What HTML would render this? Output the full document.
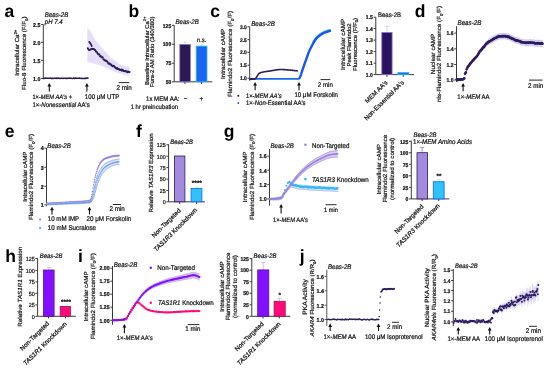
<!DOCTYPE html>
<html><head><meta charset="utf-8"><style>
html,body{margin:0;padding:0;background:#fff;width:550px;height:368px;overflow:hidden}
svg{display:block;will-change:transform}
text{font-family:"Liberation Sans", sans-serif;text-rendering:geometricPrecision}
</style></head><body>
<svg width="550" height="368" viewBox="0 0 550 368">
<rect width="550" height="368" fill="#fff"/>
<text x="4.6" y="16.9" style="font-size:17.5px;font-weight:bold" fill="#000">a</text>
<text x="0.00" y="0.00" text-anchor="middle" style="font-size:6.14px;" fill="#111" stroke="#111" stroke-width="0.22" transform="translate(18.90 52.70) scale(0.95 1) rotate(-90)" textLength="46.20" lengthAdjust="spacingAndGlyphs">Intracellular Ca<tspan dy="-2.46" font-size="4.30">2+</tspan><tspan dy="2.46">&#8203;</tspan></text>
<text x="0.00" y="0.00" text-anchor="middle" style="font-size:6.14px;" fill="#111" stroke="#111" stroke-width="0.22" transform="translate(25.90 53.20) scale(0.95 1) rotate(-90)" textLength="73.40" lengthAdjust="spacingAndGlyphs">Fluo-8 Fluorescence (F/F<tspan dy="1.72" font-size="4.30">0</tspan><tspan dy="-1.72">&#8203;</tspan>)</text>
<line x1="43.30" y1="24.50" x2="43.30" y2="78.60" stroke="#3a3a3a" stroke-width="1.0"/>
<line x1="41.10" y1="24.50" x2="43.30" y2="24.50" stroke="#3a3a3a" stroke-width="1.0"/>
<text x="40.40" y="26.81" text-anchor="end" style="font-size:5.72px;font-weight:bold;" fill="#111" stroke="#111" stroke-width="0.22" textLength="7.37" lengthAdjust="spacingAndGlyphs">2.5</text>
<line x1="41.10" y1="42.30" x2="43.30" y2="42.30" stroke="#3a3a3a" stroke-width="1.0"/>
<text x="40.40" y="44.61" text-anchor="end" style="font-size:5.72px;font-weight:bold;" fill="#111" stroke="#111" stroke-width="0.22" textLength="7.37" lengthAdjust="spacingAndGlyphs">2.0</text>
<line x1="41.10" y1="60.40" x2="43.30" y2="60.40" stroke="#3a3a3a" stroke-width="1.0"/>
<text x="40.40" y="62.71" text-anchor="end" style="font-size:5.72px;font-weight:bold;" fill="#111" stroke="#111" stroke-width="0.22" textLength="7.37" lengthAdjust="spacingAndGlyphs">1.5</text>
<line x1="41.10" y1="78.40" x2="43.30" y2="78.40" stroke="#3a3a3a" stroke-width="1.0"/>
<text x="40.40" y="80.71" text-anchor="end" style="font-size:5.72px;font-weight:bold;" fill="#111" stroke="#111" stroke-width="0.22" textLength="7.37" lengthAdjust="spacingAndGlyphs">1.0</text>
<text x="44.80" y="16.60" text-anchor="start" style="font-size:6.77px;font-style:italic;" fill="#111" stroke="#111" stroke-width="0.22" textLength="23.60" lengthAdjust="spacingAndGlyphs">Beas-2B</text>
<text x="44.80" y="23.80" text-anchor="start" style="font-size:6.60px;font-style:italic;" fill="#111" stroke="#111" stroke-width="0.22" textLength="17.68" lengthAdjust="spacingAndGlyphs">pH 7.4</text>
<polyline points="43.40,78.51 44.16,78.35 44.91,78.31 45.67,78.08 46.42,78.27 47.18,78.26 47.94,78.29 48.69,78.22 49.45,78.29 50.20,78.24 50.96,78.14 51.72,78.41 52.47,78.41 53.23,78.51 53.98,78.31 54.74,78.25 55.49,78.23 56.25,78.11 57.01,78.42 57.76,78.17 58.52,78.16 59.27,78.28 60.03,78.48 60.79,78.33 61.54,78.18 62.30,78.21 63.05,78.38 63.81,78.28 64.57,78.21 65.32,78.27 66.08,78.39 66.83,78.54 67.59,78.15 68.35,78.22 69.10,78.20 69.86,78.01 70.61,78.19 71.37,78.18 72.13,78.43 72.88,78.28 73.64,78.11 74.39,78.38 75.15,78.26 75.91,78.09 76.66,78.23 77.42,78.23 78.17,78.20 78.93,78.30 79.68,78.03 80.44,78.27 81.20,78.42 81.95,78.40 82.71,78.43 83.46,78.43 84.22,78.48 84.98,78.17 85.73,78.40 86.49,78.08 87.24,78.23 88.00,78.07" fill="none" stroke="#2d1b5c" stroke-width="1.6" stroke-linejoin="round" stroke-linecap="round" />
<polygon points="87.60,28.10 88.21,28.43 88.81,28.87 89.42,29.41 90.03,30.03 90.64,30.84 91.24,31.89 91.85,33.11 92.46,34.43 93.07,35.79 93.67,37.10 94.28,38.31 94.89,39.33 95.49,40.18 96.10,40.95 96.71,41.66 97.32,42.33 97.92,42.98 98.53,43.61 99.14,44.25 99.74,44.91 100.35,45.60 100.96,46.29 101.57,46.99 102.17,47.68 102.78,48.37 103.39,49.06 104.00,49.76 104.60,50.45 105.21,51.14 105.82,51.85 106.42,52.58 107.03,53.31 107.64,54.04 108.25,54.75 108.85,55.43 109.46,56.07 110.07,56.66 110.68,57.22 111.28,57.74 111.89,58.25 112.50,58.73 113.10,59.20 113.71,59.66 114.32,60.11 114.93,60.55 115.53,60.99 116.14,61.43 116.75,61.86 117.36,62.28 117.96,62.69 118.57,63.08 119.18,63.45 119.78,63.79 120.39,64.10 121.00,64.39 121.61,64.68 122.21,64.95 122.82,65.20 123.43,65.44 124.03,65.67 124.64,65.88 125.25,66.08 125.86,66.27 126.46,66.45 127.07,66.62 127.68,66.79 128.29,66.94 128.89,67.08 129.50,67.20 129.50,76.10 128.89,76.03 128.29,75.94 127.68,75.84 127.07,75.73 126.46,75.61 125.86,75.49 125.25,75.36 124.64,75.21 124.03,75.05 123.43,74.87 122.82,74.67 122.21,74.47 121.61,74.25 121.00,74.04 120.39,73.83 119.78,73.63 119.18,73.43 118.57,73.23 117.96,73.03 117.36,72.83 116.75,72.62 116.14,72.41 115.53,72.20 114.93,71.97 114.32,71.74 113.71,71.49 113.10,71.24 112.50,70.99 111.89,70.73 111.28,70.46 110.68,70.20 110.07,69.93 109.46,69.66 108.85,69.38 108.25,69.10 107.64,68.82 107.03,68.53 106.42,68.25 105.82,67.97 105.21,67.69 104.60,67.43 104.00,67.16 103.39,66.89 102.78,66.62 102.17,66.36 101.57,66.11 100.96,65.86 100.35,65.63 99.74,65.41 99.14,65.19 98.53,64.98 97.92,64.78 97.32,64.58 96.71,64.39 96.10,64.20 95.49,64.03 94.89,63.87 94.28,63.71 93.67,63.56 93.07,63.41 92.46,63.27 91.85,63.12 91.24,62.99 90.64,62.86 90.03,62.73 89.42,62.61 88.81,62.50 88.21,62.40 87.60,62.30" fill="#ebe6fa" fill-opacity="1.0" stroke="none"/>
<line x1="87.60" y1="28.22" x2="87.60" y2="61.81" stroke="#d2c7f3" stroke-width="0.3"/>
<line x1="88.81" y1="30.81" x2="88.81" y2="62.04" stroke="#d2c7f3" stroke-width="0.3"/>
<line x1="90.03" y1="31.41" x2="90.03" y2="61.43" stroke="#d2c7f3" stroke-width="0.3"/>
<line x1="91.24" y1="33.34" x2="91.24" y2="62.04" stroke="#d2c7f3" stroke-width="0.3"/>
<line x1="92.46" y1="35.63" x2="92.46" y2="63.13" stroke="#d2c7f3" stroke-width="0.3"/>
<line x1="93.67" y1="37.25" x2="93.67" y2="63.16" stroke="#d2c7f3" stroke-width="0.3"/>
<line x1="94.89" y1="39.64" x2="94.89" y2="63.67" stroke="#d2c7f3" stroke-width="0.3"/>
<line x1="96.10" y1="41.21" x2="96.10" y2="63.10" stroke="#d2c7f3" stroke-width="0.3"/>
<line x1="97.32" y1="42.71" x2="97.32" y2="62.67" stroke="#d2c7f3" stroke-width="0.3"/>
<line x1="98.53" y1="44.97" x2="98.53" y2="63.90" stroke="#d2c7f3" stroke-width="0.3"/>
<line x1="99.74" y1="46.33" x2="99.74" y2="64.88" stroke="#d2c7f3" stroke-width="0.3"/>
<line x1="100.96" y1="48.15" x2="100.96" y2="64.19" stroke="#d2c7f3" stroke-width="0.3"/>
<line x1="102.17" y1="49.13" x2="102.17" y2="65.40" stroke="#d2c7f3" stroke-width="0.3"/>
<line x1="103.39" y1="50.75" x2="103.39" y2="65.40" stroke="#d2c7f3" stroke-width="0.3"/>
<line x1="104.60" y1="51.77" x2="104.60" y2="65.60" stroke="#d2c7f3" stroke-width="0.3"/>
<line x1="105.82" y1="53.12" x2="105.82" y2="67.23" stroke="#d2c7f3" stroke-width="0.3"/>
<line x1="107.03" y1="54.42" x2="107.03" y2="68.14" stroke="#d2c7f3" stroke-width="0.3"/>
<line x1="108.25" y1="55.13" x2="108.25" y2="67.65" stroke="#d2c7f3" stroke-width="0.3"/>
<line x1="109.46" y1="57.64" x2="109.46" y2="67.72" stroke="#d2c7f3" stroke-width="0.3"/>
<line x1="110.68" y1="58.92" x2="110.68" y2="69.11" stroke="#d2c7f3" stroke-width="0.3"/>
<line x1="111.89" y1="58.43" x2="111.89" y2="69.75" stroke="#d2c7f3" stroke-width="0.3"/>
<line x1="113.10" y1="61.06" x2="113.10" y2="69.67" stroke="#d2c7f3" stroke-width="0.3"/>
<line x1="114.32" y1="61.08" x2="114.32" y2="70.83" stroke="#d2c7f3" stroke-width="0.3"/>
<line x1="115.53" y1="61.42" x2="115.53" y2="71.84" stroke="#d2c7f3" stroke-width="0.3"/>
<line x1="116.75" y1="62.01" x2="116.75" y2="70.84" stroke="#d2c7f3" stroke-width="0.3"/>
<line x1="117.96" y1="63.97" x2="117.96" y2="72.75" stroke="#d2c7f3" stroke-width="0.3"/>
<line x1="119.18" y1="64.28" x2="119.18" y2="73.33" stroke="#d2c7f3" stroke-width="0.3"/>
<line x1="120.39" y1="64.52" x2="120.39" y2="72.37" stroke="#d2c7f3" stroke-width="0.3"/>
<line x1="121.61" y1="65.98" x2="121.61" y2="73.30" stroke="#d2c7f3" stroke-width="0.3"/>
<line x1="122.82" y1="65.75" x2="122.82" y2="73.37" stroke="#d2c7f3" stroke-width="0.3"/>
<line x1="124.03" y1="67.58" x2="124.03" y2="74.18" stroke="#d2c7f3" stroke-width="0.3"/>
<line x1="125.25" y1="66.22" x2="125.25" y2="75.24" stroke="#d2c7f3" stroke-width="0.3"/>
<line x1="126.46" y1="66.62" x2="126.46" y2="73.70" stroke="#d2c7f3" stroke-width="0.3"/>
<line x1="127.68" y1="67.87" x2="127.68" y2="74.17" stroke="#d2c7f3" stroke-width="0.3"/>
<line x1="128.89" y1="67.42" x2="128.89" y2="75.51" stroke="#d2c7f3" stroke-width="0.3"/>
<circle cx="92.50" cy="48.92" r="1.0" fill="#2d1b5c"/>
<circle cx="93.19" cy="49.07" r="1.0" fill="#2d1b5c"/>
<circle cx="93.87" cy="49.07" r="1.0" fill="#2d1b5c"/>
<circle cx="94.56" cy="49.75" r="1.0" fill="#2d1b5c"/>
<circle cx="95.24" cy="50.21" r="1.0" fill="#2d1b5c"/>
<circle cx="95.93" cy="51.56" r="1.0" fill="#2d1b5c"/>
<circle cx="96.61" cy="51.70" r="1.0" fill="#2d1b5c"/>
<circle cx="97.30" cy="53.06" r="1.0" fill="#2d1b5c"/>
<circle cx="97.98" cy="53.97" r="1.0" fill="#2d1b5c"/>
<circle cx="98.67" cy="54.49" r="1.0" fill="#2d1b5c"/>
<circle cx="99.35" cy="54.53" r="1.0" fill="#2d1b5c"/>
<circle cx="100.04" cy="56.31" r="1.0" fill="#2d1b5c"/>
<circle cx="100.72" cy="56.00" r="1.0" fill="#2d1b5c"/>
<circle cx="101.41" cy="57.26" r="1.0" fill="#2d1b5c"/>
<circle cx="102.09" cy="57.36" r="1.0" fill="#2d1b5c"/>
<circle cx="102.78" cy="57.52" r="1.0" fill="#2d1b5c"/>
<circle cx="103.46" cy="59.13" r="1.0" fill="#2d1b5c"/>
<circle cx="104.15" cy="59.75" r="1.0" fill="#2d1b5c"/>
<circle cx="104.83" cy="60.13" r="1.0" fill="#2d1b5c"/>
<circle cx="105.52" cy="60.83" r="1.0" fill="#2d1b5c"/>
<circle cx="106.20" cy="60.86" r="1.0" fill="#2d1b5c"/>
<circle cx="106.89" cy="61.29" r="1.0" fill="#2d1b5c"/>
<circle cx="107.57" cy="62.05" r="1.0" fill="#2d1b5c"/>
<circle cx="108.26" cy="63.58" r="1.0" fill="#2d1b5c"/>
<circle cx="108.94" cy="63.55" r="1.0" fill="#2d1b5c"/>
<circle cx="109.63" cy="63.45" r="1.0" fill="#2d1b5c"/>
<circle cx="110.31" cy="64.57" r="1.0" fill="#2d1b5c"/>
<circle cx="111.00" cy="64.61" r="1.0" fill="#2d1b5c"/>
<circle cx="111.69" cy="65.15" r="1.0" fill="#2d1b5c"/>
<circle cx="112.37" cy="66.28" r="1.0" fill="#2d1b5c"/>
<circle cx="113.06" cy="66.03" r="1.0" fill="#2d1b5c"/>
<circle cx="113.74" cy="65.87" r="1.0" fill="#2d1b5c"/>
<circle cx="114.43" cy="66.65" r="1.0" fill="#2d1b5c"/>
<circle cx="115.11" cy="67.50" r="1.0" fill="#2d1b5c"/>
<circle cx="115.80" cy="67.84" r="1.0" fill="#2d1b5c"/>
<circle cx="116.48" cy="68.70" r="1.0" fill="#2d1b5c"/>
<circle cx="117.17" cy="68.00" r="1.0" fill="#2d1b5c"/>
<circle cx="117.85" cy="69.00" r="1.0" fill="#2d1b5c"/>
<circle cx="118.54" cy="69.14" r="1.0" fill="#2d1b5c"/>
<circle cx="119.22" cy="69.13" r="1.0" fill="#2d1b5c"/>
<circle cx="119.91" cy="69.90" r="1.0" fill="#2d1b5c"/>
<circle cx="120.59" cy="70.00" r="1.0" fill="#2d1b5c"/>
<circle cx="121.28" cy="69.57" r="1.0" fill="#2d1b5c"/>
<circle cx="121.96" cy="70.78" r="1.0" fill="#2d1b5c"/>
<circle cx="122.65" cy="69.87" r="1.0" fill="#2d1b5c"/>
<circle cx="123.33" cy="70.74" r="1.0" fill="#2d1b5c"/>
<circle cx="124.02" cy="70.92" r="1.0" fill="#2d1b5c"/>
<circle cx="124.70" cy="71.33" r="1.0" fill="#2d1b5c"/>
<circle cx="125.39" cy="70.94" r="1.0" fill="#2d1b5c"/>
<circle cx="126.07" cy="71.46" r="1.0" fill="#2d1b5c"/>
<circle cx="126.76" cy="71.57" r="1.0" fill="#2d1b5c"/>
<circle cx="127.44" cy="72.30" r="1.0" fill="#2d1b5c"/>
<circle cx="128.13" cy="71.55" r="1.0" fill="#2d1b5c"/>
<circle cx="128.81" cy="72.11" r="1.0" fill="#2d1b5c"/>
<circle cx="129.50" cy="72.07" r="1.0" fill="#2d1b5c"/>
<circle cx="87.80" cy="48.20" r="0.95" fill="#2d1b5c"/>
<circle cx="88.30" cy="49.30" r="0.95" fill="#2d1b5c"/>
<circle cx="89.00" cy="50.00" r="0.95" fill="#2d1b5c"/>
<circle cx="89.80" cy="49.90" r="0.95" fill="#2d1b5c"/>
<circle cx="90.60" cy="49.40" r="0.95" fill="#2d1b5c"/>
<circle cx="91.40" cy="48.90" r="0.95" fill="#2d1b5c"/>
<circle cx="92.00" cy="48.60" r="0.95" fill="#2d1b5c"/>
<circle cx="89.30" cy="41.90" r="0.95" fill="#2d1b5c"/>
<circle cx="89.90" cy="42.80" r="0.95" fill="#2d1b5c"/>
<circle cx="90.50" cy="43.60" r="0.95" fill="#2d1b5c"/>
<circle cx="91.10" cy="44.80" r="0.95" fill="#2d1b5c"/>
<circle cx="91.70" cy="46.00" r="0.95" fill="#2d1b5c"/>
<line x1="49.30" y1="85.50" x2="49.30" y2="91.60" stroke="#111" stroke-width="1.1"/>
<path d="M47.40,86.50 L49.30,83.00 L51.20,86.50 Z" fill="#111"/>
<line x1="86.90" y1="85.50" x2="86.90" y2="91.60" stroke="#111" stroke-width="1.1"/>
<path d="M85.00,86.50 L86.90,83.00 L88.80,86.50 Z" fill="#111"/>
<text x="32.40" y="99.20" text-anchor="start" style="font-size:6.28px;" fill="#111" stroke="#111" stroke-width="0.22" textLength="39.60" lengthAdjust="spacingAndGlyphs">1×-<tspan font-style="italic">MEM AA's</tspan> +</text>
<text x="32.40" y="106.60" text-anchor="start" style="font-size:6.63px;" fill="#111" stroke="#111" stroke-width="0.22" textLength="57.30" lengthAdjust="spacingAndGlyphs">1×-<tspan font-style="italic">Nonessential</tspan> AA's</text>
<text x="84.80" y="99.20" text-anchor="start" style="font-size:6.76px;" fill="#111" stroke="#111" stroke-width="0.22" textLength="34.60" lengthAdjust="spacingAndGlyphs">100 μM UTP</text>
<line x1="118.70" y1="82.60" x2="129.40" y2="82.60" stroke="#111" stroke-width="0.9"/>
<text x="116.50" y="89.50" text-anchor="start" style="font-size:6.88px;" fill="#111" stroke="#111" stroke-width="0.22" textLength="15.30" lengthAdjust="spacingAndGlyphs">2 min</text>
<text x="128.6" y="17" style="font-size:17.5px;font-weight:bold" fill="#000">b</text>
<text x="0.00" y="0.00" text-anchor="middle" style="font-size:5.89px;" fill="#111" stroke="#111" stroke-width="0.22" transform="translate(148.60 50.75) scale(0.95 1) rotate(-90)" textLength="68.50" lengthAdjust="spacingAndGlyphs">Baseline Intracellular Ca<tspan dy="-2.35" font-size="4.12">2+</tspan><tspan dy="2.35">&#8203;</tspan></text>
<text x="0.00" y="0.00" text-anchor="middle" style="font-size:5.97px;" fill="#111" stroke="#111" stroke-width="0.22" transform="translate(153.60 51.85) scale(0.95 1) rotate(-90)" textLength="70.70" lengthAdjust="spacingAndGlyphs">Fura-2 AM Ratio (340/380)</text>
<line x1="174.20" y1="25.30" x2="174.20" y2="81.80" stroke="#3a3a3a" stroke-width="1.0"/>
<line x1="172.00" y1="25.30" x2="174.20" y2="25.30" stroke="#3a3a3a" stroke-width="1.0"/>
<text x="171.30" y="27.53" text-anchor="end" style="font-size:5.50px;font-weight:bold;" fill="#111" stroke="#111" stroke-width="0.22" textLength="8.49" lengthAdjust="spacingAndGlyphs">125</text>
<line x1="172.00" y1="44.20" x2="174.20" y2="44.20" stroke="#3a3a3a" stroke-width="1.0"/>
<text x="171.30" y="46.43" text-anchor="end" style="font-size:5.50px;font-weight:bold;" fill="#111" stroke="#111" stroke-width="0.22" textLength="8.49" lengthAdjust="spacingAndGlyphs">100</text>
<line x1="172.00" y1="63.20" x2="174.20" y2="63.20" stroke="#3a3a3a" stroke-width="1.0"/>
<text x="171.30" y="65.43" text-anchor="end" style="font-size:5.50px;font-weight:bold;" fill="#111" stroke="#111" stroke-width="0.22" textLength="5.66" lengthAdjust="spacingAndGlyphs">75</text>
<line x1="172.00" y1="81.80" x2="174.20" y2="81.80" stroke="#3a3a3a" stroke-width="1.0"/>
<text x="171.30" y="84.03" text-anchor="end" style="font-size:5.50px;font-weight:bold;" fill="#111" stroke="#111" stroke-width="0.22" textLength="5.66" lengthAdjust="spacingAndGlyphs">50</text>
<line x1="174.20" y1="81.80" x2="212.30" y2="81.80" stroke="#3a3a3a" stroke-width="1.0"/>
<line x1="184.90" y1="81.80" x2="184.90" y2="84.00" stroke="#3a3a3a" stroke-width="1.0"/>
<line x1="201.50" y1="81.80" x2="201.50" y2="84.00" stroke="#3a3a3a" stroke-width="1.0"/>
<line x1="184.90" y1="44.40" x2="184.90" y2="41.80" stroke="#cbbff2" stroke-width="0.6"/>
<line x1="183.30" y1="41.80" x2="186.50" y2="41.80" stroke="#cbbff2" stroke-width="0.6"/>
<rect x="179.80" y="44.40" width="10.60" height="37.40" fill="#2b1a52" stroke="#8d76d8" stroke-width="0.8"/>
<line x1="201.50" y1="46.10" x2="201.50" y2="44.40" stroke="#a8e4ff" stroke-width="0.6"/>
<line x1="199.90" y1="44.40" x2="203.10" y2="44.40" stroke="#a8e4ff" stroke-width="0.6"/>
<rect x="196.20" y="46.10" width="10.80" height="35.70" fill="#1a66ee" stroke="#22b8ff" stroke-width="0.8"/>
<text x="197.10" y="41.60" text-anchor="start" style="font-size:6.28px;" fill="#111" stroke="#111" stroke-width="0.22" textLength="9.20" lengthAdjust="spacingAndGlyphs">n.s.</text>
<text x="175.50" y="23.80" text-anchor="start" style="font-size:6.68px;font-style:italic;" fill="#111" stroke="#111" stroke-width="0.22" textLength="23.30" lengthAdjust="spacingAndGlyphs">Beas-2B</text>
<text x="146.00" y="101.20" text-anchor="start" style="font-size:6.70px;" fill="#111" stroke="#111" stroke-width="0.22" textLength="33.50" lengthAdjust="spacingAndGlyphs">1x MEM AA:</text>
<text x="185.60" y="101.00" text-anchor="middle" style="font-size:6.82px;" fill="#111" stroke="#111" stroke-width="0.22" textLength="3.62" lengthAdjust="spacingAndGlyphs">−</text>
<text x="201.30" y="101.00" text-anchor="middle" style="font-size:6.82px;" fill="#111" stroke="#111" stroke-width="0.22" textLength="3.62" lengthAdjust="spacingAndGlyphs">+</text>
<text x="130.70" y="108.50" text-anchor="start" style="font-size:6.50px;" fill="#111" stroke="#111" stroke-width="0.22" textLength="47.30" lengthAdjust="spacingAndGlyphs">1 hr preincubation</text>
<text x="210.3" y="17.2" style="font-size:17.5px;font-weight:bold" fill="#000">c</text>
<text x="0.00" y="0.00" text-anchor="middle" style="font-size:6.19px;" fill="#111" stroke="#111" stroke-width="0.22" transform="translate(225.20 53.90) scale(0.95 1) rotate(-90)" textLength="50.20" lengthAdjust="spacingAndGlyphs">Intracellular cAMP</text>
<text x="0.00" y="0.00" text-anchor="middle" style="font-size:6.25px;" fill="#111" stroke="#111" stroke-width="0.22" transform="translate(232.00 53.95) scale(0.95 1) rotate(-90)" textLength="86.10" lengthAdjust="spacingAndGlyphs">Flamindo2 Fluorescence (F<tspan dy="1.75" font-size="4.37">0</tspan><tspan dy="-1.75">&#8203;</tspan>/F)</text>
<line x1="249.70" y1="26.70" x2="249.70" y2="80.80" stroke="#3a3a3a" stroke-width="1.0"/>
<line x1="247.50" y1="26.70" x2="249.70" y2="26.70" stroke="#3a3a3a" stroke-width="1.0"/>
<text x="246.80" y="28.89" text-anchor="end" style="font-size:5.38px;font-weight:bold;" fill="#111" stroke="#111" stroke-width="0.22" textLength="6.92" lengthAdjust="spacingAndGlyphs">3.0</text>
<line x1="247.50" y1="39.60" x2="249.70" y2="39.60" stroke="#3a3a3a" stroke-width="1.0"/>
<text x="246.80" y="41.79" text-anchor="end" style="font-size:5.38px;font-weight:bold;" fill="#111" stroke="#111" stroke-width="0.22" textLength="6.92" lengthAdjust="spacingAndGlyphs">2.5</text>
<line x1="247.50" y1="52.30" x2="249.70" y2="52.30" stroke="#3a3a3a" stroke-width="1.0"/>
<text x="246.80" y="54.49" text-anchor="end" style="font-size:5.38px;font-weight:bold;" fill="#111" stroke="#111" stroke-width="0.22" textLength="6.92" lengthAdjust="spacingAndGlyphs">2.0</text>
<line x1="247.50" y1="65.20" x2="249.70" y2="65.20" stroke="#3a3a3a" stroke-width="1.0"/>
<text x="246.80" y="67.39" text-anchor="end" style="font-size:5.38px;font-weight:bold;" fill="#111" stroke="#111" stroke-width="0.22" textLength="6.92" lengthAdjust="spacingAndGlyphs">1.5</text>
<line x1="247.50" y1="78.20" x2="249.70" y2="78.20" stroke="#3a3a3a" stroke-width="1.0"/>
<text x="246.80" y="80.39" text-anchor="end" style="font-size:5.38px;font-weight:bold;" fill="#111" stroke="#111" stroke-width="0.22" textLength="6.92" lengthAdjust="spacingAndGlyphs">1.0</text>
<text x="251.20" y="25.70" text-anchor="start" style="font-size:6.80px;font-style:italic;" fill="#111" stroke="#111" stroke-width="0.22" textLength="23.70" lengthAdjust="spacingAndGlyphs">Beas-2B</text>
<polyline points="313.15,42.50 313.52,41.82 313.89,41.16 314.25,40.52 314.62,39.93 314.99,39.39 315.35,38.90 315.72,38.45 316.08,38.02 316.45,37.61 316.82,37.21 317.18,36.84 317.55,36.49 317.92,36.15 318.28,35.82 318.65,35.51 319.01,35.21 319.38,34.92 319.75,34.63 320.11,34.35 320.48,34.08 320.84,33.83 321.21,33.57 321.58,33.33 321.94,33.10 322.31,32.88 322.68,32.68 323.04,32.48 323.41,32.30 323.77,32.12 324.14,31.96 324.51,31.81 324.87,31.66 325.24,31.52 325.61,31.38 325.97,31.25 326.34,31.13 326.70,31.00 327.07,30.88 327.44,30.75 327.80,30.64 328.17,30.52 328.54,30.41 328.90,30.30 329.27,30.20 329.63,30.10 330.00,30.00" fill="none" stroke="#40c0ff" stroke-width="2.2" stroke-linejoin="round" stroke-linecap="round" />
<polyline points="249.80,78.90 250.17,78.90 250.53,78.90 250.90,78.90 251.26,78.90 251.63,78.90 252.00,78.90 252.36,78.90 252.73,78.90 253.10,78.90 253.46,78.90 253.83,78.90 254.19,78.90 254.56,78.90 254.93,78.90 255.29,78.90 255.66,78.90 256.03,78.90 256.39,78.90 256.76,78.90 257.12,78.90 257.49,78.90 257.86,78.90 258.22,78.90 258.59,78.90 258.96,78.90 259.32,78.90 259.69,78.90 260.05,78.90 260.42,78.90 260.79,78.90 261.15,78.90 261.52,78.90 261.88,78.90 262.25,78.90 262.62,78.90 262.98,78.90 263.35,78.90 263.72,78.90 264.08,78.90 264.45,78.90 264.81,78.90 265.18,78.90 265.55,78.90 265.91,78.90 266.28,78.90 266.65,78.90 267.01,78.90 267.38,78.90 267.74,78.90 268.11,78.90 268.48,78.90 268.84,78.90 269.21,78.90 269.58,78.90 269.94,78.90 270.31,78.90 270.67,78.90 271.04,78.90 271.41,78.90 271.77,78.90 272.14,78.90 272.51,78.90 272.87,78.90 273.24,78.90 273.60,78.90 273.97,78.90 274.34,78.90 274.70,78.90 275.07,78.90 275.43,78.90 275.80,78.90 276.17,78.90 276.53,78.90 276.90,78.90 277.27,78.90 277.63,78.90 278.00,78.90 278.36,78.90 278.73,78.90 279.10,78.90 279.46,78.90 279.83,78.90 280.20,78.90 280.56,78.90 280.93,78.90 281.29,78.90 281.66,78.90 282.03,78.90 282.39,78.90 282.76,78.90 283.13,78.90 283.49,78.90 283.86,78.90 284.22,78.90 284.59,78.90 284.96,78.90 285.32,78.90 285.69,78.90 286.05,78.90 286.42,78.90 286.79,78.90 287.15,78.90 287.52,78.90 287.89,78.90 288.25,78.90 288.62,78.90 288.98,78.90 289.35,78.90 289.72,78.90 290.08,78.90 290.45,78.90 290.82,78.90 291.18,78.90 291.55,78.90 291.91,78.90 292.28,78.90 292.65,78.90 293.01,78.90 293.38,78.90 293.75,78.90 294.11,78.90 294.48,78.90 294.84,78.90 295.21,78.90 295.58,78.90 295.94,78.90 296.31,78.90 296.67,78.90 297.04,78.90 297.41,78.90 297.77,78.90 298.14,78.90 298.51,78.90 298.87,78.79 299.24,78.40 299.60,77.89 299.97,77.20" fill="none" stroke="#1a66ee" stroke-width="1.7" stroke-linejoin="round" stroke-linecap="round" />
<polyline points="299.60,77.89 299.97,77.20 300.34,76.29 300.70,75.33 301.07,74.28 301.44,73.15 301.80,71.98 302.17,70.81 302.53,69.70 302.90,68.63 303.27,67.58 303.63,66.54 304.00,65.50 304.37,64.48 304.73,63.46 305.10,62.45 305.46,61.43 305.83,60.42 306.20,59.41 306.56,58.38 306.93,57.34 307.29,56.28 307.66,55.24 308.03,54.21 308.39,53.22 308.76,52.27 309.13,51.37 309.49,50.54 309.86,49.74 310.22,48.98 310.59,48.24 310.96,47.53 311.32,46.83 311.69,46.15 312.06,45.47 312.42,44.79 312.79,44.09 313.15,43.40 313.52,42.72 313.89,42.06 314.25,41.42 314.62,40.83 314.99,40.29 315.35,39.80 315.72,39.35 316.08,38.92 316.45,38.51 316.82,38.11 317.18,37.74 317.55,37.39 317.92,37.05 318.28,36.72 318.65,36.41 319.01,36.11 319.38,35.82 319.75,35.53 320.11,35.25 320.48,34.98 320.84,34.73 321.21,34.47 321.58,34.23 321.94,34.00 322.31,33.78 322.68,33.58 323.04,33.38 323.41,33.20 323.77,33.02 324.14,32.86 324.51,32.71 324.87,32.56 325.24,32.42 325.61,32.28 325.97,32.15 326.34,32.03 326.70,31.90 327.07,31.78 327.44,31.65 327.80,31.54 328.17,31.42 328.54,31.31 328.90,31.20 329.27,31.10 329.63,31.00 330.00,30.90" fill="none" stroke="#1458f0" stroke-width="2.4" stroke-linejoin="round" stroke-linecap="round" />
<polyline points="249.80,79.10 250.40,79.10 251.00,79.10 251.60,79.10 252.21,79.10 252.81,79.10 253.41,79.10 254.01,79.09 254.61,78.99 255.21,78.73 255.81,78.24 256.41,77.43 257.02,76.39 257.62,75.37 258.22,74.43 258.82,73.68 259.42,73.20 260.02,72.92 260.62,72.69 261.22,72.50 261.83,72.34 262.43,72.19 263.03,72.06 263.63,71.94 264.23,71.83 264.83,71.72 265.43,71.62 266.03,71.53 266.64,71.45 267.24,71.37 267.84,71.29 268.44,71.21 269.04,71.13 269.64,71.05 270.24,70.96 270.84,70.86 271.45,70.76 272.05,70.66 272.65,70.55 273.25,70.44 273.85,70.33 274.45,70.22 275.05,70.11 275.65,70.01 276.26,69.91 276.86,69.82 277.46,69.74 278.06,69.67 278.66,69.61 279.26,69.56 279.86,69.53 280.46,69.52 281.07,69.51 281.67,69.52 282.27,69.53 282.87,69.56 283.47,69.59 284.07,69.62 284.67,69.66 285.27,69.70 285.88,69.75 286.48,69.80 287.08,69.85 287.68,69.90 288.28,69.95 288.88,70.00 289.48,70.06 290.08,70.11 290.69,70.16 291.29,70.22 291.89,70.27 292.49,70.33 293.09,70.40 293.69,70.46 294.29,70.53 294.89,70.60 295.50,70.67 296.10,70.75 296.70,70.81 297.30,70.85" fill="none" stroke="#2d1b5c" stroke-width="1.6" stroke-linejoin="round" stroke-linecap="round" />
<line x1="255.10" y1="84.50" x2="255.10" y2="90.20" stroke="#111" stroke-width="1.1"/>
<path d="M253.20,85.50 L255.10,82.00 L257.00,85.50 Z" fill="#111"/>
<line x1="299.00" y1="84.50" x2="299.00" y2="90.20" stroke="#111" stroke-width="1.1"/>
<path d="M297.10,85.50 L299.00,82.00 L300.90,85.50 Z" fill="#111"/>
<circle cx="238.3" cy="95.7" r="1.0" fill="#2d1b5c"/>
<circle cx="238.3" cy="103.0" r="1.0" fill="#1a66ee"/>
<text x="245.90" y="97.60" text-anchor="start" style="font-size:6.47px;" fill="#111" stroke="#111" stroke-width="0.22" textLength="35.70" lengthAdjust="spacingAndGlyphs">1×-<tspan font-style="italic">MEM AA's</tspan></text>
<text x="245.90" y="104.50" text-anchor="start" style="font-size:6.60px;" fill="#111" stroke="#111" stroke-width="0.22" textLength="59.70" lengthAdjust="spacingAndGlyphs">1×-<tspan font-style="italic">Non</tspan>-Essential AA's</text>
<text x="294.40" y="96.70" text-anchor="start" style="font-size:6.71px;" fill="#111" stroke="#111" stroke-width="0.22" textLength="43.50" lengthAdjust="spacingAndGlyphs">10 μM Forskolin</text>
<line x1="320.50" y1="79.60" x2="330.30" y2="79.60" stroke="#111" stroke-width="0.9"/>
<text x="317.80" y="86.60" text-anchor="start" style="font-size:6.75px;" fill="#111" stroke="#111" stroke-width="0.22" textLength="15.00" lengthAdjust="spacingAndGlyphs">2 min</text>
<text x="0.00" y="0.00" text-anchor="middle" style="font-size:6.32px;" fill="#111" stroke="#111" stroke-width="0.22" transform="translate(344.70 44.45) scale(0.95 1) rotate(-90)" textLength="51.30" lengthAdjust="spacingAndGlyphs">Intracellular cAMP</text>
<text x="0.00" y="0.00" text-anchor="middle" style="font-size:5.98px;" fill="#111" stroke="#111" stroke-width="0.22" transform="translate(350.50 44.90) scale(0.95 1) rotate(-90)" textLength="43.20" lengthAdjust="spacingAndGlyphs">Peak Flamindo2</text>
<text x="0.00" y="0.00" text-anchor="middle" style="font-size:6.00px;" fill="#111" stroke="#111" stroke-width="0.22" transform="translate(356.50 44.50) scale(0.95 1) rotate(-90)" textLength="53.00" lengthAdjust="spacingAndGlyphs">Fluorescence (F/F<tspan dy="1.68" font-size="4.20">0</tspan><tspan dy="-1.68">&#8203;</tspan>)</text>
<line x1="375.80" y1="17.20" x2="375.80" y2="74.60" stroke="#3a3a3a" stroke-width="1.0"/>
<line x1="373.60" y1="17.20" x2="375.80" y2="17.20" stroke="#3a3a3a" stroke-width="1.0"/>
<text x="372.90" y="19.43" text-anchor="end" style="font-size:5.50px;font-weight:bold;" fill="#111" stroke="#111" stroke-width="0.22" textLength="7.07" lengthAdjust="spacingAndGlyphs">1.5</text>
<line x1="373.60" y1="28.60" x2="375.80" y2="28.60" stroke="#3a3a3a" stroke-width="1.0"/>
<text x="372.90" y="30.83" text-anchor="end" style="font-size:5.50px;font-weight:bold;" fill="#111" stroke="#111" stroke-width="0.22" textLength="7.07" lengthAdjust="spacingAndGlyphs">1.4</text>
<line x1="373.60" y1="40.10" x2="375.80" y2="40.10" stroke="#3a3a3a" stroke-width="1.0"/>
<text x="372.90" y="42.33" text-anchor="end" style="font-size:5.50px;font-weight:bold;" fill="#111" stroke="#111" stroke-width="0.22" textLength="7.07" lengthAdjust="spacingAndGlyphs">1.3</text>
<line x1="373.60" y1="51.70" x2="375.80" y2="51.70" stroke="#3a3a3a" stroke-width="1.0"/>
<text x="372.90" y="53.93" text-anchor="end" style="font-size:5.50px;font-weight:bold;" fill="#111" stroke="#111" stroke-width="0.22" textLength="7.07" lengthAdjust="spacingAndGlyphs">1.2</text>
<line x1="373.60" y1="63.20" x2="375.80" y2="63.20" stroke="#3a3a3a" stroke-width="1.0"/>
<text x="372.90" y="65.43" text-anchor="end" style="font-size:5.50px;font-weight:bold;" fill="#111" stroke="#111" stroke-width="0.22" textLength="7.07" lengthAdjust="spacingAndGlyphs">1.1</text>
<line x1="373.60" y1="74.60" x2="375.80" y2="74.60" stroke="#3a3a3a" stroke-width="1.0"/>
<text x="372.90" y="76.83" text-anchor="end" style="font-size:5.50px;font-weight:bold;" fill="#111" stroke="#111" stroke-width="0.22" textLength="7.07" lengthAdjust="spacingAndGlyphs">1.0</text>
<line x1="375.80" y1="74.60" x2="414.10" y2="74.60" stroke="#3a3a3a" stroke-width="1.0"/>
<line x1="386.90" y1="74.60" x2="386.90" y2="76.80" stroke="#3a3a3a" stroke-width="1.0"/>
<line x1="403.20" y1="74.60" x2="403.20" y2="76.80" stroke="#3a3a3a" stroke-width="1.0"/>
<line x1="386.90" y1="32.40" x2="386.90" y2="26.30" stroke="#c2b4f0" stroke-width="0.6"/>
<line x1="384.30" y1="26.30" x2="389.50" y2="26.30" stroke="#c2b4f0" stroke-width="0.6"/>
<rect x="381.80" y="32.40" width="10.30" height="42.20" fill="#2a1262" stroke="#8d76d8" stroke-width="0.8"/>
<rect x="397.80" y="72.60" width="11.10" height="2.00" fill="#1a66ee" stroke="#22b8ff" stroke-width="0.8"/>
<text x="378.00" y="16.80" text-anchor="start" style="font-size:6.60px;" fill="#111" stroke="#111" stroke-width="0.22" textLength="23.00" lengthAdjust="spacingAndGlyphs">Beas-2B</text>
<text x="388.00" y="83.00" text-anchor="end" style="font-size:6.30px;" fill="#111" stroke="#111" stroke-width="0.22" transform="rotate(-45 388.00 83.00)">MEM AA's</text>
<text x="404.40" y="83.00" text-anchor="end" style="font-size:6.30px;" fill="#111" stroke="#111" stroke-width="0.22" transform="rotate(-45 404.40 83.00)">Non-Essential AA's</text>
<text x="414.8" y="16.8" style="font-size:17.5px;font-weight:bold" fill="#000">d</text>
<text x="0.00" y="0.00" text-anchor="middle" style="font-size:6.34px;" fill="#111" stroke="#111" stroke-width="0.22" transform="translate(434.60 53.95) scale(0.95 1) rotate(-90)" textLength="40.50" lengthAdjust="spacingAndGlyphs">Nuclear cAMP</text>
<text x="0.00" y="0.00" text-anchor="middle" style="font-size:6.23px;" fill="#111" stroke="#111" stroke-width="0.22" transform="translate(441.10 53.95) scale(0.95 1) rotate(-90)" textLength="95.90" lengthAdjust="spacingAndGlyphs">nls-Flamindo2 Fluorescence (F<tspan dy="1.74" font-size="4.36">0</tspan><tspan dy="-1.74">&#8203;</tspan>/F)</text>
<line x1="456.50" y1="26.20" x2="456.50" y2="81.90" stroke="#3a3a3a" stroke-width="1.0"/>
<line x1="454.30" y1="33.10" x2="456.50" y2="33.10" stroke="#3a3a3a" stroke-width="1.0"/>
<text x="453.60" y="35.33" text-anchor="end" style="font-size:5.50px;font-weight:bold;" fill="#111" stroke="#111" stroke-width="0.22" textLength="7.07" lengthAdjust="spacingAndGlyphs">1.6</text>
<line x1="454.30" y1="48.80" x2="456.50" y2="48.80" stroke="#3a3a3a" stroke-width="1.0"/>
<text x="453.60" y="51.03" text-anchor="end" style="font-size:5.50px;font-weight:bold;" fill="#111" stroke="#111" stroke-width="0.22" textLength="7.07" lengthAdjust="spacingAndGlyphs">1.4</text>
<line x1="454.30" y1="64.50" x2="456.50" y2="64.50" stroke="#3a3a3a" stroke-width="1.0"/>
<text x="453.60" y="66.73" text-anchor="end" style="font-size:5.50px;font-weight:bold;" fill="#111" stroke="#111" stroke-width="0.22" textLength="7.07" lengthAdjust="spacingAndGlyphs">1.2</text>
<line x1="454.30" y1="80.00" x2="456.50" y2="80.00" stroke="#3a3a3a" stroke-width="1.0"/>
<text x="453.60" y="82.23" text-anchor="end" style="font-size:5.50px;font-weight:bold;" fill="#111" stroke="#111" stroke-width="0.22" textLength="7.07" lengthAdjust="spacingAndGlyphs">1.0</text>
<text x="457.50" y="25.40" text-anchor="start" style="font-size:6.83px;font-style:italic;" fill="#111" stroke="#111" stroke-width="0.22" textLength="23.80" lengthAdjust="spacingAndGlyphs">Beas-2B</text>
<polygon points="456.80,78.84 457.62,79.60 458.45,79.01 459.27,78.67 460.10,79.18 460.92,78.61 461.74,78.80 462.57,78.78 463.39,78.34 464.22,77.59 465.04,73.01 465.86,71.56 466.69,68.43 467.51,66.56 468.34,65.21 469.16,64.13 469.98,62.90 470.81,62.06 471.63,60.85 472.46,59.71 473.28,58.94 474.10,57.68 474.93,56.92 475.75,55.86 476.58,55.02 477.40,53.94 478.23,52.43 479.05,51.07 479.87,49.55 480.70,48.62 481.52,47.58 482.35,46.55 483.17,45.26 483.99,44.77 484.82,43.55 485.64,42.29 486.47,41.32 487.29,40.57 488.11,39.93 488.94,39.20 489.76,38.66 490.59,38.15 491.41,37.75 492.23,37.23 493.06,36.52 493.88,36.19 494.71,35.62 495.53,35.18 496.35,35.22 497.18,34.26 498.00,34.32 498.83,33.55 499.65,33.58 500.47,33.74 501.30,33.52 502.12,33.59 502.95,33.45 503.77,33.40 504.59,33.46 505.42,33.35 506.24,33.86 507.07,33.67 507.89,34.31 508.71,33.76 509.54,34.67 510.36,35.15 511.19,35.34 512.01,35.93 512.83,36.16 513.66,36.31 514.48,36.79 515.31,37.61 516.13,37.42 516.95,37.74 517.78,37.87 518.60,38.23 519.43,38.18 520.25,38.63 521.08,39.39 521.90,39.31 522.72,39.40 523.55,39.64 524.37,39.90 525.20,39.71 526.02,40.07 526.84,39.91 527.67,39.77 528.49,40.12 529.32,39.34 530.14,39.74 530.96,39.94 531.79,39.75 532.61,39.95 533.44,39.90 534.26,39.94 535.08,40.65 535.91,40.28 536.73,40.19 537.56,40.51 538.38,40.24 539.20,40.51 540.03,40.44 540.85,40.74 541.68,40.17 542.50,40.65 542.50,46.65 541.68,46.16 540.85,46.72 540.03,46.40 539.20,46.46 538.38,46.18 537.56,46.43 536.73,46.10 535.91,46.18 535.08,46.54 534.26,45.81 533.44,45.76 532.61,45.80 531.79,45.59 530.96,45.77 530.14,45.55 529.32,45.14 528.49,45.91 527.67,45.55 526.84,45.68 526.02,45.82 525.20,45.45 524.37,45.62 523.55,45.35 522.72,45.10 521.90,45.00 521.08,45.06 520.25,44.30 519.43,43.83 518.60,43.86 517.78,43.49 516.95,43.35 516.13,43.02 515.31,43.19 514.48,42.36 513.66,41.87 512.83,41.70 512.01,41.47 511.19,40.86 510.36,40.66 509.54,40.16 508.71,39.24 507.89,39.78 507.07,39.13 506.24,39.31 505.42,38.79 504.59,38.88 503.77,38.81 502.95,38.85 502.12,38.97 501.30,38.89 500.47,39.10 499.65,38.92 498.83,38.88 498.00,39.64 497.18,39.57 496.35,40.51 495.53,40.46 494.71,40.89 493.88,41.45 493.06,41.77 492.23,42.46 491.41,42.97 490.59,43.36 489.76,43.82 488.94,44.23 488.11,44.82 487.29,45.33 486.47,45.95 485.64,46.79 484.82,47.92 483.99,49.01 483.17,49.37 482.35,50.53 481.52,51.42 480.70,52.33 479.87,53.13 479.05,54.52 478.23,55.75 477.40,57.12 476.58,58.07 475.75,58.78 474.93,59.71 474.10,60.34 473.28,61.47 472.46,62.10 471.63,63.11 470.81,64.19 469.98,64.90 469.16,66.06 468.34,67.08 467.51,68.37 466.69,70.18 465.86,73.24 465.04,74.64 464.22,79.16 463.39,79.84 462.57,80.21 461.74,80.17 460.92,79.92 460.10,80.43 459.27,79.86 458.45,80.13 457.62,80.66 456.80,79.84" fill="#e4ddf8" fill-opacity="1.0" stroke="none"/>
<polyline points="478.23,55.75 479.05,54.52 479.87,53.13 480.70,52.33 481.52,51.42 482.35,50.53 483.17,49.37 483.99,49.01 484.82,47.92 485.64,46.79 486.47,45.95 487.29,45.33 488.11,44.82 488.94,44.23 489.76,43.82 490.59,43.36 491.41,42.97 492.23,42.46 493.06,41.77 493.88,41.45 494.71,40.89 495.53,40.46 496.35,40.51 497.18,39.57 498.00,39.64 498.83,38.88 499.65,38.92 500.47,39.10 501.30,38.89 502.12,38.97 502.95,38.85 503.77,38.81 504.59,38.88 505.42,38.79 506.24,39.31 507.07,39.13 507.89,39.78 508.71,39.24 509.54,40.16 510.36,40.66 511.19,40.86 512.01,41.47 512.83,41.70 513.66,41.87 514.48,42.36 515.31,43.19 516.13,43.02 516.95,43.35 517.78,43.49 518.60,43.86 519.43,43.83 520.25,44.30 521.08,45.06 521.90,45.00 522.72,45.10 523.55,45.35 524.37,45.62 525.20,45.45 526.02,45.82 526.84,45.68 527.67,45.55 528.49,45.91 529.32,45.14 530.14,45.55 530.96,45.77 531.79,45.59 532.61,45.80 533.44,45.76 534.26,45.81 535.08,46.54 535.91,46.18 536.73,46.10 537.56,46.43 538.38,46.18 539.20,46.46 540.03,46.40 540.85,46.72 541.68,46.16 542.50,46.65" fill="none" stroke="#a492dc" stroke-width="0.5" stroke-linejoin="round" stroke-linecap="round" />
<polyline points="478.23,52.43 479.05,51.07 479.87,49.55 480.70,48.62 481.52,47.58 482.35,46.55 483.17,45.26 483.99,44.77 484.82,43.55 485.64,42.29 486.47,41.32 487.29,40.57 488.11,39.93 488.94,39.20 489.76,38.66 490.59,38.15 491.41,37.75 492.23,37.23 493.06,36.52 493.88,36.19 494.71,35.62 495.53,35.18 496.35,35.22 497.18,34.26 498.00,34.32 498.83,33.55 499.65,33.58 500.47,33.74 501.30,33.52 502.12,33.59 502.95,33.45 503.77,33.40 504.59,33.46 505.42,33.35 506.24,33.86 507.07,33.67 507.89,34.31 508.71,33.76 509.54,34.67 510.36,35.15 511.19,35.34 512.01,35.93 512.83,36.16 513.66,36.31 514.48,36.79 515.31,37.61 516.13,37.42 516.95,37.74 517.78,37.87 518.60,38.23 519.43,38.18 520.25,38.63 521.08,39.39 521.90,39.31 522.72,39.40 523.55,39.64 524.37,39.90 525.20,39.71 526.02,40.07 526.84,39.91 527.67,39.77 528.49,40.12 529.32,39.34 530.14,39.74 530.96,39.94 531.79,39.75 532.61,39.95 533.44,39.90 534.26,39.94 535.08,40.65 535.91,40.28 536.73,40.19 537.56,40.51 538.38,40.24 539.20,40.51 540.03,40.44 540.85,40.74 541.68,40.17 542.50,40.65" fill="none" stroke="#a492dc" stroke-width="0.5" stroke-linejoin="round" stroke-linecap="round" />
<circle cx="456.80" cy="79.34" r="1.35" fill="#2d1b5c"/>
<circle cx="457.62" cy="80.13" r="1.35" fill="#2d1b5c"/>
<circle cx="458.45" cy="79.57" r="1.35" fill="#2d1b5c"/>
<circle cx="459.27" cy="79.26" r="1.35" fill="#2d1b5c"/>
<circle cx="460.10" cy="79.81" r="1.35" fill="#2d1b5c"/>
<circle cx="460.92" cy="79.26" r="1.35" fill="#2d1b5c"/>
<circle cx="461.74" cy="79.48" r="1.35" fill="#2d1b5c"/>
<circle cx="462.57" cy="79.50" r="1.35" fill="#2d1b5c"/>
<circle cx="463.39" cy="79.09" r="1.35" fill="#2d1b5c"/>
<circle cx="464.22" cy="78.38" r="1.35" fill="#2d1b5c"/>
<circle cx="465.04" cy="73.82" r="1.35" fill="#2d1b5c"/>
<circle cx="465.86" cy="72.40" r="1.35" fill="#2d1b5c"/>
<circle cx="466.69" cy="69.31" r="1.35" fill="#2d1b5c"/>
<circle cx="467.51" cy="67.46" r="1.35" fill="#2d1b5c"/>
<circle cx="468.34" cy="66.14" r="1.35" fill="#2d1b5c"/>
<circle cx="469.16" cy="65.10" r="1.35" fill="#2d1b5c"/>
<circle cx="469.98" cy="63.90" r="1.35" fill="#2d1b5c"/>
<circle cx="470.81" cy="63.12" r="1.35" fill="#2d1b5c"/>
<circle cx="471.63" cy="61.98" r="1.35" fill="#2d1b5c"/>
<circle cx="472.46" cy="60.91" r="1.35" fill="#2d1b5c"/>
<circle cx="473.28" cy="60.21" r="1.35" fill="#2d1b5c"/>
<circle cx="474.10" cy="59.01" r="1.35" fill="#2d1b5c"/>
<circle cx="474.93" cy="58.31" r="1.35" fill="#2d1b5c"/>
<circle cx="475.75" cy="57.32" r="1.35" fill="#2d1b5c"/>
<circle cx="476.58" cy="56.54" r="1.35" fill="#2d1b5c"/>
<circle cx="477.40" cy="55.53" r="1.35" fill="#2d1b5c"/>
<circle cx="478.23" cy="54.09" r="1.35" fill="#2d1b5c"/>
<circle cx="479.05" cy="52.80" r="1.35" fill="#2d1b5c"/>
<circle cx="479.87" cy="51.34" r="1.35" fill="#2d1b5c"/>
<circle cx="480.70" cy="50.48" r="1.35" fill="#2d1b5c"/>
<circle cx="481.52" cy="49.50" r="1.35" fill="#2d1b5c"/>
<circle cx="482.35" cy="48.54" r="1.35" fill="#2d1b5c"/>
<circle cx="483.17" cy="47.32" r="1.35" fill="#2d1b5c"/>
<circle cx="483.99" cy="46.89" r="1.35" fill="#2d1b5c"/>
<circle cx="484.82" cy="45.74" r="1.35" fill="#2d1b5c"/>
<circle cx="485.64" cy="44.54" r="1.35" fill="#2d1b5c"/>
<circle cx="486.47" cy="43.63" r="1.35" fill="#2d1b5c"/>
<circle cx="487.29" cy="42.95" r="1.35" fill="#2d1b5c"/>
<circle cx="488.11" cy="42.38" r="1.35" fill="#2d1b5c"/>
<circle cx="488.94" cy="41.72" r="1.35" fill="#2d1b5c"/>
<circle cx="489.76" cy="41.24" r="1.35" fill="#2d1b5c"/>
<circle cx="490.59" cy="40.75" r="1.35" fill="#2d1b5c"/>
<circle cx="491.41" cy="40.36" r="1.35" fill="#2d1b5c"/>
<circle cx="492.23" cy="39.84" r="1.35" fill="#2d1b5c"/>
<circle cx="493.06" cy="39.15" r="1.35" fill="#2d1b5c"/>
<circle cx="493.88" cy="38.82" r="1.35" fill="#2d1b5c"/>
<circle cx="494.71" cy="38.26" r="1.35" fill="#2d1b5c"/>
<circle cx="495.53" cy="37.82" r="1.35" fill="#2d1b5c"/>
<circle cx="496.35" cy="37.87" r="1.35" fill="#2d1b5c"/>
<circle cx="497.18" cy="36.91" r="1.35" fill="#2d1b5c"/>
<circle cx="498.00" cy="36.98" r="1.35" fill="#2d1b5c"/>
<circle cx="498.83" cy="36.22" r="1.35" fill="#2d1b5c"/>
<circle cx="499.65" cy="36.25" r="1.35" fill="#2d1b5c"/>
<circle cx="500.47" cy="36.42" r="1.35" fill="#2d1b5c"/>
<circle cx="501.30" cy="36.20" r="1.35" fill="#2d1b5c"/>
<circle cx="502.12" cy="36.28" r="1.35" fill="#2d1b5c"/>
<circle cx="502.95" cy="36.15" r="1.35" fill="#2d1b5c"/>
<circle cx="503.77" cy="36.10" r="1.35" fill="#2d1b5c"/>
<circle cx="504.59" cy="36.17" r="1.35" fill="#2d1b5c"/>
<circle cx="505.42" cy="36.07" r="1.35" fill="#2d1b5c"/>
<circle cx="506.24" cy="36.58" r="1.35" fill="#2d1b5c"/>
<circle cx="507.07" cy="36.40" r="1.35" fill="#2d1b5c"/>
<circle cx="507.89" cy="37.05" r="1.35" fill="#2d1b5c"/>
<circle cx="508.71" cy="36.50" r="1.35" fill="#2d1b5c"/>
<circle cx="509.54" cy="37.41" r="1.35" fill="#2d1b5c"/>
<circle cx="510.36" cy="37.91" r="1.35" fill="#2d1b5c"/>
<circle cx="511.19" cy="38.10" r="1.35" fill="#2d1b5c"/>
<circle cx="512.01" cy="38.70" r="1.35" fill="#2d1b5c"/>
<circle cx="512.83" cy="38.93" r="1.35" fill="#2d1b5c"/>
<circle cx="513.66" cy="39.09" r="1.35" fill="#2d1b5c"/>
<circle cx="514.48" cy="39.58" r="1.35" fill="#2d1b5c"/>
<circle cx="515.31" cy="40.40" r="1.35" fill="#2d1b5c"/>
<circle cx="516.13" cy="40.22" r="1.35" fill="#2d1b5c"/>
<circle cx="516.95" cy="40.55" r="1.35" fill="#2d1b5c"/>
<circle cx="517.78" cy="40.68" r="1.35" fill="#2d1b5c"/>
<circle cx="518.60" cy="41.05" r="1.35" fill="#2d1b5c"/>
<circle cx="519.43" cy="41.01" r="1.35" fill="#2d1b5c"/>
<circle cx="520.25" cy="41.46" r="1.35" fill="#2d1b5c"/>
<circle cx="521.08" cy="42.22" r="1.35" fill="#2d1b5c"/>
<circle cx="521.90" cy="42.16" r="1.35" fill="#2d1b5c"/>
<circle cx="522.72" cy="42.25" r="1.35" fill="#2d1b5c"/>
<circle cx="523.55" cy="42.50" r="1.35" fill="#2d1b5c"/>
<circle cx="524.37" cy="42.76" r="1.35" fill="#2d1b5c"/>
<circle cx="525.20" cy="42.58" r="1.35" fill="#2d1b5c"/>
<circle cx="526.02" cy="42.94" r="1.35" fill="#2d1b5c"/>
<circle cx="526.84" cy="42.80" r="1.35" fill="#2d1b5c"/>
<circle cx="527.67" cy="42.66" r="1.35" fill="#2d1b5c"/>
<circle cx="528.49" cy="43.02" r="1.35" fill="#2d1b5c"/>
<circle cx="529.32" cy="42.24" r="1.35" fill="#2d1b5c"/>
<circle cx="530.14" cy="42.64" r="1.35" fill="#2d1b5c"/>
<circle cx="530.96" cy="42.86" r="1.35" fill="#2d1b5c"/>
<circle cx="531.79" cy="42.67" r="1.35" fill="#2d1b5c"/>
<circle cx="532.61" cy="42.87" r="1.35" fill="#2d1b5c"/>
<circle cx="533.44" cy="42.83" r="1.35" fill="#2d1b5c"/>
<circle cx="534.26" cy="42.87" r="1.35" fill="#2d1b5c"/>
<circle cx="535.08" cy="43.60" r="1.35" fill="#2d1b5c"/>
<circle cx="535.91" cy="43.23" r="1.35" fill="#2d1b5c"/>
<circle cx="536.73" cy="43.14" r="1.35" fill="#2d1b5c"/>
<circle cx="537.56" cy="43.47" r="1.35" fill="#2d1b5c"/>
<circle cx="538.38" cy="43.21" r="1.35" fill="#2d1b5c"/>
<circle cx="539.20" cy="43.48" r="1.35" fill="#2d1b5c"/>
<circle cx="540.03" cy="43.42" r="1.35" fill="#2d1b5c"/>
<circle cx="540.85" cy="43.73" r="1.35" fill="#2d1b5c"/>
<circle cx="541.68" cy="43.17" r="1.35" fill="#2d1b5c"/>
<circle cx="542.50" cy="43.65" r="1.35" fill="#2d1b5c"/>
<line x1="463.10" y1="85.60" x2="463.10" y2="91.20" stroke="#111" stroke-width="1.1"/>
<path d="M461.20,86.60 L463.10,83.10 L465.00,86.60 Z" fill="#111"/>
<text x="457.30" y="98.50" text-anchor="start" style="font-size:6.63px;" fill="#111" stroke="#111" stroke-width="0.22" textLength="32.30" lengthAdjust="spacingAndGlyphs">1×-<tspan font-style="italic">MEM</tspan> AA</text>
<line x1="529.00" y1="80.10" x2="542.50" y2="80.10" stroke="#111" stroke-width="0.9"/>
<text x="528.10" y="87.80" text-anchor="start" style="font-size:6.84px;" fill="#111" stroke="#111" stroke-width="0.22" textLength="15.20" lengthAdjust="spacingAndGlyphs">2 min</text>
<text x="4.7" y="136.7" style="font-size:17.5px;font-weight:bold" fill="#000">e</text>
<text x="0.00" y="0.00" text-anchor="middle" style="font-size:6.19px;" fill="#111" stroke="#111" stroke-width="0.22" transform="translate(26.50 176.60) scale(0.95 1) rotate(-90)" textLength="50.20" lengthAdjust="spacingAndGlyphs">Intracellular cAMP</text>
<text x="0.00" y="0.00" text-anchor="middle" style="font-size:6.26px;" fill="#111" stroke="#111" stroke-width="0.22" transform="translate(33.00 176.95) scale(0.95 1) rotate(-90)" textLength="86.30" lengthAdjust="spacingAndGlyphs">Flamindo2 Fluorescence (F<tspan dy="1.75" font-size="4.38">0</tspan><tspan dy="-1.75">&#8203;</tspan>/F)</text>
<line x1="46.50" y1="148.10" x2="46.50" y2="206.30" stroke="#3a3a3a" stroke-width="1.0"/>
<line x1="44.30" y1="148.10" x2="46.50" y2="148.10" stroke="#3a3a3a" stroke-width="1.0"/>
<text x="43.60" y="150.41" text-anchor="end" style="font-size:5.72px;font-weight:bold;" fill="#111" stroke="#111" stroke-width="0.22" textLength="2.95" lengthAdjust="spacingAndGlyphs">4</text>
<line x1="44.30" y1="167.30" x2="46.50" y2="167.30" stroke="#3a3a3a" stroke-width="1.0"/>
<text x="43.60" y="169.61" text-anchor="end" style="font-size:5.72px;font-weight:bold;" fill="#111" stroke="#111" stroke-width="0.22" textLength="2.95" lengthAdjust="spacingAndGlyphs">3</text>
<line x1="44.30" y1="186.30" x2="46.50" y2="186.30" stroke="#3a3a3a" stroke-width="1.0"/>
<text x="43.60" y="188.61" text-anchor="end" style="font-size:5.72px;font-weight:bold;" fill="#111" stroke="#111" stroke-width="0.22" textLength="2.95" lengthAdjust="spacingAndGlyphs">2</text>
<line x1="44.30" y1="204.90" x2="46.50" y2="204.90" stroke="#3a3a3a" stroke-width="1.0"/>
<text x="43.60" y="207.21" text-anchor="end" style="font-size:5.72px;font-weight:bold;" fill="#111" stroke="#111" stroke-width="0.22" textLength="2.95" lengthAdjust="spacingAndGlyphs">1</text>
<text x="47.30" y="147.70" text-anchor="start" style="font-size:6.77px;font-style:italic;" fill="#111" stroke="#111" stroke-width="0.22" textLength="23.60" lengthAdjust="spacingAndGlyphs">Beas-2B</text>
<polygon points="46.80,202.40 47.32,202.37 47.84,202.35 48.36,202.32 48.88,202.30 49.40,202.27 49.92,202.25 50.44,202.22 50.96,202.19 51.48,202.17 52.00,202.14 52.52,202.11 53.04,202.08 53.56,202.06 54.08,202.03 54.60,202.00 55.12,201.97 55.64,201.95 56.16,201.92 56.68,201.89 57.20,201.86 57.72,201.83 58.24,201.80 58.76,201.77 59.28,201.74 59.80,201.71 60.32,201.68 60.84,201.65 61.36,201.62 61.88,201.59 62.40,201.56 62.92,201.53 63.44,201.50 63.96,201.47 64.48,201.44 65.01,201.41 65.53,201.38 66.05,201.34 66.57,201.31 67.09,201.28 67.61,201.25 68.13,201.22 68.65,201.18 69.17,201.15 69.69,201.12 70.21,201.09 70.73,201.06 71.25,201.03 71.77,201.00 72.29,200.97 72.81,200.94 73.33,200.91 73.85,200.89 74.37,200.86 74.89,200.84 75.41,200.81 75.93,200.79 76.45,200.76 76.97,200.73 77.49,200.71 78.01,200.68 78.53,200.65 79.05,200.62 79.57,200.60 80.09,200.56 80.61,200.53 81.13,200.50 81.65,200.46 82.17,200.43 82.69,200.39 83.21,200.35 83.73,200.31 84.25,200.26 84.77,200.22 85.29,200.17 85.81,200.12 86.33,200.06 86.85,200.00 87.37,199.94 87.89,199.88 88.41,199.81 88.93,199.73 89.45,199.61 89.97,199.41 90.49,198.75 91.01,197.37 91.53,195.60 92.05,193.42 92.57,190.28 93.09,186.83 93.61,183.80 94.13,181.06 94.65,178.47 95.17,176.12 95.69,174.04 96.21,172.07 96.73,170.24 97.25,168.58 97.77,167.12 98.29,165.85 98.81,164.67 99.33,163.61 99.85,162.65 100.37,161.82 100.89,161.10 101.42,160.43 101.94,159.81 102.46,159.24 102.98,158.74 103.50,158.30 104.02,157.95 104.54,157.66 105.06,157.41 105.58,157.18 106.10,156.98 106.62,156.79 107.14,156.62 107.66,156.46 108.18,156.30 108.70,156.14 109.22,155.98 109.74,155.83 110.26,155.68 110.78,155.54 111.30,155.40 111.82,155.28 112.34,155.16 112.86,155.05 113.38,154.96 113.90,154.89 114.42,154.82 114.94,154.75 115.46,154.68 115.98,154.62 116.50,154.57 117.02,154.52 117.54,154.47 118.06,154.44 118.58,154.42 119.10,154.40 119.10,156.80 118.58,156.82 118.06,156.84 117.54,156.87 117.02,156.92 116.50,156.97 115.98,157.02 115.46,157.08 114.94,157.15 114.42,157.22 113.90,157.29 113.38,157.36 112.86,157.45 112.34,157.56 111.82,157.68 111.30,157.80 110.78,157.94 110.26,158.08 109.74,158.23 109.22,158.38 108.70,158.54 108.18,158.70 107.66,158.86 107.14,159.02 106.62,159.19 106.10,159.38 105.58,159.58 105.06,159.81 104.54,160.06 104.02,160.35 103.50,160.70 102.98,161.14 102.46,161.64 101.94,162.21 101.42,162.83 100.89,163.50 100.37,164.22 99.85,165.05 99.33,166.01 98.81,167.07 98.29,168.25 97.77,169.52 97.25,170.98 96.73,172.64 96.21,174.47 95.69,176.44 95.17,178.52 94.65,180.87 94.13,183.46 93.61,186.20 93.09,189.23 92.57,192.68 92.05,195.82 91.53,198.00 91.01,199.77 90.49,201.15 89.97,201.81 89.45,202.01 88.93,202.13 88.41,202.21 87.89,202.28 87.37,202.34 86.85,202.40 86.33,202.46 85.81,202.52 85.29,202.57 84.77,202.62 84.25,202.66 83.73,202.71 83.21,202.75 82.69,202.79 82.17,202.83 81.65,202.86 81.13,202.90 80.61,202.93 80.09,202.96 79.57,203.00 79.05,203.02 78.53,203.05 78.01,203.08 77.49,203.11 76.97,203.13 76.45,203.16 75.93,203.19 75.41,203.21 74.89,203.24 74.37,203.26 73.85,203.29 73.33,203.31 72.81,203.34 72.29,203.37 71.77,203.40 71.25,203.43 70.73,203.46 70.21,203.49 69.69,203.52 69.17,203.55 68.65,203.58 68.13,203.62 67.61,203.65 67.09,203.68 66.57,203.71 66.05,203.74 65.53,203.78 65.01,203.81 64.48,203.84 63.96,203.87 63.44,203.90 62.92,203.93 62.40,203.96 61.88,203.99 61.36,204.02 60.84,204.05 60.32,204.08 59.80,204.11 59.28,204.14 58.76,204.17 58.24,204.20 57.72,204.23 57.20,204.26 56.68,204.29 56.16,204.32 55.64,204.35 55.12,204.37 54.60,204.40 54.08,204.43 53.56,204.46 53.04,204.48 52.52,204.51 52.00,204.54 51.48,204.57 50.96,204.59 50.44,204.62 49.92,204.65 49.40,204.67 48.88,204.70 48.36,204.72 47.84,204.75 47.32,204.77 46.80,204.80" fill="#cdbff3" fill-opacity="1.0" stroke="none"/>
<circle cx="46.80" cy="203.60" r="0.75" fill="#9b7fe0"/>
<circle cx="47.32" cy="203.57" r="0.75" fill="#9b7fe0"/>
<circle cx="47.84" cy="203.55" r="0.75" fill="#9b7fe0"/>
<circle cx="48.36" cy="203.52" r="0.75" fill="#9b7fe0"/>
<circle cx="48.88" cy="203.50" r="0.75" fill="#9b7fe0"/>
<circle cx="49.40" cy="203.47" r="0.75" fill="#9b7fe0"/>
<circle cx="49.92" cy="203.45" r="0.75" fill="#9b7fe0"/>
<circle cx="50.44" cy="203.42" r="0.75" fill="#9b7fe0"/>
<circle cx="50.96" cy="203.39" r="0.75" fill="#9b7fe0"/>
<circle cx="51.48" cy="203.37" r="0.75" fill="#9b7fe0"/>
<circle cx="52.00" cy="203.34" r="0.75" fill="#9b7fe0"/>
<circle cx="52.52" cy="203.31" r="0.75" fill="#9b7fe0"/>
<circle cx="53.04" cy="203.28" r="0.75" fill="#9b7fe0"/>
<circle cx="53.56" cy="203.26" r="0.75" fill="#9b7fe0"/>
<circle cx="54.08" cy="203.23" r="0.75" fill="#9b7fe0"/>
<circle cx="54.60" cy="203.20" r="0.75" fill="#9b7fe0"/>
<circle cx="55.12" cy="203.17" r="0.75" fill="#9b7fe0"/>
<circle cx="55.64" cy="203.15" r="0.75" fill="#9b7fe0"/>
<circle cx="56.16" cy="203.12" r="0.75" fill="#9b7fe0"/>
<circle cx="56.68" cy="203.09" r="0.75" fill="#9b7fe0"/>
<circle cx="57.20" cy="203.06" r="0.75" fill="#9b7fe0"/>
<circle cx="57.72" cy="203.03" r="0.75" fill="#9b7fe0"/>
<circle cx="58.24" cy="203.00" r="0.75" fill="#9b7fe0"/>
<circle cx="58.76" cy="202.97" r="0.75" fill="#9b7fe0"/>
<circle cx="59.28" cy="202.94" r="0.75" fill="#9b7fe0"/>
<circle cx="59.80" cy="202.91" r="0.75" fill="#9b7fe0"/>
<circle cx="60.32" cy="202.88" r="0.75" fill="#9b7fe0"/>
<circle cx="60.84" cy="202.85" r="0.75" fill="#9b7fe0"/>
<circle cx="61.36" cy="202.82" r="0.75" fill="#9b7fe0"/>
<circle cx="61.88" cy="202.79" r="0.75" fill="#9b7fe0"/>
<circle cx="62.40" cy="202.76" r="0.75" fill="#9b7fe0"/>
<circle cx="62.92" cy="202.73" r="0.75" fill="#9b7fe0"/>
<circle cx="63.44" cy="202.70" r="0.75" fill="#9b7fe0"/>
<circle cx="63.96" cy="202.67" r="0.75" fill="#9b7fe0"/>
<circle cx="64.48" cy="202.64" r="0.75" fill="#9b7fe0"/>
<circle cx="65.01" cy="202.61" r="0.75" fill="#9b7fe0"/>
<circle cx="65.53" cy="202.58" r="0.75" fill="#9b7fe0"/>
<circle cx="66.05" cy="202.54" r="0.75" fill="#9b7fe0"/>
<circle cx="66.57" cy="202.51" r="0.75" fill="#9b7fe0"/>
<circle cx="67.09" cy="202.48" r="0.75" fill="#9b7fe0"/>
<circle cx="67.61" cy="202.45" r="0.75" fill="#9b7fe0"/>
<circle cx="68.13" cy="202.42" r="0.75" fill="#9b7fe0"/>
<circle cx="68.65" cy="202.38" r="0.75" fill="#9b7fe0"/>
<circle cx="69.17" cy="202.35" r="0.75" fill="#9b7fe0"/>
<circle cx="69.69" cy="202.32" r="0.75" fill="#9b7fe0"/>
<circle cx="70.21" cy="202.29" r="0.75" fill="#9b7fe0"/>
<circle cx="70.73" cy="202.26" r="0.75" fill="#9b7fe0"/>
<circle cx="71.25" cy="202.23" r="0.75" fill="#9b7fe0"/>
<circle cx="71.77" cy="202.20" r="0.75" fill="#9b7fe0"/>
<circle cx="72.29" cy="202.17" r="0.75" fill="#9b7fe0"/>
<circle cx="72.81" cy="202.14" r="0.75" fill="#9b7fe0"/>
<circle cx="73.33" cy="202.11" r="0.75" fill="#9b7fe0"/>
<circle cx="73.85" cy="202.09" r="0.75" fill="#9b7fe0"/>
<circle cx="74.37" cy="202.06" r="0.75" fill="#9b7fe0"/>
<circle cx="74.89" cy="202.04" r="0.75" fill="#9b7fe0"/>
<circle cx="75.41" cy="202.01" r="0.75" fill="#9b7fe0"/>
<circle cx="75.93" cy="201.99" r="0.75" fill="#9b7fe0"/>
<circle cx="76.45" cy="201.96" r="0.75" fill="#9b7fe0"/>
<circle cx="76.97" cy="201.93" r="0.75" fill="#9b7fe0"/>
<circle cx="77.49" cy="201.91" r="0.75" fill="#9b7fe0"/>
<circle cx="78.01" cy="201.88" r="0.75" fill="#9b7fe0"/>
<circle cx="78.53" cy="201.85" r="0.75" fill="#9b7fe0"/>
<circle cx="79.05" cy="201.82" r="0.75" fill="#9b7fe0"/>
<circle cx="79.57" cy="201.80" r="0.75" fill="#9b7fe0"/>
<circle cx="80.09" cy="201.76" r="0.75" fill="#9b7fe0"/>
<circle cx="80.61" cy="201.73" r="0.75" fill="#9b7fe0"/>
<circle cx="81.13" cy="201.70" r="0.75" fill="#9b7fe0"/>
<circle cx="81.65" cy="201.66" r="0.75" fill="#9b7fe0"/>
<circle cx="82.17" cy="201.63" r="0.75" fill="#9b7fe0"/>
<circle cx="82.69" cy="201.59" r="0.75" fill="#9b7fe0"/>
<circle cx="83.21" cy="201.55" r="0.75" fill="#9b7fe0"/>
<circle cx="83.73" cy="201.51" r="0.75" fill="#9b7fe0"/>
<circle cx="84.25" cy="201.46" r="0.75" fill="#9b7fe0"/>
<circle cx="84.77" cy="201.42" r="0.75" fill="#9b7fe0"/>
<circle cx="85.29" cy="201.37" r="0.75" fill="#9b7fe0"/>
<circle cx="85.81" cy="201.32" r="0.75" fill="#9b7fe0"/>
<circle cx="86.33" cy="201.26" r="0.75" fill="#9b7fe0"/>
<circle cx="86.85" cy="201.20" r="0.75" fill="#9b7fe0"/>
<circle cx="87.37" cy="201.14" r="0.75" fill="#9b7fe0"/>
<circle cx="87.89" cy="201.08" r="0.75" fill="#9b7fe0"/>
<circle cx="88.41" cy="201.01" r="0.75" fill="#9b7fe0"/>
<circle cx="88.93" cy="200.93" r="0.75" fill="#9b7fe0"/>
<circle cx="89.45" cy="200.81" r="0.75" fill="#9b7fe0"/>
<circle cx="89.97" cy="200.61" r="0.75" fill="#9b7fe0"/>
<circle cx="90.49" cy="199.95" r="0.75" fill="#9b7fe0"/>
<circle cx="91.01" cy="198.57" r="0.75" fill="#9b7fe0"/>
<circle cx="91.53" cy="196.80" r="0.75" fill="#9b7fe0"/>
<circle cx="92.05" cy="194.62" r="0.75" fill="#9b7fe0"/>
<circle cx="92.57" cy="191.48" r="0.75" fill="#9b7fe0"/>
<circle cx="93.09" cy="188.03" r="0.75" fill="#9b7fe0"/>
<circle cx="93.61" cy="185.00" r="0.75" fill="#9b7fe0"/>
<circle cx="94.13" cy="182.26" r="0.75" fill="#9b7fe0"/>
<circle cx="94.65" cy="179.67" r="0.75" fill="#9b7fe0"/>
<circle cx="95.17" cy="177.32" r="0.75" fill="#9b7fe0"/>
<circle cx="95.69" cy="175.24" r="0.75" fill="#9b7fe0"/>
<circle cx="96.21" cy="173.27" r="0.75" fill="#9b7fe0"/>
<circle cx="96.73" cy="171.44" r="0.75" fill="#9b7fe0"/>
<circle cx="97.25" cy="169.78" r="0.75" fill="#9b7fe0"/>
<circle cx="97.77" cy="168.32" r="0.75" fill="#9b7fe0"/>
<circle cx="98.29" cy="167.05" r="0.75" fill="#9b7fe0"/>
<circle cx="98.81" cy="165.87" r="0.75" fill="#9b7fe0"/>
<circle cx="99.33" cy="164.81" r="0.75" fill="#9b7fe0"/>
<circle cx="99.85" cy="163.85" r="0.75" fill="#9b7fe0"/>
<circle cx="100.37" cy="163.02" r="0.75" fill="#9b7fe0"/>
<circle cx="100.89" cy="162.30" r="0.75" fill="#9b7fe0"/>
<circle cx="101.42" cy="161.63" r="0.75" fill="#9b7fe0"/>
<circle cx="101.94" cy="161.01" r="0.75" fill="#9b7fe0"/>
<circle cx="102.46" cy="160.44" r="0.75" fill="#9b7fe0"/>
<circle cx="102.98" cy="159.94" r="0.75" fill="#9b7fe0"/>
<circle cx="103.50" cy="159.50" r="0.75" fill="#9b7fe0"/>
<circle cx="104.02" cy="159.15" r="0.75" fill="#9b7fe0"/>
<circle cx="104.54" cy="158.86" r="0.75" fill="#9b7fe0"/>
<circle cx="105.06" cy="158.61" r="0.75" fill="#9b7fe0"/>
<circle cx="105.58" cy="158.38" r="0.75" fill="#9b7fe0"/>
<circle cx="106.10" cy="158.18" r="0.75" fill="#9b7fe0"/>
<circle cx="106.62" cy="157.99" r="0.75" fill="#9b7fe0"/>
<circle cx="107.14" cy="157.82" r="0.75" fill="#9b7fe0"/>
<circle cx="107.66" cy="157.66" r="0.75" fill="#9b7fe0"/>
<circle cx="108.18" cy="157.50" r="0.75" fill="#9b7fe0"/>
<circle cx="108.70" cy="157.34" r="0.75" fill="#9b7fe0"/>
<circle cx="109.22" cy="157.18" r="0.75" fill="#9b7fe0"/>
<circle cx="109.74" cy="157.03" r="0.75" fill="#9b7fe0"/>
<circle cx="110.26" cy="156.88" r="0.75" fill="#9b7fe0"/>
<circle cx="110.78" cy="156.74" r="0.75" fill="#9b7fe0"/>
<circle cx="111.30" cy="156.60" r="0.75" fill="#9b7fe0"/>
<circle cx="111.82" cy="156.48" r="0.75" fill="#9b7fe0"/>
<circle cx="112.34" cy="156.36" r="0.75" fill="#9b7fe0"/>
<circle cx="112.86" cy="156.25" r="0.75" fill="#9b7fe0"/>
<circle cx="113.38" cy="156.16" r="0.75" fill="#9b7fe0"/>
<circle cx="113.90" cy="156.09" r="0.75" fill="#9b7fe0"/>
<circle cx="114.42" cy="156.02" r="0.75" fill="#9b7fe0"/>
<circle cx="114.94" cy="155.95" r="0.75" fill="#9b7fe0"/>
<circle cx="115.46" cy="155.88" r="0.75" fill="#9b7fe0"/>
<circle cx="115.98" cy="155.82" r="0.75" fill="#9b7fe0"/>
<circle cx="116.50" cy="155.77" r="0.75" fill="#9b7fe0"/>
<circle cx="117.02" cy="155.72" r="0.75" fill="#9b7fe0"/>
<circle cx="117.54" cy="155.67" r="0.75" fill="#9b7fe0"/>
<circle cx="118.06" cy="155.64" r="0.75" fill="#9b7fe0"/>
<circle cx="118.58" cy="155.62" r="0.75" fill="#9b7fe0"/>
<circle cx="119.10" cy="155.60" r="0.75" fill="#9b7fe0"/>
<polygon points="46.80,203.50 47.32,203.48 47.84,203.47 48.36,203.45 48.88,203.43 49.40,203.41 49.92,203.39 50.44,203.37 50.96,203.35 51.48,203.33 52.00,203.31 52.52,203.29 53.04,203.27 53.56,203.25 54.08,203.23 54.60,203.21 55.12,203.19 55.64,203.17 56.16,203.15 56.68,203.13 57.20,203.10 57.72,203.08 58.24,203.06 58.76,203.04 59.28,203.01 59.80,202.99 60.32,202.97 60.84,202.94 61.36,202.92 61.88,202.90 62.40,202.87 62.92,202.85 63.44,202.82 63.96,202.80 64.48,202.77 65.01,202.75 65.53,202.72 66.05,202.70 66.57,202.67 67.09,202.65 67.61,202.62 68.13,202.59 68.65,202.57 69.17,202.54 69.69,202.52 70.21,202.49 70.73,202.46 71.25,202.44 71.77,202.42 72.29,202.40 72.81,202.38 73.33,202.36 73.85,202.34 74.37,202.32 74.89,202.30 75.41,202.29 75.93,202.27 76.45,202.25 76.97,202.23 77.49,202.21 78.01,202.20 78.53,202.18 79.05,202.16 79.57,202.13 80.09,202.11 80.61,202.09 81.13,202.06 81.65,202.03 82.17,202.00 82.69,201.97 83.21,201.94 83.73,201.90 84.25,201.86 84.77,201.82 85.29,201.78 85.81,201.73 86.33,201.68 86.85,201.63 87.37,201.57 87.89,201.51 88.41,201.45 88.93,201.38 89.45,201.31 89.97,201.16 90.49,200.85 91.01,200.34 91.53,199.11 92.05,197.25 92.57,195.03 93.09,192.71 93.61,190.54 94.13,188.23 94.65,185.79 95.17,183.50 95.69,181.48 96.21,179.53 96.73,177.69 97.25,176.00 97.77,174.52 98.29,173.26 98.81,172.11 99.33,171.08 99.85,170.13 100.37,169.26 100.89,168.44 101.42,167.65 101.94,166.89 102.46,166.18 102.98,165.54 103.50,164.96 104.02,164.47 104.54,164.05 105.06,163.67 105.58,163.33 106.10,163.01 106.62,162.71 107.14,162.44 107.66,162.18 108.18,161.94 108.70,161.71 109.22,161.50 109.74,161.29 110.26,161.08 110.78,160.89 111.30,160.71 111.82,160.54 112.34,160.38 112.86,160.23 113.38,160.10 113.90,159.98 114.42,159.86 114.94,159.75 115.46,159.64 115.98,159.54 116.50,159.45 117.02,159.36 117.54,159.28 118.06,159.21 118.58,159.15 119.10,159.10 119.10,164.40 118.58,164.41 118.06,164.45 117.54,164.51 117.02,164.58 116.50,164.67 115.98,164.78 115.46,164.89 114.94,165.01 114.42,165.14 113.90,165.27 113.38,165.42 112.86,165.60 112.34,165.82 111.82,166.06 111.30,166.32 110.78,166.61 110.26,166.91 109.74,167.23 109.22,167.55 108.70,167.88 108.18,168.20 107.66,168.54 107.14,168.90 106.62,169.27 106.10,169.67 105.58,170.10 105.06,170.56 104.54,171.05 104.02,171.59 103.50,172.20 102.98,172.88 102.46,173.64 101.94,174.47 101.42,175.34 100.89,176.26 100.37,177.22 99.85,178.27 99.33,179.40 98.81,180.63 98.29,181.94 97.77,183.35 97.25,184.95 96.73,186.71 96.21,188.56 95.69,190.43 95.17,192.24 94.65,194.19 94.13,196.11 93.61,197.72 93.09,198.94 92.57,200.09 92.05,201.10 91.53,201.92 91.01,202.47 90.49,202.74 89.97,202.91 89.45,203.01 88.93,203.06 88.41,203.11 87.89,203.16 87.37,203.21 86.85,203.26 86.33,203.30 85.81,203.34 85.29,203.37 84.77,203.41 84.25,203.44 83.73,203.47 83.21,203.50 82.69,203.53 82.17,203.55 81.65,203.58 81.13,203.60 80.61,203.62 80.09,203.64 79.57,203.66 79.05,203.68 78.53,203.70 78.01,203.72 77.49,203.73 76.97,203.75 76.45,203.77 75.93,203.78 75.41,203.80 74.89,203.82 74.37,203.83 73.85,203.85 73.33,203.87 72.81,203.89 72.29,203.90 71.77,203.92 71.25,203.95 70.73,203.97 70.21,203.99 69.69,204.01 69.17,204.04 68.65,204.06 68.13,204.09 67.61,204.11 67.09,204.14 66.57,204.16 66.05,204.18 65.53,204.21 65.01,204.23 64.48,204.25 63.96,204.28 63.44,204.30 62.92,204.32 62.40,204.35 61.88,204.37 61.36,204.39 60.84,204.42 60.32,204.44 59.80,204.46 59.28,204.49 58.76,204.51 58.24,204.53 57.72,204.55 57.20,204.58 56.68,204.60 56.16,204.62 55.64,204.64 55.12,204.66 54.60,204.69 54.08,204.71 53.56,204.73 53.04,204.75 52.52,204.77 52.00,204.79 51.48,204.81 50.96,204.84 50.44,204.86 49.92,204.88 49.40,204.90 48.88,204.92 48.36,204.94 47.84,204.96 47.32,204.98 46.80,205.00" fill="#d7e3f8" fill-opacity="1.0" stroke="none"/>
<polyline points="46.80,203.50 47.32,203.48 47.84,203.47 48.36,203.45 48.88,203.43 49.40,203.41 49.92,203.39 50.44,203.37 50.96,203.35 51.48,203.33 52.00,203.31 52.52,203.29 53.04,203.27 53.56,203.25 54.08,203.23 54.60,203.21 55.12,203.19 55.64,203.17 56.16,203.15 56.68,203.13 57.20,203.10 57.72,203.08 58.24,203.06 58.76,203.04 59.28,203.01 59.80,202.99 60.32,202.97 60.84,202.94 61.36,202.92 61.88,202.90 62.40,202.87 62.92,202.85 63.44,202.82 63.96,202.80 64.48,202.77 65.01,202.75 65.53,202.72 66.05,202.70 66.57,202.67 67.09,202.65 67.61,202.62 68.13,202.59 68.65,202.57 69.17,202.54 69.69,202.52 70.21,202.49 70.73,202.46 71.25,202.44 71.77,202.42 72.29,202.40 72.81,202.38 73.33,202.36 73.85,202.34 74.37,202.32 74.89,202.30 75.41,202.29 75.93,202.27 76.45,202.25 76.97,202.23 77.49,202.21 78.01,202.20 78.53,202.18 79.05,202.16 79.57,202.13 80.09,202.11 80.61,202.09 81.13,202.06 81.65,202.03 82.17,202.00 82.69,201.97 83.21,201.94 83.73,201.90 84.25,201.86 84.77,201.82 85.29,201.78 85.81,201.73 86.33,201.68 86.85,201.63 87.37,201.57 87.89,201.51 88.41,201.45 88.93,201.38 89.45,201.31 89.97,201.16 90.49,200.85 91.01,200.34 91.53,199.11 92.05,197.25 92.57,195.03 93.09,192.71 93.61,190.54 94.13,188.23 94.65,185.79 95.17,183.50 95.69,181.48 96.21,179.53 96.73,177.69 97.25,176.00 97.77,174.52 98.29,173.26 98.81,172.11 99.33,171.08 99.85,170.13 100.37,169.26 100.89,168.44 101.42,167.65 101.94,166.89 102.46,166.18 102.98,165.54 103.50,164.96 104.02,164.47 104.54,164.05 105.06,163.67 105.58,163.33 106.10,163.01 106.62,162.71 107.14,162.44 107.66,162.18 108.18,161.94 108.70,161.71 109.22,161.50 109.74,161.29 110.26,161.08 110.78,160.89 111.30,160.71 111.82,160.54 112.34,160.38 112.86,160.23 113.38,160.10 113.90,159.98 114.42,159.86 114.94,159.75 115.46,159.64 115.98,159.54 116.50,159.45 117.02,159.36 117.54,159.28 118.06,159.21 118.58,159.15 119.10,159.10" fill="none" stroke="#86aeea" stroke-width="0.9" stroke-linejoin="round" stroke-linecap="round" />
<polyline points="46.80,205.00 47.32,204.98 47.84,204.96 48.36,204.94 48.88,204.92 49.40,204.90 49.92,204.88 50.44,204.86 50.96,204.84 51.48,204.81 52.00,204.79 52.52,204.77 53.04,204.75 53.56,204.73 54.08,204.71 54.60,204.69 55.12,204.66 55.64,204.64 56.16,204.62 56.68,204.60 57.20,204.58 57.72,204.55 58.24,204.53 58.76,204.51 59.28,204.49 59.80,204.46 60.32,204.44 60.84,204.42 61.36,204.39 61.88,204.37 62.40,204.35 62.92,204.32 63.44,204.30 63.96,204.28 64.48,204.25 65.01,204.23 65.53,204.21 66.05,204.18 66.57,204.16 67.09,204.14 67.61,204.11 68.13,204.09 68.65,204.06 69.17,204.04 69.69,204.01 70.21,203.99 70.73,203.97 71.25,203.95 71.77,203.92 72.29,203.90 72.81,203.89 73.33,203.87 73.85,203.85 74.37,203.83 74.89,203.82 75.41,203.80 75.93,203.78 76.45,203.77 76.97,203.75 77.49,203.73 78.01,203.72 78.53,203.70 79.05,203.68 79.57,203.66 80.09,203.64 80.61,203.62 81.13,203.60 81.65,203.58 82.17,203.55 82.69,203.53 83.21,203.50 83.73,203.47 84.25,203.44 84.77,203.41 85.29,203.37 85.81,203.34 86.33,203.30 86.85,203.26 87.37,203.21 87.89,203.16 88.41,203.11 88.93,203.06 89.45,203.01 89.97,202.91 90.49,202.74 91.01,202.47 91.53,201.92 92.05,201.10 92.57,200.09 93.09,198.94 93.61,197.72 94.13,196.11 94.65,194.19 95.17,192.24 95.69,190.43 96.21,188.56 96.73,186.71 97.25,184.95 97.77,183.35 98.29,181.94 98.81,180.63 99.33,179.40 99.85,178.27 100.37,177.22 100.89,176.26 101.42,175.34 101.94,174.47 102.46,173.64 102.98,172.88 103.50,172.20 104.02,171.59 104.54,171.05 105.06,170.56 105.58,170.10 106.10,169.67 106.62,169.27 107.14,168.90 107.66,168.54 108.18,168.20 108.70,167.88 109.22,167.55 109.74,167.23 110.26,166.91 110.78,166.61 111.30,166.32 111.82,166.06 112.34,165.82 112.86,165.60 113.38,165.42 113.90,165.27 114.42,165.14 114.94,165.01 115.46,164.89 115.98,164.78 116.50,164.67 117.02,164.58 117.54,164.51 118.06,164.45 118.58,164.41 119.10,164.40" fill="none" stroke="#86aeea" stroke-width="0.9" stroke-linejoin="round" stroke-linecap="round" />
<circle cx="46.80" cy="204.25" r="0.6" fill="#6f9be6"/>
<circle cx="47.32" cy="204.23" r="0.6" fill="#6f9be6"/>
<circle cx="47.84" cy="204.21" r="0.6" fill="#6f9be6"/>
<circle cx="48.36" cy="204.19" r="0.6" fill="#6f9be6"/>
<circle cx="48.88" cy="204.17" r="0.6" fill="#6f9be6"/>
<circle cx="49.40" cy="204.15" r="0.6" fill="#6f9be6"/>
<circle cx="49.92" cy="204.13" r="0.6" fill="#6f9be6"/>
<circle cx="50.44" cy="204.11" r="0.6" fill="#6f9be6"/>
<circle cx="50.96" cy="204.09" r="0.6" fill="#6f9be6"/>
<circle cx="51.48" cy="204.07" r="0.6" fill="#6f9be6"/>
<circle cx="52.00" cy="204.05" r="0.6" fill="#6f9be6"/>
<circle cx="52.52" cy="204.03" r="0.6" fill="#6f9be6"/>
<circle cx="53.04" cy="204.01" r="0.6" fill="#6f9be6"/>
<circle cx="53.56" cy="203.99" r="0.6" fill="#6f9be6"/>
<circle cx="54.08" cy="203.97" r="0.6" fill="#6f9be6"/>
<circle cx="54.60" cy="203.95" r="0.6" fill="#6f9be6"/>
<circle cx="55.12" cy="203.93" r="0.6" fill="#6f9be6"/>
<circle cx="55.64" cy="203.91" r="0.6" fill="#6f9be6"/>
<circle cx="56.16" cy="203.88" r="0.6" fill="#6f9be6"/>
<circle cx="56.68" cy="203.86" r="0.6" fill="#6f9be6"/>
<circle cx="57.20" cy="203.84" r="0.6" fill="#6f9be6"/>
<circle cx="57.72" cy="203.82" r="0.6" fill="#6f9be6"/>
<circle cx="58.24" cy="203.79" r="0.6" fill="#6f9be6"/>
<circle cx="58.76" cy="203.77" r="0.6" fill="#6f9be6"/>
<circle cx="59.28" cy="203.75" r="0.6" fill="#6f9be6"/>
<circle cx="59.80" cy="203.73" r="0.6" fill="#6f9be6"/>
<circle cx="60.32" cy="203.70" r="0.6" fill="#6f9be6"/>
<circle cx="60.84" cy="203.68" r="0.6" fill="#6f9be6"/>
<circle cx="61.36" cy="203.66" r="0.6" fill="#6f9be6"/>
<circle cx="61.88" cy="203.63" r="0.6" fill="#6f9be6"/>
<circle cx="62.40" cy="203.61" r="0.6" fill="#6f9be6"/>
<circle cx="62.92" cy="203.59" r="0.6" fill="#6f9be6"/>
<circle cx="63.44" cy="203.56" r="0.6" fill="#6f9be6"/>
<circle cx="63.96" cy="203.54" r="0.6" fill="#6f9be6"/>
<circle cx="64.48" cy="203.51" r="0.6" fill="#6f9be6"/>
<circle cx="65.01" cy="203.49" r="0.6" fill="#6f9be6"/>
<circle cx="65.53" cy="203.46" r="0.6" fill="#6f9be6"/>
<circle cx="66.05" cy="203.44" r="0.6" fill="#6f9be6"/>
<circle cx="66.57" cy="203.42" r="0.6" fill="#6f9be6"/>
<circle cx="67.09" cy="203.39" r="0.6" fill="#6f9be6"/>
<circle cx="67.61" cy="203.37" r="0.6" fill="#6f9be6"/>
<circle cx="68.13" cy="203.34" r="0.6" fill="#6f9be6"/>
<circle cx="68.65" cy="203.32" r="0.6" fill="#6f9be6"/>
<circle cx="69.17" cy="203.29" r="0.6" fill="#6f9be6"/>
<circle cx="69.69" cy="203.27" r="0.6" fill="#6f9be6"/>
<circle cx="70.21" cy="203.24" r="0.6" fill="#6f9be6"/>
<circle cx="70.73" cy="203.22" r="0.6" fill="#6f9be6"/>
<circle cx="71.25" cy="203.19" r="0.6" fill="#6f9be6"/>
<circle cx="71.77" cy="203.17" r="0.6" fill="#6f9be6"/>
<circle cx="72.29" cy="203.15" r="0.6" fill="#6f9be6"/>
<circle cx="72.81" cy="203.13" r="0.6" fill="#6f9be6"/>
<circle cx="73.33" cy="203.11" r="0.6" fill="#6f9be6"/>
<circle cx="73.85" cy="203.09" r="0.6" fill="#6f9be6"/>
<circle cx="74.37" cy="203.08" r="0.6" fill="#6f9be6"/>
<circle cx="74.89" cy="203.06" r="0.6" fill="#6f9be6"/>
<circle cx="75.41" cy="203.04" r="0.6" fill="#6f9be6"/>
<circle cx="75.93" cy="203.03" r="0.6" fill="#6f9be6"/>
<circle cx="76.45" cy="203.01" r="0.6" fill="#6f9be6"/>
<circle cx="76.97" cy="202.99" r="0.6" fill="#6f9be6"/>
<circle cx="77.49" cy="202.97" r="0.6" fill="#6f9be6"/>
<circle cx="78.01" cy="202.96" r="0.6" fill="#6f9be6"/>
<circle cx="78.53" cy="202.94" r="0.6" fill="#6f9be6"/>
<circle cx="79.05" cy="202.92" r="0.6" fill="#6f9be6"/>
<circle cx="79.57" cy="202.90" r="0.6" fill="#6f9be6"/>
<circle cx="80.09" cy="202.88" r="0.6" fill="#6f9be6"/>
<circle cx="80.61" cy="202.85" r="0.6" fill="#6f9be6"/>
<circle cx="81.13" cy="202.83" r="0.6" fill="#6f9be6"/>
<circle cx="81.65" cy="202.81" r="0.6" fill="#6f9be6"/>
<circle cx="82.17" cy="202.78" r="0.6" fill="#6f9be6"/>
<circle cx="82.69" cy="202.75" r="0.6" fill="#6f9be6"/>
<circle cx="83.21" cy="202.72" r="0.6" fill="#6f9be6"/>
<circle cx="83.73" cy="202.69" r="0.6" fill="#6f9be6"/>
<circle cx="84.25" cy="202.65" r="0.6" fill="#6f9be6"/>
<circle cx="84.77" cy="202.62" r="0.6" fill="#6f9be6"/>
<circle cx="85.29" cy="202.58" r="0.6" fill="#6f9be6"/>
<circle cx="85.81" cy="202.53" r="0.6" fill="#6f9be6"/>
<circle cx="86.33" cy="202.49" r="0.6" fill="#6f9be6"/>
<circle cx="86.85" cy="202.44" r="0.6" fill="#6f9be6"/>
<circle cx="87.37" cy="202.39" r="0.6" fill="#6f9be6"/>
<circle cx="87.89" cy="202.34" r="0.6" fill="#6f9be6"/>
<circle cx="88.41" cy="202.28" r="0.6" fill="#6f9be6"/>
<circle cx="88.93" cy="202.22" r="0.6" fill="#6f9be6"/>
<circle cx="89.45" cy="202.16" r="0.6" fill="#6f9be6"/>
<circle cx="89.97" cy="202.03" r="0.6" fill="#6f9be6"/>
<circle cx="90.49" cy="201.79" r="0.6" fill="#6f9be6"/>
<circle cx="91.01" cy="201.40" r="0.6" fill="#6f9be6"/>
<circle cx="91.53" cy="200.51" r="0.6" fill="#6f9be6"/>
<circle cx="92.05" cy="199.18" r="0.6" fill="#6f9be6"/>
<circle cx="92.57" cy="197.56" r="0.6" fill="#6f9be6"/>
<circle cx="93.09" cy="195.83" r="0.6" fill="#6f9be6"/>
<circle cx="93.61" cy="194.13" r="0.6" fill="#6f9be6"/>
<circle cx="94.13" cy="192.17" r="0.6" fill="#6f9be6"/>
<circle cx="94.65" cy="189.99" r="0.6" fill="#6f9be6"/>
<circle cx="95.17" cy="187.87" r="0.6" fill="#6f9be6"/>
<circle cx="95.69" cy="185.96" r="0.6" fill="#6f9be6"/>
<circle cx="96.21" cy="184.05" r="0.6" fill="#6f9be6"/>
<circle cx="96.73" cy="182.20" r="0.6" fill="#6f9be6"/>
<circle cx="97.25" cy="180.47" r="0.6" fill="#6f9be6"/>
<circle cx="97.77" cy="178.94" r="0.6" fill="#6f9be6"/>
<circle cx="98.29" cy="177.60" r="0.6" fill="#6f9be6"/>
<circle cx="98.81" cy="176.37" r="0.6" fill="#6f9be6"/>
<circle cx="99.33" cy="175.24" r="0.6" fill="#6f9be6"/>
<circle cx="99.85" cy="174.20" r="0.6" fill="#6f9be6"/>
<circle cx="100.37" cy="173.24" r="0.6" fill="#6f9be6"/>
<circle cx="100.89" cy="172.35" r="0.6" fill="#6f9be6"/>
<circle cx="101.42" cy="171.50" r="0.6" fill="#6f9be6"/>
<circle cx="101.94" cy="170.68" r="0.6" fill="#6f9be6"/>
<circle cx="102.46" cy="169.91" r="0.6" fill="#6f9be6"/>
<circle cx="102.98" cy="169.21" r="0.6" fill="#6f9be6"/>
<circle cx="103.50" cy="168.58" r="0.6" fill="#6f9be6"/>
<circle cx="104.02" cy="168.03" r="0.6" fill="#6f9be6"/>
<circle cx="104.54" cy="167.55" r="0.6" fill="#6f9be6"/>
<circle cx="105.06" cy="167.12" r="0.6" fill="#6f9be6"/>
<circle cx="105.58" cy="166.71" r="0.6" fill="#6f9be6"/>
<circle cx="106.10" cy="166.34" r="0.6" fill="#6f9be6"/>
<circle cx="106.62" cy="165.99" r="0.6" fill="#6f9be6"/>
<circle cx="107.14" cy="165.67" r="0.6" fill="#6f9be6"/>
<circle cx="107.66" cy="165.36" r="0.6" fill="#6f9be6"/>
<circle cx="108.18" cy="165.07" r="0.6" fill="#6f9be6"/>
<circle cx="108.70" cy="164.80" r="0.6" fill="#6f9be6"/>
<circle cx="109.22" cy="164.52" r="0.6" fill="#6f9be6"/>
<circle cx="109.74" cy="164.26" r="0.6" fill="#6f9be6"/>
<circle cx="110.26" cy="164.00" r="0.6" fill="#6f9be6"/>
<circle cx="110.78" cy="163.75" r="0.6" fill="#6f9be6"/>
<circle cx="111.30" cy="163.52" r="0.6" fill="#6f9be6"/>
<circle cx="111.82" cy="163.30" r="0.6" fill="#6f9be6"/>
<circle cx="112.34" cy="163.10" r="0.6" fill="#6f9be6"/>
<circle cx="112.86" cy="162.92" r="0.6" fill="#6f9be6"/>
<circle cx="113.38" cy="162.76" r="0.6" fill="#6f9be6"/>
<circle cx="113.90" cy="162.63" r="0.6" fill="#6f9be6"/>
<circle cx="114.42" cy="162.50" r="0.6" fill="#6f9be6"/>
<circle cx="114.94" cy="162.38" r="0.6" fill="#6f9be6"/>
<circle cx="115.46" cy="162.27" r="0.6" fill="#6f9be6"/>
<circle cx="115.98" cy="162.16" r="0.6" fill="#6f9be6"/>
<circle cx="116.50" cy="162.06" r="0.6" fill="#6f9be6"/>
<circle cx="117.02" cy="161.97" r="0.6" fill="#6f9be6"/>
<circle cx="117.54" cy="161.89" r="0.6" fill="#6f9be6"/>
<circle cx="118.06" cy="161.83" r="0.6" fill="#6f9be6"/>
<circle cx="118.58" cy="161.78" r="0.6" fill="#6f9be6"/>
<circle cx="119.10" cy="161.75" r="0.6" fill="#6f9be6"/>
<line x1="52.00" y1="209.30" x2="52.00" y2="214.50" stroke="#111" stroke-width="1.1"/>
<path d="M50.10,210.30 L52.00,206.80 L53.90,210.30 Z" fill="#111"/>
<line x1="89.50" y1="209.30" x2="89.50" y2="214.50" stroke="#111" stroke-width="1.1"/>
<path d="M87.60,210.30 L89.50,206.80 L91.40,210.30 Z" fill="#111"/>
<circle cx="40.1" cy="219.6" r="1.1" fill="#9b7fe0"/>
<circle cx="40.1" cy="228.2" r="1.1" fill="#6f9fe8"/>
<text x="47.80" y="221.40" text-anchor="start" style="font-size:6.76px;" fill="#111" stroke="#111" stroke-width="0.22" textLength="31.40" lengthAdjust="spacingAndGlyphs">10 mM IMP</text>
<text x="47.80" y="230.10" text-anchor="start" style="font-size:6.82px;" fill="#111" stroke="#111" stroke-width="0.22" textLength="48.24" lengthAdjust="spacingAndGlyphs">10 mM Sucralose</text>
<text x="86.40" y="221.40" text-anchor="start" style="font-size:6.92px;" fill="#111" stroke="#111" stroke-width="0.22" textLength="44.90" lengthAdjust="spacingAndGlyphs">20 μM Forskolin</text>
<line x1="112.80" y1="204.50" x2="121.00" y2="204.50" stroke="#111" stroke-width="0.9"/>
<text x="109.50" y="211.30" text-anchor="start" style="font-size:6.88px;" fill="#111" stroke="#111" stroke-width="0.22" textLength="15.30" lengthAdjust="spacingAndGlyphs">2 min</text>
<text x="136.1" y="136.8" style="font-size:17.5px;font-weight:bold" fill="#000">f</text>
<text x="0.00" y="0.00" text-anchor="middle" style="font-size:6.19px;" fill="#111" stroke="#111" stroke-width="0.22" transform="translate(153.40 172.95) scale(0.95 1) rotate(-90)" textLength="79.30" lengthAdjust="spacingAndGlyphs">Relative <tspan font-style="italic">TAS1R3</tspan> Expression</text>
<line x1="168.60" y1="144.20" x2="168.60" y2="201.80" stroke="#3a3a3a" stroke-width="1.0"/>
<line x1="166.40" y1="144.80" x2="168.60" y2="144.80" stroke="#3a3a3a" stroke-width="1.0"/>
<text x="165.70" y="147.11" text-anchor="end" style="font-size:5.72px;" fill="#111" stroke="#111" stroke-width="0.22" textLength="8.84" lengthAdjust="spacingAndGlyphs">125</text>
<line x1="166.40" y1="156.20" x2="168.60" y2="156.20" stroke="#3a3a3a" stroke-width="1.0"/>
<text x="165.70" y="158.51" text-anchor="end" style="font-size:5.72px;" fill="#111" stroke="#111" stroke-width="0.22" textLength="8.84" lengthAdjust="spacingAndGlyphs">100</text>
<line x1="166.40" y1="167.60" x2="168.60" y2="167.60" stroke="#3a3a3a" stroke-width="1.0"/>
<text x="165.70" y="169.91" text-anchor="end" style="font-size:5.72px;" fill="#111" stroke="#111" stroke-width="0.22" textLength="5.89" lengthAdjust="spacingAndGlyphs">75</text>
<line x1="166.40" y1="179.10" x2="168.60" y2="179.10" stroke="#3a3a3a" stroke-width="1.0"/>
<text x="165.70" y="181.41" text-anchor="end" style="font-size:5.72px;" fill="#111" stroke="#111" stroke-width="0.22" textLength="5.89" lengthAdjust="spacingAndGlyphs">50</text>
<line x1="166.40" y1="190.50" x2="168.60" y2="190.50" stroke="#3a3a3a" stroke-width="1.0"/>
<text x="165.70" y="192.81" text-anchor="end" style="font-size:5.72px;" fill="#111" stroke="#111" stroke-width="0.22" textLength="5.89" lengthAdjust="spacingAndGlyphs">25</text>
<line x1="166.40" y1="201.80" x2="168.60" y2="201.80" stroke="#3a3a3a" stroke-width="1.0"/>
<text x="165.70" y="204.11" text-anchor="end" style="font-size:5.72px;" fill="#111" stroke="#111" stroke-width="0.22" textLength="2.95" lengthAdjust="spacingAndGlyphs">0</text>
<line x1="168.60" y1="201.80" x2="204.90" y2="201.80" stroke="#3a3a3a" stroke-width="1.0"/>
<line x1="179.70" y1="201.80" x2="179.70" y2="204.00" stroke="#3a3a3a" stroke-width="1.0"/>
<line x1="196.60" y1="201.80" x2="196.60" y2="204.00" stroke="#3a3a3a" stroke-width="1.0"/>
<rect x="174.40" y="156.00" width="10.50" height="45.80" fill="#a48ade" stroke="#2c1c5c" stroke-width="0.8"/>
<line x1="196.60" y1="188.40" x2="196.60" y2="187.20" stroke="#a8e4ff" stroke-width="0.6"/>
<line x1="194.80" y1="187.20" x2="198.40" y2="187.20" stroke="#a8e4ff" stroke-width="0.6"/>
<rect x="191.10" y="188.40" width="10.80" height="13.40" fill="#30c2ff" stroke="#1060ff" stroke-width="0.8"/>
<text x="191.70" y="185.00" text-anchor="start" style="font-size:6.55px;font-weight:bold;" fill="#111" stroke="#111" stroke-width="0.22" textLength="10.20" lengthAdjust="spacingAndGlyphs">****</text>
<text x="170.30" y="143.90" text-anchor="start" style="font-size:6.48px;font-style:italic;" fill="#111" stroke="#111" stroke-width="0.22" textLength="22.60" lengthAdjust="spacingAndGlyphs">Beas-2B</text>
<text x="181.20" y="211.00" text-anchor="end" style="font-size:6.30px;" fill="#111" stroke="#111" stroke-width="0.22" transform="rotate(-45 181.20 211.00)">Non-Targeted</text>
<text x="197.60" y="210.60" text-anchor="end" style="font-size:6.40px;" fill="#111" stroke="#111" stroke-width="0.22" transform="rotate(-45 197.60 210.60)"><tspan font-style="italic">TAS1R3</tspan> Knockdown</text>
<text x="223.8" y="136.5" style="font-size:17.5px;font-weight:bold" fill="#000">g</text>
<text x="0.00" y="0.00" text-anchor="middle" style="font-size:6.25px;" fill="#111" stroke="#111" stroke-width="0.22" transform="translate(246.80 176.85) scale(0.95 1) rotate(-90)" textLength="50.70" lengthAdjust="spacingAndGlyphs">Intracellular cAMP</text>
<text x="0.00" y="0.00" text-anchor="middle" style="font-size:6.26px;" fill="#111" stroke="#111" stroke-width="0.22" transform="translate(253.50 176.95) scale(0.95 1) rotate(-90)" textLength="86.30" lengthAdjust="spacingAndGlyphs">Flamindo2 Fluorescence (F<tspan dy="1.75" font-size="4.38">0</tspan><tspan dy="-1.75">&#8203;</tspan>/F)</text>
<line x1="269.50" y1="149.00" x2="269.50" y2="205.70" stroke="#3a3a3a" stroke-width="1.0"/>
<line x1="267.30" y1="156.10" x2="269.50" y2="156.10" stroke="#3a3a3a" stroke-width="1.0"/>
<text x="266.60" y="158.41" text-anchor="end" style="font-size:5.72px;font-weight:bold;" fill="#111" stroke="#111" stroke-width="0.22" textLength="7.37" lengthAdjust="spacingAndGlyphs">1.6</text>
<line x1="267.30" y1="170.30" x2="269.50" y2="170.30" stroke="#3a3a3a" stroke-width="1.0"/>
<text x="266.60" y="172.61" text-anchor="end" style="font-size:5.72px;font-weight:bold;" fill="#111" stroke="#111" stroke-width="0.22" textLength="7.37" lengthAdjust="spacingAndGlyphs">1.4</text>
<line x1="267.30" y1="184.60" x2="269.50" y2="184.60" stroke="#3a3a3a" stroke-width="1.0"/>
<text x="266.60" y="186.91" text-anchor="end" style="font-size:5.72px;font-weight:bold;" fill="#111" stroke="#111" stroke-width="0.22" textLength="7.37" lengthAdjust="spacingAndGlyphs">1.2</text>
<line x1="267.30" y1="199.00" x2="269.50" y2="199.00" stroke="#3a3a3a" stroke-width="1.0"/>
<text x="266.60" y="201.31" text-anchor="end" style="font-size:5.72px;font-weight:bold;" fill="#111" stroke="#111" stroke-width="0.22" textLength="7.37" lengthAdjust="spacingAndGlyphs">1.0</text>
<text x="270.50" y="147.70" text-anchor="start" style="font-size:6.71px;font-style:italic;" fill="#111" stroke="#111" stroke-width="0.22" textLength="23.40" lengthAdjust="spacingAndGlyphs">Beas-2B</text>
<polygon points="269.80,198.30 270.42,198.26 271.04,198.22 271.67,198.17 272.29,198.12 272.91,198.06 273.53,197.99 274.15,197.92 274.78,197.84 275.40,197.75 276.02,197.66 276.64,197.56 277.26,197.45 277.89,197.33 278.51,197.20 279.13,197.06 279.75,196.91 280.37,196.75 281.00,196.58 281.62,196.13 282.24,195.14 282.86,193.98 283.48,192.99 284.11,192.11 284.73,191.23 285.35,190.37 285.97,189.51 286.59,188.65 287.22,187.81 287.84,186.97 288.46,186.13 289.08,185.30 289.70,184.47 290.33,183.64 290.95,182.81 291.57,181.97 292.19,181.13 292.81,180.28 293.44,179.45 294.06,178.62 294.68,177.80 295.30,176.99 295.92,176.20 296.55,175.43 297.17,174.68 297.79,173.96 298.41,173.26 299.03,172.59 299.66,171.92 300.28,171.26 300.90,170.61 301.52,169.97 302.14,169.35 302.77,168.73 303.39,168.12 304.01,167.53 304.63,166.95 305.26,166.38 305.88,165.82 306.50,165.28 307.12,164.75 307.74,164.24 308.37,163.74 308.99,163.25 309.61,162.78 310.23,162.33 310.85,161.88 311.48,161.43 312.10,161.00 312.72,160.58 313.34,160.16 313.96,159.76 314.59,159.36 315.21,158.97 315.83,158.59 316.45,158.22 317.07,157.86 317.70,157.50 318.32,157.16 318.94,156.82 319.56,156.49 320.18,156.17 320.81,155.85 321.43,155.53 322.05,155.21 322.67,154.89 323.29,154.57 323.92,154.25 324.54,153.94 325.16,153.64 325.78,153.35 326.40,153.07 327.03,152.80 327.65,152.55 328.27,152.31 328.89,152.10 329.51,151.90 330.14,151.73 330.76,151.58 331.38,151.46 332.00,151.34 332.62,151.22 333.25,151.11 333.87,151.00 334.49,150.90 335.11,150.82 335.73,150.74 336.36,150.68 336.98,150.63 337.60,150.60 337.60,157.20 336.98,157.19 336.36,157.20 335.73,157.22 335.11,157.25 334.49,157.30 333.87,157.36 333.25,157.43 332.62,157.50 332.00,157.57 331.38,157.65 330.76,157.74 330.14,157.85 329.51,157.98 328.89,158.13 328.27,158.31 327.65,158.50 327.03,158.72 326.40,158.94 325.78,159.18 325.16,159.44 324.54,159.70 323.92,159.97 323.29,160.24 322.67,160.52 322.05,160.80 321.43,161.09 320.81,161.37 320.18,161.64 319.56,161.92 318.94,162.21 318.32,162.51 317.70,162.81 317.07,163.13 316.45,163.45 315.83,163.78 315.21,164.12 314.59,164.47 313.96,164.83 313.34,165.19 312.72,165.57 312.10,165.95 311.48,166.34 310.85,166.74 310.23,167.15 309.61,167.57 308.99,168.00 308.37,168.44 307.74,168.90 307.12,169.38 306.50,169.87 305.88,170.37 305.26,170.88 304.63,171.41 304.01,171.95 303.39,172.51 302.77,173.07 302.14,173.65 301.52,174.24 300.90,174.84 300.28,175.44 299.66,176.06 299.03,176.69 298.41,177.32 297.79,177.98 297.17,178.67 296.55,179.38 295.92,180.11 295.30,180.86 294.68,181.62 294.06,182.40 293.44,183.19 292.81,183.98 292.19,184.78 291.57,185.59 290.95,186.39 290.33,187.18 289.70,187.97 289.08,188.76 288.46,189.55 287.84,190.35 287.22,191.15 286.59,191.95 285.97,192.76 285.35,193.58 284.73,194.41 284.11,195.24 283.48,196.09 282.86,197.04 282.24,198.16 281.62,199.09 281.00,199.47 280.37,199.56 279.75,199.65 279.13,199.73 278.51,199.80 277.89,199.85 277.26,199.90 276.64,199.94 276.02,199.97 275.40,200.00 274.78,200.01 274.15,200.02 273.53,200.02 272.91,200.02 272.29,200.00 271.67,199.99 271.04,199.96 270.42,199.93 269.80,199.90" fill="#d8ccf5" fill-opacity="1.0" stroke="none"/>
<polyline points="269.80,198.30 270.42,198.26 271.04,198.22 271.67,198.17 272.29,198.12 272.91,198.06 273.53,197.99 274.15,197.92 274.78,197.84 275.40,197.75 276.02,197.66 276.64,197.56 277.26,197.45 277.89,197.33 278.51,197.20 279.13,197.06 279.75,196.91 280.37,196.75 281.00,196.58 281.62,196.13 282.24,195.14 282.86,193.98 283.48,192.99 284.11,192.11 284.73,191.23 285.35,190.37 285.97,189.51 286.59,188.65 287.22,187.81 287.84,186.97 288.46,186.13 289.08,185.30 289.70,184.47 290.33,183.64 290.95,182.81 291.57,181.97 292.19,181.13 292.81,180.28 293.44,179.45 294.06,178.62 294.68,177.80 295.30,176.99 295.92,176.20 296.55,175.43 297.17,174.68 297.79,173.96 298.41,173.26 299.03,172.59 299.66,171.92 300.28,171.26 300.90,170.61 301.52,169.97 302.14,169.35 302.77,168.73 303.39,168.12 304.01,167.53 304.63,166.95 305.26,166.38 305.88,165.82 306.50,165.28 307.12,164.75 307.74,164.24 308.37,163.74 308.99,163.25 309.61,162.78 310.23,162.33 310.85,161.88 311.48,161.43 312.10,161.00 312.72,160.58 313.34,160.16 313.96,159.76 314.59,159.36 315.21,158.97 315.83,158.59 316.45,158.22 317.07,157.86 317.70,157.50 318.32,157.16 318.94,156.82 319.56,156.49 320.18,156.17 320.81,155.85 321.43,155.53 322.05,155.21 322.67,154.89 323.29,154.57 323.92,154.25 324.54,153.94 325.16,153.64 325.78,153.35 326.40,153.07 327.03,152.80 327.65,152.55 328.27,152.31 328.89,152.10 329.51,151.90 330.14,151.73 330.76,151.58 331.38,151.46 332.00,151.34 332.62,151.22 333.25,151.11 333.87,151.00 334.49,150.90 335.11,150.82 335.73,150.74 336.36,150.68 336.98,150.63 337.60,150.60" fill="none" stroke="#8676c0" stroke-width="0.6" stroke-linejoin="round" stroke-linecap="round" />
<polyline points="269.80,199.90 270.42,199.93 271.04,199.96 271.67,199.99 272.29,200.00 272.91,200.02 273.53,200.02 274.15,200.02 274.78,200.01 275.40,200.00 276.02,199.97 276.64,199.94 277.26,199.90 277.89,199.85 278.51,199.80 279.13,199.73 279.75,199.65 280.37,199.56 281.00,199.47 281.62,199.09 282.24,198.16 282.86,197.04 283.48,196.09 284.11,195.24 284.73,194.41 285.35,193.58 285.97,192.76 286.59,191.95 287.22,191.15 287.84,190.35 288.46,189.55 289.08,188.76 289.70,187.97 290.33,187.18 290.95,186.39 291.57,185.59 292.19,184.78 292.81,183.98 293.44,183.19 294.06,182.40 294.68,181.62 295.30,180.86 295.92,180.11 296.55,179.38 297.17,178.67 297.79,177.98 298.41,177.32 299.03,176.69 299.66,176.06 300.28,175.44 300.90,174.84 301.52,174.24 302.14,173.65 302.77,173.07 303.39,172.51 304.01,171.95 304.63,171.41 305.26,170.88 305.88,170.37 306.50,169.87 307.12,169.38 307.74,168.90 308.37,168.44 308.99,168.00 309.61,167.57 310.23,167.15 310.85,166.74 311.48,166.34 312.10,165.95 312.72,165.57 313.34,165.19 313.96,164.83 314.59,164.47 315.21,164.12 315.83,163.78 316.45,163.45 317.07,163.13 317.70,162.81 318.32,162.51 318.94,162.21 319.56,161.92 320.18,161.64 320.81,161.37 321.43,161.09 322.05,160.80 322.67,160.52 323.29,160.24 323.92,159.97 324.54,159.70 325.16,159.44 325.78,159.18 326.40,158.94 327.03,158.72 327.65,158.50 328.27,158.31 328.89,158.13 329.51,157.98 330.14,157.85 330.76,157.74 331.38,157.65 332.00,157.57 332.62,157.50 333.25,157.43 333.87,157.36 334.49,157.30 335.11,157.25 335.73,157.22 336.36,157.20 336.98,157.19 337.60,157.20" fill="none" stroke="#8676c0" stroke-width="0.6" stroke-linejoin="round" stroke-linecap="round" />
<polygon points="290.50,182.40 291.10,182.60 291.69,182.80 292.29,182.99 292.88,183.17 293.48,183.33 294.08,183.50 294.67,183.66 295.27,183.82 295.87,183.97 296.46,184.11 297.06,184.24 297.65,184.36 298.25,184.46 298.85,184.55 299.44,184.64 300.04,184.72 300.64,184.79 301.23,184.87 301.83,184.94 302.42,185.00 303.02,185.07 303.62,185.13 304.21,185.18 304.81,185.24 305.41,185.29 306.00,185.35 306.60,185.39 307.19,185.44 307.79,185.49 308.39,185.53 308.98,185.58 309.58,185.62 310.17,185.66 310.77,185.70 311.37,185.74 311.96,185.77 312.56,185.81 313.16,185.84 313.75,185.87 314.35,185.90 314.94,185.93 315.54,185.96 316.14,185.99 316.73,186.02 317.33,186.05 317.93,186.08 318.52,186.11 319.12,186.14 319.71,186.17 320.31,186.21 320.91,186.24 321.50,186.27 322.10,186.30 322.69,186.33 323.29,186.36 323.89,186.40 324.48,186.43 325.08,186.46 325.68,186.49 326.27,186.52 326.87,186.55 327.46,186.58 328.06,186.61 328.66,186.65 329.25,186.68 329.85,186.71 330.45,186.74 331.04,186.77 331.64,186.80 332.23,186.83 332.83,186.86 333.43,186.89 334.02,186.92 334.62,186.95 335.22,186.98 335.81,187.01 336.41,187.04 337.00,187.07 337.60,187.10 337.60,191.50 337.00,191.47 336.41,191.44 335.81,191.41 335.22,191.38 334.62,191.35 334.02,191.32 333.43,191.29 332.83,191.26 332.23,191.23 331.64,191.20 331.04,191.17 330.45,191.14 329.85,191.11 329.25,191.08 328.66,191.05 328.06,191.01 327.46,190.98 326.87,190.95 326.27,190.92 325.68,190.89 325.08,190.86 324.48,190.83 323.89,190.80 323.29,190.76 322.69,190.73 322.10,190.70 321.50,190.67 320.91,190.64 320.31,190.61 319.71,190.57 319.12,190.54 318.52,190.51 317.93,190.48 317.33,190.45 316.73,190.42 316.14,190.39 315.54,190.36 314.94,190.33 314.35,190.30 313.75,190.27 313.16,190.24 312.56,190.21 311.96,190.17 311.37,190.14 310.77,190.10 310.17,190.06 309.58,190.02 308.98,189.98 308.39,189.93 307.79,189.89 307.19,189.84 306.60,189.79 306.00,189.75 305.41,189.69 304.81,189.64 304.21,189.58 303.62,189.53 303.02,189.47 302.42,189.40 301.83,189.34 301.23,189.27 300.64,189.19 300.04,189.12 299.44,189.04 298.85,188.95 298.25,188.86 297.65,188.76 297.06,188.64 296.46,188.51 295.87,188.37 295.27,188.22 294.67,188.06 294.08,187.90 293.48,187.73 292.88,187.57 292.29,187.39 291.69,187.20 291.10,187.00 290.50,186.80" fill="#c4ecff" fill-opacity="1.0" stroke="none"/>
<polyline points="290.50,186.80 291.10,187.00 291.69,187.20 292.29,187.39 292.88,187.57 293.48,187.73 294.08,187.90 294.67,188.06 295.27,188.22 295.87,188.37 296.46,188.51 297.06,188.64 297.65,188.76 298.25,188.86 298.85,188.95 299.44,189.04 300.04,189.12 300.64,189.19 301.23,189.27 301.83,189.34 302.42,189.40 303.02,189.47 303.62,189.53 304.21,189.58 304.81,189.64 305.41,189.69 306.00,189.75 306.60,189.79 307.19,189.84 307.79,189.89 308.39,189.93 308.98,189.98 309.58,190.02 310.17,190.06 310.77,190.10 311.37,190.14 311.96,190.17 312.56,190.21 313.16,190.24 313.75,190.27 314.35,190.30 314.94,190.33 315.54,190.36 316.14,190.39 316.73,190.42 317.33,190.45 317.93,190.48 318.52,190.51 319.12,190.54 319.71,190.57 320.31,190.61 320.91,190.64 321.50,190.67 322.10,190.70 322.69,190.73 323.29,190.76 323.89,190.80 324.48,190.83 325.08,190.86 325.68,190.89 326.27,190.92 326.87,190.95 327.46,190.98 328.06,191.01 328.66,191.05 329.25,191.08 329.85,191.11 330.45,191.14 331.04,191.17 331.64,191.20 332.23,191.23 332.83,191.26 333.43,191.29 334.02,191.32 334.62,191.35 335.22,191.38 335.81,191.41 336.41,191.44 337.00,191.47 337.60,191.50" fill="none" stroke="#8a84d0" stroke-width="0.5" stroke-linejoin="round" stroke-linecap="round" />
<polyline points="290.50,182.40 291.10,182.60 291.69,182.80 292.29,182.99 292.88,183.17 293.48,183.33 294.08,183.50 294.67,183.66 295.27,183.82 295.87,183.97 296.46,184.11 297.06,184.24 297.65,184.36 298.25,184.46 298.85,184.55 299.44,184.64 300.04,184.72 300.64,184.79 301.23,184.87 301.83,184.94 302.42,185.00 303.02,185.07 303.62,185.13 304.21,185.18 304.81,185.24 305.41,185.29 306.00,185.35 306.60,185.39 307.19,185.44 307.79,185.49 308.39,185.53 308.98,185.58 309.58,185.62 310.17,185.66 310.77,185.70 311.37,185.74 311.96,185.77 312.56,185.81 313.16,185.84 313.75,185.87 314.35,185.90 314.94,185.93 315.54,185.96 316.14,185.99 316.73,186.02 317.33,186.05 317.93,186.08 318.52,186.11 319.12,186.14 319.71,186.17 320.31,186.21 320.91,186.24 321.50,186.27 322.10,186.30 322.69,186.33 323.29,186.36 323.89,186.40 324.48,186.43 325.08,186.46 325.68,186.49 326.27,186.52 326.87,186.55 327.46,186.58 328.06,186.61 328.66,186.65 329.25,186.68 329.85,186.71 330.45,186.74 331.04,186.77 331.64,186.80 332.23,186.83 332.83,186.86 333.43,186.89 334.02,186.92 334.62,186.95 335.22,186.98 335.81,187.01 336.41,187.04 337.00,187.07 337.60,187.10" fill="none" stroke="#70cdfa" stroke-width="0.4" stroke-linejoin="round" stroke-linecap="round" />
<circle cx="290.50" cy="184.03" r="1.0" fill="#3ab4f8"/>
<circle cx="291.10" cy="183.92" r="1.0" fill="#3ab4f8"/>
<circle cx="291.69" cy="184.67" r="1.0" fill="#3ab4f8"/>
<circle cx="292.29" cy="184.37" r="1.0" fill="#3ab4f8"/>
<circle cx="292.88" cy="185.17" r="1.0" fill="#3ab4f8"/>
<circle cx="293.48" cy="185.06" r="1.0" fill="#3ab4f8"/>
<circle cx="294.08" cy="185.27" r="1.0" fill="#3ab4f8"/>
<circle cx="294.67" cy="185.28" r="1.0" fill="#3ab4f8"/>
<circle cx="295.27" cy="185.64" r="1.0" fill="#3ab4f8"/>
<circle cx="295.87" cy="185.10" r="1.0" fill="#3ab4f8"/>
<circle cx="296.46" cy="185.73" r="1.0" fill="#3ab4f8"/>
<circle cx="297.06" cy="185.68" r="1.0" fill="#3ab4f8"/>
<circle cx="297.65" cy="186.03" r="1.0" fill="#3ab4f8"/>
<circle cx="298.25" cy="186.05" r="1.0" fill="#3ab4f8"/>
<circle cx="298.85" cy="186.31" r="1.0" fill="#3ab4f8"/>
<circle cx="299.44" cy="186.03" r="1.0" fill="#3ab4f8"/>
<circle cx="300.04" cy="186.78" r="1.0" fill="#3ab4f8"/>
<circle cx="300.64" cy="186.97" r="1.0" fill="#3ab4f8"/>
<circle cx="301.23" cy="186.41" r="1.0" fill="#3ab4f8"/>
<circle cx="301.83" cy="186.53" r="1.0" fill="#3ab4f8"/>
<circle cx="302.42" cy="186.67" r="1.0" fill="#3ab4f8"/>
<circle cx="303.02" cy="186.98" r="1.0" fill="#3ab4f8"/>
<circle cx="303.62" cy="187.20" r="1.0" fill="#3ab4f8"/>
<circle cx="304.21" cy="186.48" r="1.0" fill="#3ab4f8"/>
<circle cx="304.81" cy="186.69" r="1.0" fill="#3ab4f8"/>
<circle cx="305.41" cy="186.63" r="1.0" fill="#3ab4f8"/>
<circle cx="306.00" cy="186.67" r="1.0" fill="#3ab4f8"/>
<circle cx="306.60" cy="186.58" r="1.0" fill="#3ab4f8"/>
<circle cx="307.19" cy="187.13" r="1.0" fill="#3ab4f8"/>
<circle cx="307.79" cy="186.80" r="1.0" fill="#3ab4f8"/>
<circle cx="308.39" cy="187.51" r="1.0" fill="#3ab4f8"/>
<circle cx="308.98" cy="187.40" r="1.0" fill="#3ab4f8"/>
<circle cx="309.58" cy="186.96" r="1.0" fill="#3ab4f8"/>
<circle cx="310.17" cy="187.00" r="1.0" fill="#3ab4f8"/>
<circle cx="310.77" cy="187.15" r="1.0" fill="#3ab4f8"/>
<circle cx="311.37" cy="187.69" r="1.0" fill="#3ab4f8"/>
<circle cx="311.96" cy="187.16" r="1.0" fill="#3ab4f8"/>
<circle cx="312.56" cy="187.03" r="1.0" fill="#3ab4f8"/>
<circle cx="313.16" cy="187.43" r="1.0" fill="#3ab4f8"/>
<circle cx="313.75" cy="187.57" r="1.0" fill="#3ab4f8"/>
<circle cx="314.35" cy="187.34" r="1.0" fill="#3ab4f8"/>
<circle cx="314.94" cy="187.94" r="1.0" fill="#3ab4f8"/>
<circle cx="315.54" cy="187.62" r="1.0" fill="#3ab4f8"/>
<circle cx="316.14" cy="187.71" r="1.0" fill="#3ab4f8"/>
<circle cx="316.73" cy="187.41" r="1.0" fill="#3ab4f8"/>
<circle cx="317.33" cy="187.64" r="1.0" fill="#3ab4f8"/>
<circle cx="317.93" cy="187.64" r="1.0" fill="#3ab4f8"/>
<circle cx="318.52" cy="187.15" r="1.0" fill="#3ab4f8"/>
<circle cx="319.12" cy="187.82" r="1.0" fill="#3ab4f8"/>
<circle cx="319.71" cy="187.33" r="1.0" fill="#3ab4f8"/>
<circle cx="320.31" cy="187.80" r="1.0" fill="#3ab4f8"/>
<circle cx="320.91" cy="187.47" r="1.0" fill="#3ab4f8"/>
<circle cx="321.50" cy="188.37" r="1.0" fill="#3ab4f8"/>
<circle cx="322.10" cy="187.98" r="1.0" fill="#3ab4f8"/>
<circle cx="322.69" cy="188.15" r="1.0" fill="#3ab4f8"/>
<circle cx="323.29" cy="188.19" r="1.0" fill="#3ab4f8"/>
<circle cx="323.89" cy="187.66" r="1.0" fill="#3ab4f8"/>
<circle cx="324.48" cy="187.46" r="1.0" fill="#3ab4f8"/>
<circle cx="325.08" cy="187.98" r="1.0" fill="#3ab4f8"/>
<circle cx="325.68" cy="188.31" r="1.0" fill="#3ab4f8"/>
<circle cx="326.27" cy="188.14" r="1.0" fill="#3ab4f8"/>
<circle cx="326.87" cy="188.35" r="1.0" fill="#3ab4f8"/>
<circle cx="327.46" cy="188.42" r="1.0" fill="#3ab4f8"/>
<circle cx="328.06" cy="187.84" r="1.0" fill="#3ab4f8"/>
<circle cx="328.66" cy="188.32" r="1.0" fill="#3ab4f8"/>
<circle cx="329.25" cy="188.77" r="1.0" fill="#3ab4f8"/>
<circle cx="329.85" cy="188.16" r="1.0" fill="#3ab4f8"/>
<circle cx="330.45" cy="187.83" r="1.0" fill="#3ab4f8"/>
<circle cx="331.04" cy="188.31" r="1.0" fill="#3ab4f8"/>
<circle cx="331.64" cy="188.28" r="1.0" fill="#3ab4f8"/>
<circle cx="332.23" cy="188.53" r="1.0" fill="#3ab4f8"/>
<circle cx="332.83" cy="188.24" r="1.0" fill="#3ab4f8"/>
<circle cx="333.43" cy="188.51" r="1.0" fill="#3ab4f8"/>
<circle cx="334.02" cy="187.97" r="1.0" fill="#3ab4f8"/>
<circle cx="334.62" cy="188.76" r="1.0" fill="#3ab4f8"/>
<circle cx="335.22" cy="188.98" r="1.0" fill="#3ab4f8"/>
<circle cx="335.81" cy="188.94" r="1.0" fill="#3ab4f8"/>
<circle cx="336.41" cy="188.26" r="1.0" fill="#3ab4f8"/>
<circle cx="337.00" cy="188.75" r="1.0" fill="#3ab4f8"/>
<circle cx="337.60" cy="187.95" r="1.0" fill="#3ab4f8"/>
<circle cx="269.80" cy="199.10" r="0.7" fill="#3ab4f8"/>
<circle cx="270.70" cy="199.01" r="0.7" fill="#3ab4f8"/>
<circle cx="271.60" cy="198.92" r="0.7" fill="#3ab4f8"/>
<circle cx="272.50" cy="198.83" r="0.7" fill="#3ab4f8"/>
<circle cx="273.40" cy="198.74" r="0.7" fill="#3ab4f8"/>
<circle cx="274.30" cy="198.65" r="0.7" fill="#3ab4f8"/>
<circle cx="275.20" cy="198.56" r="0.7" fill="#3ab4f8"/>
<circle cx="276.10" cy="198.47" r="0.7" fill="#3ab4f8"/>
<circle cx="277.00" cy="198.38" r="0.7" fill="#3ab4f8"/>
<circle cx="277.90" cy="198.29" r="0.7" fill="#3ab4f8"/>
<circle cx="278.80" cy="198.20" r="0.7" fill="#3ab4f8"/>
<circle cx="279.70" cy="198.11" r="0.7" fill="#3ab4f8"/>
<circle cx="280.60" cy="198.02" r="0.7" fill="#3ab4f8"/>
<circle cx="282.60" cy="197.10" r="1.05" fill="#3ab4f8"/>
<circle cx="283.80" cy="193.50" r="1.05" fill="#3ab4f8"/>
<circle cx="285.00" cy="190.00" r="1.05" fill="#3ab4f8"/>
<circle cx="286.40" cy="185.70" r="1.05" fill="#3ab4f8"/>
<circle cx="287.90" cy="182.90" r="1.05" fill="#3ab4f8"/>
<circle cx="289.30" cy="181.90" r="1.05" fill="#3ab4f8"/>
<circle cx="290.70" cy="182.90" r="1.05" fill="#3ab4f8"/>
<circle cx="269.80" cy="199.10" r="0.8" fill="#9b7fe0"/>
<circle cx="270.42" cy="199.10" r="0.8" fill="#9b7fe0"/>
<circle cx="271.04" cy="199.09" r="0.8" fill="#9b7fe0"/>
<circle cx="271.67" cy="199.08" r="0.8" fill="#9b7fe0"/>
<circle cx="272.29" cy="199.06" r="0.8" fill="#9b7fe0"/>
<circle cx="272.91" cy="199.04" r="0.8" fill="#9b7fe0"/>
<circle cx="273.53" cy="199.01" r="0.8" fill="#9b7fe0"/>
<circle cx="274.15" cy="198.97" r="0.8" fill="#9b7fe0"/>
<circle cx="274.78" cy="198.93" r="0.8" fill="#9b7fe0"/>
<circle cx="275.40" cy="198.88" r="0.8" fill="#9b7fe0"/>
<circle cx="276.02" cy="198.82" r="0.8" fill="#9b7fe0"/>
<circle cx="276.64" cy="198.75" r="0.8" fill="#9b7fe0"/>
<circle cx="277.26" cy="198.67" r="0.8" fill="#9b7fe0"/>
<circle cx="277.89" cy="198.59" r="0.8" fill="#9b7fe0"/>
<circle cx="278.51" cy="198.50" r="0.8" fill="#9b7fe0"/>
<circle cx="279.13" cy="198.39" r="0.8" fill="#9b7fe0"/>
<circle cx="279.75" cy="198.28" r="0.8" fill="#9b7fe0"/>
<circle cx="280.37" cy="198.16" r="0.8" fill="#9b7fe0"/>
<circle cx="281.00" cy="198.02" r="0.8" fill="#9b7fe0"/>
<circle cx="281.62" cy="197.61" r="0.8" fill="#9b7fe0"/>
<circle cx="282.24" cy="196.65" r="0.8" fill="#9b7fe0"/>
<circle cx="282.86" cy="195.51" r="0.8" fill="#9b7fe0"/>
<circle cx="283.48" cy="194.54" r="0.8" fill="#9b7fe0"/>
<circle cx="284.11" cy="193.68" r="0.8" fill="#9b7fe0"/>
<circle cx="284.73" cy="192.82" r="0.8" fill="#9b7fe0"/>
<circle cx="285.35" cy="191.97" r="0.8" fill="#9b7fe0"/>
<circle cx="285.97" cy="191.14" r="0.8" fill="#9b7fe0"/>
<circle cx="286.59" cy="190.30" r="0.8" fill="#9b7fe0"/>
<circle cx="287.22" cy="189.48" r="0.8" fill="#9b7fe0"/>
<circle cx="287.84" cy="188.66" r="0.8" fill="#9b7fe0"/>
<circle cx="288.46" cy="187.84" r="0.8" fill="#9b7fe0"/>
<circle cx="289.08" cy="187.03" r="0.8" fill="#9b7fe0"/>
<circle cx="289.70" cy="186.22" r="0.8" fill="#9b7fe0"/>
<circle cx="290.33" cy="185.41" r="0.8" fill="#9b7fe0"/>
<circle cx="290.95" cy="184.60" r="0.8" fill="#9b7fe0"/>
<circle cx="291.57" cy="183.78" r="0.8" fill="#9b7fe0"/>
<circle cx="292.19" cy="182.95" r="0.8" fill="#9b7fe0"/>
<circle cx="292.81" cy="182.13" r="0.8" fill="#9b7fe0"/>
<circle cx="293.44" cy="181.32" r="0.8" fill="#9b7fe0"/>
<circle cx="294.06" cy="180.51" r="0.8" fill="#9b7fe0"/>
<circle cx="294.68" cy="179.71" r="0.8" fill="#9b7fe0"/>
<circle cx="295.30" cy="178.92" r="0.8" fill="#9b7fe0"/>
<circle cx="295.92" cy="178.16" r="0.8" fill="#9b7fe0"/>
<circle cx="296.55" cy="177.40" r="0.8" fill="#9b7fe0"/>
<circle cx="297.17" cy="176.67" r="0.8" fill="#9b7fe0"/>
<circle cx="297.79" cy="175.97" r="0.8" fill="#9b7fe0"/>
<circle cx="298.41" cy="175.29" r="0.8" fill="#9b7fe0"/>
<circle cx="299.03" cy="174.64" r="0.8" fill="#9b7fe0"/>
<circle cx="299.66" cy="173.99" r="0.8" fill="#9b7fe0"/>
<circle cx="300.28" cy="173.35" r="0.8" fill="#9b7fe0"/>
<circle cx="300.90" cy="172.72" r="0.8" fill="#9b7fe0"/>
<circle cx="301.52" cy="172.11" r="0.8" fill="#9b7fe0"/>
<circle cx="302.14" cy="171.50" r="0.8" fill="#9b7fe0"/>
<circle cx="302.77" cy="170.90" r="0.8" fill="#9b7fe0"/>
<circle cx="303.39" cy="170.32" r="0.8" fill="#9b7fe0"/>
<circle cx="304.01" cy="169.74" r="0.8" fill="#9b7fe0"/>
<circle cx="304.63" cy="169.18" r="0.8" fill="#9b7fe0"/>
<circle cx="305.26" cy="168.63" r="0.8" fill="#9b7fe0"/>
<circle cx="305.88" cy="168.09" r="0.8" fill="#9b7fe0"/>
<circle cx="306.50" cy="167.57" r="0.8" fill="#9b7fe0"/>
<circle cx="307.12" cy="167.06" r="0.8" fill="#9b7fe0"/>
<circle cx="307.74" cy="166.57" r="0.8" fill="#9b7fe0"/>
<circle cx="308.37" cy="166.09" r="0.8" fill="#9b7fe0"/>
<circle cx="308.99" cy="165.63" r="0.8" fill="#9b7fe0"/>
<circle cx="309.61" cy="165.18" r="0.8" fill="#9b7fe0"/>
<circle cx="310.23" cy="164.74" r="0.8" fill="#9b7fe0"/>
<circle cx="310.85" cy="164.31" r="0.8" fill="#9b7fe0"/>
<circle cx="311.48" cy="163.89" r="0.8" fill="#9b7fe0"/>
<circle cx="312.10" cy="163.48" r="0.8" fill="#9b7fe0"/>
<circle cx="312.72" cy="163.07" r="0.8" fill="#9b7fe0"/>
<circle cx="313.34" cy="162.68" r="0.8" fill="#9b7fe0"/>
<circle cx="313.96" cy="162.29" r="0.8" fill="#9b7fe0"/>
<circle cx="314.59" cy="161.91" r="0.8" fill="#9b7fe0"/>
<circle cx="315.21" cy="161.55" r="0.8" fill="#9b7fe0"/>
<circle cx="315.83" cy="161.19" r="0.8" fill="#9b7fe0"/>
<circle cx="316.45" cy="160.83" r="0.8" fill="#9b7fe0"/>
<circle cx="317.07" cy="160.49" r="0.8" fill="#9b7fe0"/>
<circle cx="317.70" cy="160.16" r="0.8" fill="#9b7fe0"/>
<circle cx="318.32" cy="159.83" r="0.8" fill="#9b7fe0"/>
<circle cx="318.94" cy="159.52" r="0.8" fill="#9b7fe0"/>
<circle cx="319.56" cy="159.21" r="0.8" fill="#9b7fe0"/>
<circle cx="320.18" cy="158.91" r="0.8" fill="#9b7fe0"/>
<circle cx="320.81" cy="158.61" r="0.8" fill="#9b7fe0"/>
<circle cx="321.43" cy="158.31" r="0.8" fill="#9b7fe0"/>
<circle cx="322.05" cy="158.01" r="0.8" fill="#9b7fe0"/>
<circle cx="322.67" cy="157.71" r="0.8" fill="#9b7fe0"/>
<circle cx="323.29" cy="157.41" r="0.8" fill="#9b7fe0"/>
<circle cx="323.92" cy="157.11" r="0.8" fill="#9b7fe0"/>
<circle cx="324.54" cy="156.82" r="0.8" fill="#9b7fe0"/>
<circle cx="325.16" cy="156.54" r="0.8" fill="#9b7fe0"/>
<circle cx="325.78" cy="156.27" r="0.8" fill="#9b7fe0"/>
<circle cx="326.40" cy="156.01" r="0.8" fill="#9b7fe0"/>
<circle cx="327.03" cy="155.76" r="0.8" fill="#9b7fe0"/>
<circle cx="327.65" cy="155.53" r="0.8" fill="#9b7fe0"/>
<circle cx="328.27" cy="155.31" r="0.8" fill="#9b7fe0"/>
<circle cx="328.89" cy="155.12" r="0.8" fill="#9b7fe0"/>
<circle cx="329.51" cy="154.94" r="0.8" fill="#9b7fe0"/>
<circle cx="330.14" cy="154.79" r="0.8" fill="#9b7fe0"/>
<circle cx="330.76" cy="154.66" r="0.8" fill="#9b7fe0"/>
<circle cx="331.38" cy="154.55" r="0.8" fill="#9b7fe0"/>
<circle cx="332.00" cy="154.46" r="0.8" fill="#9b7fe0"/>
<circle cx="332.62" cy="154.36" r="0.8" fill="#9b7fe0"/>
<circle cx="333.25" cy="154.27" r="0.8" fill="#9b7fe0"/>
<circle cx="333.87" cy="154.18" r="0.8" fill="#9b7fe0"/>
<circle cx="334.49" cy="154.10" r="0.8" fill="#9b7fe0"/>
<circle cx="335.11" cy="154.03" r="0.8" fill="#9b7fe0"/>
<circle cx="335.73" cy="153.98" r="0.8" fill="#9b7fe0"/>
<circle cx="336.36" cy="153.94" r="0.8" fill="#9b7fe0"/>
<circle cx="336.98" cy="153.91" r="0.8" fill="#9b7fe0"/>
<circle cx="337.60" cy="153.90" r="0.8" fill="#9b7fe0"/>
<circle cx="305.4" cy="144.8" r="1.3" fill="#9b7fe0"/>
<circle cx="305.4" cy="179.1" r="1.3" fill="#3ab4f8"/>
<text x="312.00" y="147.90" text-anchor="start" style="font-size:6.79px;" fill="#111" stroke="#111" stroke-width="0.22" textLength="37.40" lengthAdjust="spacingAndGlyphs">Non-Targeted</text>
<text x="312.00" y="182.20" text-anchor="start" style="font-size:6.83px;" fill="#111" stroke="#111" stroke-width="0.22" textLength="56.80" lengthAdjust="spacingAndGlyphs"><tspan font-style="italic">TAS1R3</tspan> Knockdown</text>
<line x1="281.10" y1="206.60" x2="281.10" y2="213.60" stroke="#111" stroke-width="1.1"/>
<path d="M279.20,207.60 L281.10,204.10 L283.00,207.60 Z" fill="#111"/>
<text x="273.00" y="222.00" text-anchor="start" style="font-size:6.36px;" fill="#111" stroke="#111" stroke-width="0.22" textLength="35.00" lengthAdjust="spacingAndGlyphs">1×-<tspan font-style="italic">MEM</tspan> AA's</text>
<line x1="325.60" y1="204.70" x2="336.50" y2="204.70" stroke="#111" stroke-width="0.9"/>
<text x="324.00" y="212.00" text-anchor="start" style="font-size:6.25px;" fill="#111" stroke="#111" stroke-width="0.22" textLength="13.90" lengthAdjust="spacingAndGlyphs">1 min</text>
<text x="0.00" y="0.00" text-anchor="middle" style="font-size:6.22px;" fill="#111" stroke="#111" stroke-width="0.22" transform="translate(380.60 169.25) scale(0.95 1) rotate(-90)" textLength="50.50" lengthAdjust="spacingAndGlyphs">Intracellular cAMP</text>
<text x="0.00" y="0.00" text-anchor="middle" style="font-size:6.19px;" fill="#111" stroke="#111" stroke-width="0.22" transform="translate(387.40 168.70) scale(0.95 1) rotate(-90)" textLength="67.80" lengthAdjust="spacingAndGlyphs">Flamindo2 Fluorescence</text>
<text x="0.00" y="0.00" text-anchor="middle" style="font-size:6.23px;" fill="#111" stroke="#111" stroke-width="0.22" transform="translate(393.80 168.90) scale(0.95 1) rotate(-90)" textLength="62.00" lengthAdjust="spacingAndGlyphs">(normalized to control)</text>
<line x1="411.30" y1="140.70" x2="411.30" y2="198.90" stroke="#3a3a3a" stroke-width="1.0"/>
<line x1="409.10" y1="141.30" x2="411.30" y2="141.30" stroke="#3a3a3a" stroke-width="1.0"/>
<text x="408.40" y="143.53" text-anchor="end" style="font-size:5.50px;font-weight:bold;" fill="#111" stroke="#111" stroke-width="0.22" textLength="8.49" lengthAdjust="spacingAndGlyphs">125</text>
<line x1="409.10" y1="152.80" x2="411.30" y2="152.80" stroke="#3a3a3a" stroke-width="1.0"/>
<text x="408.40" y="155.03" text-anchor="end" style="font-size:5.50px;font-weight:bold;" fill="#111" stroke="#111" stroke-width="0.22" textLength="8.49" lengthAdjust="spacingAndGlyphs">100</text>
<line x1="409.10" y1="164.30" x2="411.30" y2="164.30" stroke="#3a3a3a" stroke-width="1.0"/>
<text x="408.40" y="166.53" text-anchor="end" style="font-size:5.50px;font-weight:bold;" fill="#111" stroke="#111" stroke-width="0.22" textLength="5.66" lengthAdjust="spacingAndGlyphs">75</text>
<line x1="409.10" y1="175.80" x2="411.30" y2="175.80" stroke="#3a3a3a" stroke-width="1.0"/>
<text x="408.40" y="178.03" text-anchor="end" style="font-size:5.50px;font-weight:bold;" fill="#111" stroke="#111" stroke-width="0.22" textLength="5.66" lengthAdjust="spacingAndGlyphs">50</text>
<line x1="409.10" y1="187.40" x2="411.30" y2="187.40" stroke="#3a3a3a" stroke-width="1.0"/>
<text x="408.40" y="189.63" text-anchor="end" style="font-size:5.50px;font-weight:bold;" fill="#111" stroke="#111" stroke-width="0.22" textLength="5.66" lengthAdjust="spacingAndGlyphs">25</text>
<line x1="409.10" y1="198.90" x2="411.30" y2="198.90" stroke="#3a3a3a" stroke-width="1.0"/>
<text x="408.40" y="201.13" text-anchor="end" style="font-size:5.50px;font-weight:bold;" fill="#111" stroke="#111" stroke-width="0.22" textLength="2.83" lengthAdjust="spacingAndGlyphs">0</text>
<line x1="411.30" y1="198.90" x2="449.30" y2="198.90" stroke="#3a3a3a" stroke-width="1.0"/>
<line x1="422.10" y1="198.90" x2="422.10" y2="201.10" stroke="#3a3a3a" stroke-width="1.0"/>
<line x1="438.70" y1="198.90" x2="438.70" y2="201.10" stroke="#3a3a3a" stroke-width="1.0"/>
<line x1="422.10" y1="152.70" x2="422.10" y2="147.40" stroke="#6a5a9a" stroke-width="0.6"/>
<line x1="419.90" y1="147.40" x2="424.30" y2="147.40" stroke="#6a5a9a" stroke-width="0.6"/>
<rect x="417.00" y="152.70" width="10.60" height="46.20" fill="#a48ade" stroke="#2c1c5c" stroke-width="0.8"/>
<line x1="438.70" y1="181.60" x2="438.70" y2="179.50" stroke="#a8e4ff" stroke-width="0.6"/>
<line x1="436.70" y1="179.50" x2="440.70" y2="179.50" stroke="#a8e4ff" stroke-width="0.6"/>
<rect x="433.30" y="181.70" width="10.80" height="17.20" fill="#30c2ff" stroke="#1060ff" stroke-width="0.8"/>
<text x="436.60" y="178.00" text-anchor="start" style="font-size:6.17px;font-weight:bold;" fill="#111" stroke="#111" stroke-width="0.22" textLength="4.80" lengthAdjust="spacingAndGlyphs">**</text>
<text x="413.50" y="137.00" text-anchor="start" style="font-size:6.63px;font-style:italic;" fill="#111" stroke="#111" stroke-width="0.22" textLength="23.10" lengthAdjust="spacingAndGlyphs">Beas-2B</text>
<text x="413.00" y="143.80" text-anchor="start" style="font-size:6.78px;" fill="#111" stroke="#111" stroke-width="0.22" textLength="59.00" lengthAdjust="spacingAndGlyphs">1×-<tspan font-style="italic">MEM Amino Acids</tspan></text>
<text x="424.00" y="207.00" text-anchor="end" style="font-size:6.30px;" fill="#111" stroke="#111" stroke-width="0.22" transform="rotate(-45 424.00 207.00)">Non-Targeted</text>
<text x="440.20" y="206.30" text-anchor="end" style="font-size:6.40px;" fill="#111" stroke="#111" stroke-width="0.22" transform="rotate(-45 440.20 206.30)"><tspan font-style="italic">TAS1R3</tspan> Knockdown</text>
<text x="5.2" y="261.7" style="font-size:17.5px;font-weight:bold" fill="#000">h</text>
<text x="0.00" y="0.00" text-anchor="middle" style="font-size:6.23px;" fill="#111" stroke="#111" stroke-width="0.22" transform="translate(22.00 286.75) scale(0.95 1) rotate(-90)" textLength="79.90" lengthAdjust="spacingAndGlyphs">Relative <tspan font-style="italic">TAS1R1</tspan> Expression</text>
<line x1="37.60" y1="258.00" x2="37.60" y2="316.30" stroke="#3a3a3a" stroke-width="1.0"/>
<line x1="35.40" y1="258.50" x2="37.60" y2="258.50" stroke="#3a3a3a" stroke-width="1.0"/>
<text x="34.70" y="260.85" text-anchor="end" style="font-size:5.84px;" fill="#111" stroke="#111" stroke-width="0.22" textLength="9.02" lengthAdjust="spacingAndGlyphs">125</text>
<line x1="35.40" y1="270.40" x2="37.60" y2="270.40" stroke="#3a3a3a" stroke-width="1.0"/>
<text x="34.70" y="272.75" text-anchor="end" style="font-size:5.84px;" fill="#111" stroke="#111" stroke-width="0.22" textLength="9.02" lengthAdjust="spacingAndGlyphs">100</text>
<line x1="35.40" y1="281.90" x2="37.60" y2="281.90" stroke="#3a3a3a" stroke-width="1.0"/>
<text x="34.70" y="284.25" text-anchor="end" style="font-size:5.84px;" fill="#111" stroke="#111" stroke-width="0.22" textLength="6.01" lengthAdjust="spacingAndGlyphs">75</text>
<line x1="35.40" y1="293.40" x2="37.60" y2="293.40" stroke="#3a3a3a" stroke-width="1.0"/>
<text x="34.70" y="295.75" text-anchor="end" style="font-size:5.84px;" fill="#111" stroke="#111" stroke-width="0.22" textLength="6.01" lengthAdjust="spacingAndGlyphs">50</text>
<line x1="35.40" y1="304.90" x2="37.60" y2="304.90" stroke="#3a3a3a" stroke-width="1.0"/>
<text x="34.70" y="307.25" text-anchor="end" style="font-size:5.84px;" fill="#111" stroke="#111" stroke-width="0.22" textLength="6.01" lengthAdjust="spacingAndGlyphs">25</text>
<line x1="35.40" y1="316.30" x2="37.60" y2="316.30" stroke="#3a3a3a" stroke-width="1.0"/>
<text x="34.70" y="318.65" text-anchor="end" style="font-size:5.84px;" fill="#111" stroke="#111" stroke-width="0.22" textLength="3.01" lengthAdjust="spacingAndGlyphs">0</text>
<line x1="37.60" y1="316.30" x2="75.80" y2="316.30" stroke="#3a3a3a" stroke-width="1.0"/>
<line x1="48.60" y1="316.30" x2="48.60" y2="318.50" stroke="#3a3a3a" stroke-width="1.0"/>
<line x1="65.50" y1="316.30" x2="65.50" y2="318.50" stroke="#3a3a3a" stroke-width="1.0"/>
<line x1="48.80" y1="270.00" x2="48.80" y2="267.40" stroke="#c0a0fa" stroke-width="0.6"/>
<line x1="46.60" y1="267.40" x2="51.00" y2="267.40" stroke="#c0a0fa" stroke-width="0.6"/>
<rect x="43.50" y="270.00" width="10.60" height="46.30" fill="#8010ff" stroke="#5a10a0" stroke-width="0.8"/>
<rect x="60.20" y="306.50" width="10.20" height="9.80" fill="#ff0a7c" stroke="#a0104a" stroke-width="0.8"/>
<text x="61.00" y="303.60" text-anchor="start" style="font-size:6.42px;font-weight:bold;" fill="#111" stroke="#111" stroke-width="0.22" textLength="10.00" lengthAdjust="spacingAndGlyphs">****</text>
<text x="39.80" y="257.70" text-anchor="start" style="font-size:6.54px;font-style:italic;" fill="#111" stroke="#111" stroke-width="0.22" textLength="22.80" lengthAdjust="spacingAndGlyphs">Beas-2B</text>
<text x="49.60" y="324.00" text-anchor="end" style="font-size:6.30px;" fill="#111" stroke="#111" stroke-width="0.22" transform="rotate(-45 49.60 324.00)">Non-Targeted</text>
<text x="67.20" y="324.40" text-anchor="end" style="font-size:6.40px;" fill="#111" stroke="#111" stroke-width="0.22" transform="rotate(-45 67.20 324.40)"><tspan font-style="italic">TAS1R1</tspan> Knockdown</text>
<text x="77.9" y="262" style="font-size:17.5px;font-weight:bold" fill="#000">i</text>
<text x="0.00" y="0.00" text-anchor="middle" style="font-size:6.16px;" fill="#111" stroke="#111" stroke-width="0.22" transform="translate(87.90 296.50) scale(0.95 1) rotate(-90)" textLength="50.00" lengthAdjust="spacingAndGlyphs">Intracellular cAMP</text>
<text x="0.00" y="0.00" text-anchor="middle" style="font-size:6.24px;" fill="#111" stroke="#111" stroke-width="0.22" transform="translate(94.70 296.20) scale(0.95 1) rotate(-90)" textLength="86.00" lengthAdjust="spacingAndGlyphs">Flamindo2 Fluorescence (F<tspan dy="1.75" font-size="4.37">0</tspan><tspan dy="-1.75">&#8203;</tspan>/F)</text>
<line x1="112.50" y1="266.00" x2="112.50" y2="324.80" stroke="#3a3a3a" stroke-width="1.0"/>
<line x1="110.30" y1="268.20" x2="112.50" y2="268.20" stroke="#3a3a3a" stroke-width="1.0"/>
<text x="109.60" y="270.47" text-anchor="end" style="font-size:5.61px;font-weight:bold;" fill="#111" stroke="#111" stroke-width="0.22" textLength="10.11" lengthAdjust="spacingAndGlyphs">2.00</text>
<line x1="110.30" y1="281.20" x2="112.50" y2="281.20" stroke="#3a3a3a" stroke-width="1.0"/>
<text x="109.60" y="283.47" text-anchor="end" style="font-size:5.61px;font-weight:bold;" fill="#111" stroke="#111" stroke-width="0.22" textLength="10.11" lengthAdjust="spacingAndGlyphs">1.75</text>
<line x1="110.30" y1="294.20" x2="112.50" y2="294.20" stroke="#3a3a3a" stroke-width="1.0"/>
<text x="109.60" y="296.47" text-anchor="end" style="font-size:5.61px;font-weight:bold;" fill="#111" stroke="#111" stroke-width="0.22" textLength="10.11" lengthAdjust="spacingAndGlyphs">1.50</text>
<line x1="110.30" y1="307.20" x2="112.50" y2="307.20" stroke="#3a3a3a" stroke-width="1.0"/>
<text x="109.60" y="309.47" text-anchor="end" style="font-size:5.61px;font-weight:bold;" fill="#111" stroke="#111" stroke-width="0.22" textLength="10.11" lengthAdjust="spacingAndGlyphs">1.25</text>
<line x1="110.30" y1="320.30" x2="112.50" y2="320.30" stroke="#3a3a3a" stroke-width="1.0"/>
<text x="109.60" y="322.57" text-anchor="end" style="font-size:5.61px;font-weight:bold;" fill="#111" stroke="#111" stroke-width="0.22" textLength="10.11" lengthAdjust="spacingAndGlyphs">1.00</text>
<text x="113.70" y="267.00" text-anchor="start" style="font-size:6.80px;font-style:italic;" fill="#111" stroke="#111" stroke-width="0.22" textLength="23.70" lengthAdjust="spacingAndGlyphs">Beas-2B</text>
<polygon points="112.80,319.70 113.24,319.69 113.67,319.67 114.11,319.66 114.54,319.64 114.98,319.62 115.41,319.59 115.85,319.57 116.28,319.54 116.72,319.51 117.15,319.48 117.59,319.44 118.02,319.40 118.46,319.36 118.89,319.32 119.33,319.28 119.76,319.23 120.20,319.18 120.63,319.12 121.07,319.06 121.50,319.00 121.94,318.94 122.37,318.87 122.81,318.81 123.24,318.73 123.68,318.66 124.11,318.58 124.55,318.49 124.98,318.41 125.42,318.29 125.86,318.01 126.29,317.57 126.73,316.99 127.16,316.32 127.60,315.58 128.03,314.81 128.47,314.03 128.90,313.29 129.34,312.60 129.77,311.93 130.21,311.24 130.64,310.53 131.08,309.80 131.51,309.08 131.95,308.35 132.38,307.64 132.82,306.94 133.25,306.26 133.69,305.58 134.12,304.90 134.56,304.23 134.99,303.56 135.43,302.90 135.86,302.25 136.30,301.60 136.73,300.96 137.17,300.34 137.61,299.72 138.04,299.11 138.48,298.49 138.91,297.88 139.35,297.27 139.78,296.66 140.22,296.05 140.65,295.46 141.09,294.88 141.52,294.31 141.96,293.76 142.39,293.22 142.83,292.71 143.26,292.22 143.70,291.76 144.13,291.32 144.57,290.89 145.00,290.47 145.44,290.06 145.87,289.66 146.31,289.27 146.74,288.89 147.18,288.52 147.61,288.15 148.05,287.80 148.48,287.46 148.92,287.13 149.35,286.82 149.79,286.51 150.23,286.22 150.66,285.94 151.10,285.67 151.53,285.41 151.97,285.16 152.40,284.92 152.84,284.69 153.27,284.46 153.71,284.24 154.14,284.02 154.58,283.81 155.01,283.61 155.45,283.41 155.88,283.21 156.32,283.02 156.75,282.84 157.19,282.65 157.62,282.47 158.06,282.29 158.49,282.11 158.93,281.94 159.36,281.76 159.80,281.59 160.23,281.42 160.67,281.24 161.10,281.07 161.54,280.90 161.97,280.72 162.41,280.55 162.85,280.39 163.28,280.22 163.72,280.06 164.15,279.90 164.59,279.74 165.02,279.59 165.46,279.44 165.89,279.29 166.33,279.15 166.76,279.01 167.20,278.87 167.63,278.74 168.07,278.62 168.50,278.49 168.94,278.37 169.37,278.25 169.81,278.14 170.24,278.02 170.68,277.91 171.11,277.80 171.55,277.69 171.98,277.58 172.42,277.48 172.85,277.37 173.29,277.26 173.72,277.15 174.16,277.05 174.59,276.94 175.03,276.83 175.47,276.72 175.90,276.61 176.34,276.51 176.77,276.40 177.21,276.30 177.64,276.19 178.08,276.09 178.51,275.98 178.95,275.88 179.38,275.78 179.82,275.67 180.25,275.57 180.69,275.47 181.12,275.37 181.56,275.26 181.99,275.16 182.43,275.06 182.86,274.96 183.30,274.85 183.73,274.75 184.17,274.65 184.60,274.55 185.04,274.44 185.47,274.34 185.91,274.24 186.34,274.13 186.78,274.02 187.22,273.90 187.65,273.78 188.09,273.65 188.52,273.51 188.96,273.38 189.39,273.24 189.83,273.11 190.26,272.99 190.70,272.87 191.13,272.76 191.57,272.65 192.00,272.56 192.44,272.49 192.87,272.43 193.31,272.38 193.74,272.36 194.18,272.36 194.61,272.41 195.05,272.50 195.48,272.60 195.92,272.72 196.35,272.84 196.79,272.96 197.22,273.11 197.66,273.27 198.09,273.46 198.53,273.66 198.96,273.87 199.40,274.10 199.40,280.10 198.96,279.85 198.53,279.61 198.09,279.38 197.66,279.17 197.22,278.99 196.79,278.82 196.35,278.67 195.92,278.53 195.48,278.38 195.05,278.25 194.61,278.15 194.18,278.07 193.74,278.04 193.31,278.04 192.87,278.06 192.44,278.10 192.00,278.15 191.57,278.22 191.13,278.29 190.70,278.38 190.26,278.48 189.83,278.58 189.39,278.68 188.96,278.79 188.52,278.90 188.09,279.01 187.65,279.12 187.22,279.22 186.78,279.32 186.34,279.40 185.91,279.48 185.47,279.56 185.04,279.64 184.60,279.72 184.17,279.80 183.73,279.88 183.30,279.95 182.86,280.03 182.43,280.11 181.99,280.19 181.56,280.27 181.12,280.34 180.69,280.42 180.25,280.50 179.82,280.58 179.38,280.66 178.95,280.74 178.51,280.81 178.08,280.89 177.64,280.97 177.21,281.06 176.77,281.14 176.34,281.22 175.90,281.30 175.47,281.38 175.03,281.47 174.59,281.55 174.16,281.64 173.72,281.72 173.29,281.80 172.85,281.88 172.42,281.97 171.98,282.05 171.55,282.13 171.11,282.22 170.68,282.31 170.24,282.39 169.81,282.48 169.37,282.58 168.94,282.67 168.50,282.77 168.07,282.87 167.63,282.97 167.20,283.07 166.76,283.18 166.33,283.30 165.89,283.42 165.46,283.54 165.02,283.66 164.59,283.79 164.15,283.93 163.72,284.06 163.28,284.20 162.85,284.34 162.41,284.49 161.97,284.63 161.54,284.78 161.10,284.93 160.67,285.08 160.23,285.23 159.80,285.37 159.36,285.52 158.93,285.67 158.49,285.83 158.06,285.98 157.62,286.13 157.19,286.29 156.75,286.45 156.32,286.61 155.88,286.78 155.45,286.95 155.01,287.13 154.58,287.31 154.14,287.49 153.71,287.68 153.27,287.88 152.84,288.08 152.40,288.29 151.97,288.51 151.53,288.73 151.10,288.97 150.66,289.21 150.23,289.47 149.79,289.74 149.35,290.02 148.92,290.31 148.48,290.62 148.05,290.93 147.61,291.26 147.18,291.60 146.74,291.94 146.31,292.30 145.87,292.67 145.44,293.04 145.00,293.43 144.57,293.83 144.13,294.23 143.70,294.64 143.26,295.08 142.83,295.55 142.39,296.04 141.96,296.55 141.52,297.07 141.09,297.62 140.65,298.18 140.22,298.75 139.78,299.32 139.35,299.91 138.91,300.50 138.48,301.09 138.04,301.68 137.61,302.27 137.17,302.86 136.73,303.46 136.30,304.07 135.86,304.69 135.43,305.33 134.99,305.96 134.56,306.61 134.12,307.26 133.69,307.91 133.25,308.56 132.82,309.22 132.38,309.90 131.95,310.59 131.51,311.29 131.08,311.99 130.64,312.69 130.21,313.38 129.77,314.05 129.34,314.69 128.90,315.36 128.47,316.08 128.03,316.83 127.60,317.58 127.16,318.30 126.73,318.94 126.29,319.50 125.86,319.92 125.42,320.18 124.98,320.27 124.55,320.33 124.11,320.39 123.68,320.44 123.24,320.50 122.81,320.55 122.37,320.59 121.94,320.64 121.50,320.67 121.07,320.71 120.63,320.74 120.20,320.78 119.76,320.80 119.33,320.83 118.89,320.85 118.46,320.87 118.02,320.89 117.59,320.90 117.15,320.91 116.72,320.92 116.28,320.93 115.85,320.93 115.41,320.93 114.98,320.93 114.54,320.93 114.11,320.93 113.67,320.92 113.24,320.91 112.80,320.90" fill="#d9c8fb" fill-opacity="1.0" stroke="none"/>
<polyline points="138.04,299.11 138.48,298.49 138.91,297.88 139.35,297.27 139.78,296.66 140.22,296.05 140.65,295.46 141.09,294.88 141.52,294.31 141.96,293.76 142.39,293.22 142.83,292.71 143.26,292.22 143.70,291.76 144.13,291.32 144.57,290.89 145.00,290.47 145.44,290.06 145.87,289.66 146.31,289.27 146.74,288.89 147.18,288.52 147.61,288.15 148.05,287.80 148.48,287.46 148.92,287.13 149.35,286.82 149.79,286.51 150.23,286.22 150.66,285.94 151.10,285.67 151.53,285.41 151.97,285.16 152.40,284.92 152.84,284.69 153.27,284.46 153.71,284.24 154.14,284.02 154.58,283.81 155.01,283.61 155.45,283.41 155.88,283.21 156.32,283.02 156.75,282.84 157.19,282.65 157.62,282.47 158.06,282.29 158.49,282.11 158.93,281.94 159.36,281.76 159.80,281.59 160.23,281.42 160.67,281.24 161.10,281.07 161.54,280.90 161.97,280.72 162.41,280.55 162.85,280.39 163.28,280.22 163.72,280.06 164.15,279.90 164.59,279.74 165.02,279.59 165.46,279.44 165.89,279.29 166.33,279.15 166.76,279.01 167.20,278.87 167.63,278.74 168.07,278.62 168.50,278.49 168.94,278.37 169.37,278.25 169.81,278.14 170.24,278.02 170.68,277.91 171.11,277.80 171.55,277.69 171.98,277.58 172.42,277.48 172.85,277.37 173.29,277.26 173.72,277.15 174.16,277.05 174.59,276.94 175.03,276.83 175.47,276.72 175.90,276.61 176.34,276.51 176.77,276.40 177.21,276.30 177.64,276.19 178.08,276.09 178.51,275.98 178.95,275.88 179.38,275.78 179.82,275.67 180.25,275.57 180.69,275.47 181.12,275.37 181.56,275.26 181.99,275.16 182.43,275.06 182.86,274.96 183.30,274.85 183.73,274.75 184.17,274.65 184.60,274.55 185.04,274.44 185.47,274.34 185.91,274.24 186.34,274.13 186.78,274.02 187.22,273.90 187.65,273.78 188.09,273.65 188.52,273.51 188.96,273.38 189.39,273.24 189.83,273.11 190.26,272.99 190.70,272.87 191.13,272.76 191.57,272.65 192.00,272.56 192.44,272.49 192.87,272.43 193.31,272.38 193.74,272.36 194.18,272.36 194.61,272.41 195.05,272.50 195.48,272.60 195.92,272.72 196.35,272.84 196.79,272.96 197.22,273.11 197.66,273.27 198.09,273.46 198.53,273.66 198.96,273.87 199.40,274.10" fill="none" stroke="#9a7ae6" stroke-width="0.5" stroke-linejoin="round" stroke-linecap="round" />
<polyline points="138.04,301.68 138.48,301.09 138.91,300.50 139.35,299.91 139.78,299.32 140.22,298.75 140.65,298.18 141.09,297.62 141.52,297.07 141.96,296.55 142.39,296.04 142.83,295.55 143.26,295.08 143.70,294.64 144.13,294.23 144.57,293.83 145.00,293.43 145.44,293.04 145.87,292.67 146.31,292.30 146.74,291.94 147.18,291.60 147.61,291.26 148.05,290.93 148.48,290.62 148.92,290.31 149.35,290.02 149.79,289.74 150.23,289.47 150.66,289.21 151.10,288.97 151.53,288.73 151.97,288.51 152.40,288.29 152.84,288.08 153.27,287.88 153.71,287.68 154.14,287.49 154.58,287.31 155.01,287.13 155.45,286.95 155.88,286.78 156.32,286.61 156.75,286.45 157.19,286.29 157.62,286.13 158.06,285.98 158.49,285.83 158.93,285.67 159.36,285.52 159.80,285.37 160.23,285.23 160.67,285.08 161.10,284.93 161.54,284.78 161.97,284.63 162.41,284.49 162.85,284.34 163.28,284.20 163.72,284.06 164.15,283.93 164.59,283.79 165.02,283.66 165.46,283.54 165.89,283.42 166.33,283.30 166.76,283.18 167.20,283.07 167.63,282.97 168.07,282.87 168.50,282.77 168.94,282.67 169.37,282.58 169.81,282.48 170.24,282.39 170.68,282.31 171.11,282.22 171.55,282.13 171.98,282.05 172.42,281.97 172.85,281.88 173.29,281.80 173.72,281.72 174.16,281.64 174.59,281.55 175.03,281.47 175.47,281.38 175.90,281.30 176.34,281.22 176.77,281.14 177.21,281.06 177.64,280.97 178.08,280.89 178.51,280.81 178.95,280.74 179.38,280.66 179.82,280.58 180.25,280.50 180.69,280.42 181.12,280.34 181.56,280.27 181.99,280.19 182.43,280.11 182.86,280.03 183.30,279.95 183.73,279.88 184.17,279.80 184.60,279.72 185.04,279.64 185.47,279.56 185.91,279.48 186.34,279.40 186.78,279.32 187.22,279.22 187.65,279.12 188.09,279.01 188.52,278.90 188.96,278.79 189.39,278.68 189.83,278.58 190.26,278.48 190.70,278.38 191.13,278.29 191.57,278.22 192.00,278.15 192.44,278.10 192.87,278.06 193.31,278.04 193.74,278.04 194.18,278.07 194.61,278.15 195.05,278.25 195.48,278.38 195.92,278.53 196.35,278.67 196.79,278.82 197.22,278.99 197.66,279.17 198.09,279.38 198.53,279.61 198.96,279.85 199.40,280.10" fill="none" stroke="#9a7ae6" stroke-width="0.5" stroke-linejoin="round" stroke-linecap="round" />
<circle cx="112.80" cy="320.30" r="1.1" fill="#ff0a7c"/>
<circle cx="113.97" cy="320.29" r="1.1" fill="#ff0a7c"/>
<circle cx="115.14" cy="320.27" r="1.1" fill="#ff0a7c"/>
<circle cx="116.31" cy="320.23" r="1.1" fill="#ff0a7c"/>
<circle cx="117.48" cy="320.18" r="1.1" fill="#ff0a7c"/>
<circle cx="118.65" cy="320.10" r="1.1" fill="#ff0a7c"/>
<circle cx="119.82" cy="320.01" r="1.1" fill="#ff0a7c"/>
<circle cx="120.99" cy="319.90" r="1.1" fill="#ff0a7c"/>
<circle cx="122.16" cy="319.76" r="1.1" fill="#ff0a7c"/>
<circle cx="123.33" cy="319.60" r="1.1" fill="#ff0a7c"/>
<circle cx="124.50" cy="319.42" r="1.1" fill="#ff0a7c"/>
<circle cx="125.67" cy="319.10" r="1.1" fill="#ff0a7c"/>
<circle cx="126.84" cy="317.82" r="1.1" fill="#ff0a7c"/>
<circle cx="128.01" cy="315.88" r="1.1" fill="#ff0a7c"/>
<circle cx="129.18" cy="313.88" r="1.1" fill="#ff0a7c"/>
<circle cx="130.35" cy="311.94" r="1.1" fill="#ff0a7c"/>
<circle cx="131.52" cy="309.82" r="1.1" fill="#ff0a7c"/>
<circle cx="132.69" cy="307.89" r="1.1" fill="#ff0a7c"/>
<circle cx="133.86" cy="306.19" r="1.1" fill="#ff0a7c"/>
<circle cx="135.04" cy="304.44" r="1.1" fill="#ff0a7c"/>
<circle cx="136.21" cy="303.03" r="1.1" fill="#ff0a7c"/>
<circle cx="137.38" cy="302.32" r="1.1" fill="#ff0a7c"/>
<circle cx="138.55" cy="302.56" r="1.1" fill="#ff0a7c"/>
<circle cx="139.72" cy="303.43" r="1.1" fill="#ff0a7c"/>
<circle cx="140.89" cy="304.54" r="1.1" fill="#ff0a7c"/>
<circle cx="142.06" cy="305.54" r="1.1" fill="#ff0a7c"/>
<circle cx="143.23" cy="306.47" r="1.1" fill="#ff0a7c"/>
<circle cx="144.40" cy="307.46" r="1.1" fill="#ff0a7c"/>
<circle cx="145.57" cy="308.42" r="1.1" fill="#ff0a7c"/>
<circle cx="146.74" cy="309.24" r="1.1" fill="#ff0a7c"/>
<circle cx="147.91" cy="309.83" r="1.1" fill="#ff0a7c"/>
<circle cx="149.08" cy="310.20" r="1.1" fill="#ff0a7c"/>
<circle cx="150.25" cy="310.53" r="1.1" fill="#ff0a7c"/>
<circle cx="151.42" cy="310.82" r="1.1" fill="#ff0a7c"/>
<circle cx="152.59" cy="311.07" r="1.1" fill="#ff0a7c"/>
<circle cx="153.76" cy="311.29" r="1.1" fill="#ff0a7c"/>
<circle cx="154.93" cy="311.48" r="1.1" fill="#ff0a7c"/>
<circle cx="156.10" cy="311.64" r="1.1" fill="#ff0a7c"/>
<circle cx="157.27" cy="311.77" r="1.1" fill="#ff0a7c"/>
<circle cx="158.44" cy="311.88" r="1.1" fill="#ff0a7c"/>
<circle cx="159.61" cy="311.99" r="1.1" fill="#ff0a7c"/>
<circle cx="160.78" cy="312.09" r="1.1" fill="#ff0a7c"/>
<circle cx="161.95" cy="312.19" r="1.1" fill="#ff0a7c"/>
<circle cx="163.12" cy="312.27" r="1.1" fill="#ff0a7c"/>
<circle cx="164.29" cy="312.33" r="1.1" fill="#ff0a7c"/>
<circle cx="165.46" cy="312.38" r="1.1" fill="#ff0a7c"/>
<circle cx="166.63" cy="312.40" r="1.1" fill="#ff0a7c"/>
<circle cx="167.80" cy="312.40" r="1.1" fill="#ff0a7c"/>
<circle cx="168.97" cy="312.38" r="1.1" fill="#ff0a7c"/>
<circle cx="170.14" cy="312.35" r="1.1" fill="#ff0a7c"/>
<circle cx="171.31" cy="312.30" r="1.1" fill="#ff0a7c"/>
<circle cx="172.48" cy="312.25" r="1.1" fill="#ff0a7c"/>
<circle cx="173.65" cy="312.18" r="1.1" fill="#ff0a7c"/>
<circle cx="174.82" cy="312.11" r="1.1" fill="#ff0a7c"/>
<circle cx="175.99" cy="312.03" r="1.1" fill="#ff0a7c"/>
<circle cx="177.16" cy="311.95" r="1.1" fill="#ff0a7c"/>
<circle cx="178.34" cy="311.87" r="1.1" fill="#ff0a7c"/>
<circle cx="179.51" cy="311.79" r="1.1" fill="#ff0a7c"/>
<circle cx="180.68" cy="311.71" r="1.1" fill="#ff0a7c"/>
<circle cx="181.85" cy="311.63" r="1.1" fill="#ff0a7c"/>
<circle cx="183.02" cy="311.56" r="1.1" fill="#ff0a7c"/>
<circle cx="184.19" cy="311.49" r="1.1" fill="#ff0a7c"/>
<circle cx="185.36" cy="311.43" r="1.1" fill="#ff0a7c"/>
<circle cx="186.53" cy="311.39" r="1.1" fill="#ff0a7c"/>
<circle cx="187.70" cy="311.34" r="1.1" fill="#ff0a7c"/>
<circle cx="188.87" cy="311.30" r="1.1" fill="#ff0a7c"/>
<circle cx="190.04" cy="311.26" r="1.1" fill="#ff0a7c"/>
<circle cx="191.21" cy="311.22" r="1.1" fill="#ff0a7c"/>
<circle cx="192.38" cy="311.19" r="1.1" fill="#ff0a7c"/>
<circle cx="193.55" cy="311.15" r="1.1" fill="#ff0a7c"/>
<circle cx="194.72" cy="311.12" r="1.1" fill="#ff0a7c"/>
<circle cx="195.89" cy="311.08" r="1.1" fill="#ff0a7c"/>
<circle cx="197.06" cy="311.05" r="1.1" fill="#ff0a7c"/>
<circle cx="198.23" cy="311.03" r="1.1" fill="#ff0a7c"/>
<circle cx="199.40" cy="311.00" r="1.1" fill="#ff0a7c"/>
<circle cx="112.80" cy="320.30" r="1.1" fill="#8010ff"/>
<circle cx="113.97" cy="320.29" r="1.1" fill="#8010ff"/>
<circle cx="115.14" cy="320.27" r="1.1" fill="#8010ff"/>
<circle cx="116.31" cy="320.23" r="1.1" fill="#8010ff"/>
<circle cx="117.48" cy="320.18" r="1.1" fill="#8010ff"/>
<circle cx="118.65" cy="320.10" r="1.1" fill="#8010ff"/>
<circle cx="119.82" cy="320.01" r="1.1" fill="#8010ff"/>
<circle cx="120.99" cy="319.90" r="1.1" fill="#8010ff"/>
<circle cx="122.16" cy="319.76" r="1.1" fill="#8010ff"/>
<circle cx="123.33" cy="319.60" r="1.1" fill="#8010ff"/>
<circle cx="124.50" cy="319.42" r="1.1" fill="#8010ff"/>
<circle cx="125.67" cy="319.10" r="1.1" fill="#8010ff"/>
<circle cx="126.84" cy="317.80" r="1.1" fill="#8010ff"/>
<circle cx="128.01" cy="315.85" r="1.1" fill="#8010ff"/>
<circle cx="129.18" cy="313.87" r="1.1" fill="#8010ff"/>
<circle cx="130.35" cy="312.07" r="1.1" fill="#8010ff"/>
<circle cx="131.52" cy="310.16" r="1.1" fill="#8010ff"/>
<circle cx="132.69" cy="308.27" r="1.1" fill="#8010ff"/>
<circle cx="133.86" cy="306.47" r="1.1" fill="#8010ff"/>
<circle cx="135.04" cy="304.70" r="1.1" fill="#8010ff"/>
<circle cx="136.21" cy="302.97" r="1.1" fill="#8010ff"/>
<circle cx="137.38" cy="301.31" r="1.1" fill="#8010ff"/>
<circle cx="138.55" cy="299.69" r="1.1" fill="#8010ff"/>
<circle cx="139.72" cy="298.08" r="1.1" fill="#8010ff"/>
<circle cx="140.89" cy="296.51" r="1.1" fill="#8010ff"/>
<circle cx="142.06" cy="295.03" r="1.1" fill="#8010ff"/>
<circle cx="143.23" cy="293.69" r="1.1" fill="#8010ff"/>
<circle cx="144.40" cy="292.52" r="1.1" fill="#8010ff"/>
<circle cx="145.57" cy="291.44" r="1.1" fill="#8010ff"/>
<circle cx="146.74" cy="290.42" r="1.1" fill="#8010ff"/>
<circle cx="147.91" cy="289.48" r="1.1" fill="#8010ff"/>
<circle cx="149.08" cy="288.61" r="1.1" fill="#8010ff"/>
<circle cx="150.25" cy="287.83" r="1.1" fill="#8010ff"/>
<circle cx="151.42" cy="287.13" r="1.1" fill="#8010ff"/>
<circle cx="152.59" cy="286.51" r="1.1" fill="#8010ff"/>
<circle cx="153.76" cy="285.94" r="1.1" fill="#8010ff"/>
<circle cx="154.93" cy="285.40" r="1.1" fill="#8010ff"/>
<circle cx="156.10" cy="284.91" r="1.1" fill="#8010ff"/>
<circle cx="157.27" cy="284.44" r="1.1" fill="#8010ff"/>
<circle cx="158.44" cy="283.99" r="1.1" fill="#8010ff"/>
<circle cx="159.61" cy="283.55" r="1.1" fill="#8010ff"/>
<circle cx="160.78" cy="283.12" r="1.1" fill="#8010ff"/>
<circle cx="161.95" cy="282.69" r="1.1" fill="#8010ff"/>
<circle cx="163.12" cy="282.27" r="1.1" fill="#8010ff"/>
<circle cx="164.29" cy="281.86" r="1.1" fill="#8010ff"/>
<circle cx="165.46" cy="281.48" r="1.1" fill="#8010ff"/>
<circle cx="166.63" cy="281.13" r="1.1" fill="#8010ff"/>
<circle cx="167.80" cy="280.81" r="1.1" fill="#8010ff"/>
<circle cx="168.97" cy="280.51" r="1.1" fill="#8010ff"/>
<circle cx="170.14" cy="280.23" r="1.1" fill="#8010ff"/>
<circle cx="171.31" cy="279.97" r="1.1" fill="#8010ff"/>
<circle cx="172.48" cy="279.71" r="1.1" fill="#8010ff"/>
<circle cx="173.65" cy="279.45" r="1.1" fill="#8010ff"/>
<circle cx="174.82" cy="279.19" r="1.1" fill="#8010ff"/>
<circle cx="175.99" cy="278.94" r="1.1" fill="#8010ff"/>
<circle cx="177.16" cy="278.68" r="1.1" fill="#8010ff"/>
<circle cx="178.34" cy="278.44" r="1.1" fill="#8010ff"/>
<circle cx="179.51" cy="278.19" r="1.1" fill="#8010ff"/>
<circle cx="180.68" cy="277.95" r="1.1" fill="#8010ff"/>
<circle cx="181.85" cy="277.70" r="1.1" fill="#8010ff"/>
<circle cx="183.02" cy="277.46" r="1.1" fill="#8010ff"/>
<circle cx="184.19" cy="277.22" r="1.1" fill="#8010ff"/>
<circle cx="185.36" cy="276.98" r="1.1" fill="#8010ff"/>
<circle cx="186.53" cy="276.73" r="1.1" fill="#8010ff"/>
<circle cx="187.70" cy="276.43" r="1.1" fill="#8010ff"/>
<circle cx="188.87" cy="276.11" r="1.1" fill="#8010ff"/>
<circle cx="190.04" cy="275.79" r="1.1" fill="#8010ff"/>
<circle cx="191.21" cy="275.51" r="1.1" fill="#8010ff"/>
<circle cx="192.38" cy="275.30" r="1.1" fill="#8010ff"/>
<circle cx="193.55" cy="275.20" r="1.1" fill="#8010ff"/>
<circle cx="194.72" cy="275.30" r="1.1" fill="#8010ff"/>
<circle cx="195.89" cy="275.61" r="1.1" fill="#8010ff"/>
<circle cx="197.06" cy="275.99" r="1.1" fill="#8010ff"/>
<circle cx="198.23" cy="276.48" r="1.1" fill="#8010ff"/>
<circle cx="199.40" cy="277.10" r="1.1" fill="#8010ff"/>
<circle cx="126.84" cy="318.12" r="0.9" fill="#ff0a7c"/>
<circle cx="128.01" cy="316.18" r="0.9" fill="#ff0a7c"/>
<circle cx="129.18" cy="314.18" r="0.9" fill="#ff0a7c"/>
<circle cx="130.35" cy="312.24" r="0.9" fill="#ff0a7c"/>
<circle cx="131.52" cy="310.12" r="0.9" fill="#ff0a7c"/>
<circle cx="132.69" cy="308.19" r="0.9" fill="#ff0a7c"/>
<circle cx="133.86" cy="306.49" r="0.9" fill="#ff0a7c"/>
<circle cx="135.04" cy="304.74" r="0.9" fill="#ff0a7c"/>
<circle cx="136.21" cy="303.33" r="0.9" fill="#ff0a7c"/>
<circle cx="150.8" cy="267.7" r="1.2" fill="#8010ff"/>
<circle cx="150.8" cy="302.7" r="1.2" fill="#ff0a7c"/>
<text x="157.30" y="270.10" text-anchor="start" style="font-size:6.84px;" fill="#111" stroke="#111" stroke-width="0.22" textLength="37.70" lengthAdjust="spacingAndGlyphs">Non-Targeted</text>
<text x="157.90" y="304.60" text-anchor="start" style="font-size:6.69px;" fill="#111" stroke="#111" stroke-width="0.22" textLength="55.70" lengthAdjust="spacingAndGlyphs"><tspan font-style="italic">TAS1R1</tspan> Knockdown</text>
<line x1="124.40" y1="326.60" x2="124.40" y2="333.20" stroke="#111" stroke-width="1.1"/>
<path d="M122.50,327.60 L124.40,324.10 L126.30,327.60 Z" fill="#111"/>
<text x="116.80" y="340.00" text-anchor="start" style="font-size:6.52px;" fill="#111" stroke="#111" stroke-width="0.22" textLength="35.90" lengthAdjust="spacingAndGlyphs">1×-<tspan font-style="italic">MEM</tspan> AA's</text>
<line x1="187.70" y1="324.60" x2="199.40" y2="324.60" stroke="#111" stroke-width="0.9"/>
<text x="185.30" y="331.20" text-anchor="start" style="font-size:6.75px;" fill="#111" stroke="#111" stroke-width="0.22" textLength="15.00" lengthAdjust="spacingAndGlyphs">1 min</text>
<text x="0.00" y="0.00" text-anchor="middle" style="font-size:6.21px;" fill="#111" stroke="#111" stroke-width="0.22" transform="translate(223.60 286.50) scale(0.95 1) rotate(-90)" textLength="50.40" lengthAdjust="spacingAndGlyphs">Intracellular cAMP</text>
<text x="0.00" y="0.00" text-anchor="middle" style="font-size:6.22px;" fill="#111" stroke="#111" stroke-width="0.22" transform="translate(230.40 286.55) scale(0.95 1) rotate(-90)" textLength="68.10" lengthAdjust="spacingAndGlyphs">Flamindo2 Fluorescence</text>
<text x="0.00" y="0.00" text-anchor="middle" style="font-size:6.30px;" fill="#111" stroke="#111" stroke-width="0.22" transform="translate(237.00 286.55) scale(0.95 1) rotate(-90)" textLength="62.70" lengthAdjust="spacingAndGlyphs">(normalized to control)</text>
<line x1="251.80" y1="258.00" x2="251.80" y2="316.30" stroke="#3a3a3a" stroke-width="1.0"/>
<line x1="249.60" y1="258.60" x2="251.80" y2="258.60" stroke="#3a3a3a" stroke-width="1.0"/>
<text x="248.90" y="260.83" text-anchor="end" style="font-size:5.50px;font-weight:bold;" fill="#111" stroke="#111" stroke-width="0.22" textLength="8.49" lengthAdjust="spacingAndGlyphs">125</text>
<line x1="249.60" y1="270.20" x2="251.80" y2="270.20" stroke="#3a3a3a" stroke-width="1.0"/>
<text x="248.90" y="272.43" text-anchor="end" style="font-size:5.50px;font-weight:bold;" fill="#111" stroke="#111" stroke-width="0.22" textLength="8.49" lengthAdjust="spacingAndGlyphs">100</text>
<line x1="249.60" y1="281.70" x2="251.80" y2="281.70" stroke="#3a3a3a" stroke-width="1.0"/>
<text x="248.90" y="283.93" text-anchor="end" style="font-size:5.50px;font-weight:bold;" fill="#111" stroke="#111" stroke-width="0.22" textLength="5.66" lengthAdjust="spacingAndGlyphs">75</text>
<line x1="249.60" y1="293.20" x2="251.80" y2="293.20" stroke="#3a3a3a" stroke-width="1.0"/>
<text x="248.90" y="295.43" text-anchor="end" style="font-size:5.50px;font-weight:bold;" fill="#111" stroke="#111" stroke-width="0.22" textLength="5.66" lengthAdjust="spacingAndGlyphs">50</text>
<line x1="249.60" y1="304.80" x2="251.80" y2="304.80" stroke="#3a3a3a" stroke-width="1.0"/>
<text x="248.90" y="307.03" text-anchor="end" style="font-size:5.50px;font-weight:bold;" fill="#111" stroke="#111" stroke-width="0.22" textLength="5.66" lengthAdjust="spacingAndGlyphs">25</text>
<line x1="249.60" y1="316.30" x2="251.80" y2="316.30" stroke="#3a3a3a" stroke-width="1.0"/>
<text x="248.90" y="318.53" text-anchor="end" style="font-size:5.50px;font-weight:bold;" fill="#111" stroke="#111" stroke-width="0.22" textLength="2.83" lengthAdjust="spacingAndGlyphs">0</text>
<line x1="251.80" y1="316.30" x2="290.30" y2="316.30" stroke="#3a3a3a" stroke-width="1.0"/>
<line x1="263.00" y1="316.30" x2="263.00" y2="318.50" stroke="#3a3a3a" stroke-width="1.0"/>
<line x1="279.30" y1="316.30" x2="279.30" y2="318.50" stroke="#3a3a3a" stroke-width="1.0"/>
<line x1="263.20" y1="269.90" x2="263.20" y2="262.40" stroke="#b090f5" stroke-width="0.6"/>
<line x1="260.80" y1="262.40" x2="265.60" y2="262.40" stroke="#b090f5" stroke-width="0.6"/>
<rect x="257.70" y="269.90" width="11.10" height="46.40" fill="#8010ff" stroke="#5a10a0" stroke-width="0.8"/>
<line x1="279.60" y1="301.30" x2="279.60" y2="298.30" stroke="#f080b0" stroke-width="0.6"/>
<line x1="277.40" y1="298.30" x2="281.80" y2="298.30" stroke="#f080b0" stroke-width="0.6"/>
<rect x="274.10" y="301.30" width="11.10" height="15.00" fill="#ff0a7c" stroke="#a0104a" stroke-width="0.8"/>
<text x="279.80" y="297.00" text-anchor="middle" style="font-size:6.20px;font-weight:bold;" fill="#111" stroke="#111" stroke-width="0.22">*</text>
<text x="253.60" y="257.50" text-anchor="start" style="font-size:6.60px;font-style:italic;" fill="#111" stroke="#111" stroke-width="0.22" textLength="23.00" lengthAdjust="spacingAndGlyphs">Beas-2B</text>
<text x="264.20" y="324.40" text-anchor="end" style="font-size:6.30px;" fill="#111" stroke="#111" stroke-width="0.22" transform="rotate(-45 264.20 324.40)">Non-Targeted</text>
<text x="281.00" y="324.40" text-anchor="end" style="font-size:6.40px;" fill="#111" stroke="#111" stroke-width="0.22" transform="rotate(-45 281.00 324.40)"><tspan font-style="italic">TAS1R1</tspan> Knockdown</text>
<text x="299.7" y="262" style="font-size:17.5px;font-weight:bold" fill="#000">j</text>
<text x="0.00" y="0.00" text-anchor="middle" style="font-size:6.65px;" fill="#111" stroke="#111" stroke-width="0.22" transform="translate(307.20 296.95) scale(0.95 1) rotate(-90)" textLength="35.50" lengthAdjust="spacingAndGlyphs">PKA Activity</text>
<text x="0.00" y="0.00" text-anchor="middle" style="font-size:6.10px;" fill="#111" stroke="#111" stroke-width="0.22" transform="translate(314.20 297.95) scale(0.95 1) rotate(-90)" textLength="76.90" lengthAdjust="spacingAndGlyphs"><tspan font-style="italic">AKAR4</tspan> Fluorescence (R/R<tspan dy="1.71" font-size="4.27">0</tspan><tspan dy="-1.71">&#8203;</tspan>)</text>
<line x1="326.80" y1="269.70" x2="326.80" y2="325.80" stroke="#555" stroke-width="1.0"/>
<line x1="324.60" y1="276.40" x2="326.80" y2="276.40" stroke="#555" stroke-width="1.0"/>
<text x="323.90" y="278.71" text-anchor="end" style="font-size:5.72px;font-weight:bold;" fill="#111" stroke="#111" stroke-width="0.22" textLength="7.37" lengthAdjust="spacingAndGlyphs">1.6</text>
<line x1="324.60" y1="290.80" x2="326.80" y2="290.80" stroke="#555" stroke-width="1.0"/>
<text x="323.90" y="293.11" text-anchor="end" style="font-size:5.72px;font-weight:bold;" fill="#111" stroke="#111" stroke-width="0.22" textLength="7.37" lengthAdjust="spacingAndGlyphs">1.4</text>
<line x1="324.60" y1="305.20" x2="326.80" y2="305.20" stroke="#555" stroke-width="1.0"/>
<text x="323.90" y="307.51" text-anchor="end" style="font-size:5.72px;font-weight:bold;" fill="#111" stroke="#111" stroke-width="0.22" textLength="7.37" lengthAdjust="spacingAndGlyphs">1.2</text>
<line x1="324.60" y1="319.50" x2="326.80" y2="319.50" stroke="#555" stroke-width="1.0"/>
<text x="323.90" y="321.81" text-anchor="end" style="font-size:5.72px;font-weight:bold;" fill="#111" stroke="#111" stroke-width="0.22" textLength="7.37" lengthAdjust="spacingAndGlyphs">1.0</text>
<text x="327.90" y="268.50" text-anchor="start" style="font-size:6.74px;font-style:italic;" fill="#111" stroke="#111" stroke-width="0.22" textLength="23.50" lengthAdjust="spacingAndGlyphs">Beas-2B</text>
<circle cx="327.20" cy="319.57" r="0.8" fill="#2d1b5c"/>
<circle cx="327.93" cy="319.48" r="0.8" fill="#2d1b5c"/>
<circle cx="328.65" cy="319.25" r="0.8" fill="#2d1b5c"/>
<circle cx="329.38" cy="319.59" r="0.8" fill="#2d1b5c"/>
<circle cx="330.11" cy="319.53" r="0.8" fill="#2d1b5c"/>
<circle cx="330.83" cy="319.73" r="0.8" fill="#2d1b5c"/>
<circle cx="331.56" cy="319.53" r="0.8" fill="#2d1b5c"/>
<circle cx="332.29" cy="319.56" r="0.8" fill="#2d1b5c"/>
<circle cx="333.01" cy="319.01" r="0.8" fill="#2d1b5c"/>
<circle cx="333.74" cy="319.21" r="0.8" fill="#2d1b5c"/>
<circle cx="334.47" cy="319.38" r="0.8" fill="#2d1b5c"/>
<circle cx="335.19" cy="319.57" r="0.8" fill="#2d1b5c"/>
<circle cx="335.92" cy="319.50" r="0.8" fill="#2d1b5c"/>
<circle cx="336.65" cy="319.88" r="0.8" fill="#2d1b5c"/>
<circle cx="337.37" cy="319.28" r="0.8" fill="#2d1b5c"/>
<circle cx="338.10" cy="319.44" r="0.8" fill="#2d1b5c"/>
<circle cx="338.83" cy="319.56" r="0.8" fill="#2d1b5c"/>
<circle cx="339.55" cy="319.44" r="0.8" fill="#2d1b5c"/>
<circle cx="340.28" cy="319.62" r="0.8" fill="#2d1b5c"/>
<circle cx="341.01" cy="319.36" r="0.8" fill="#2d1b5c"/>
<circle cx="341.74" cy="319.86" r="0.8" fill="#2d1b5c"/>
<circle cx="342.46" cy="319.42" r="0.8" fill="#2d1b5c"/>
<circle cx="343.19" cy="319.78" r="0.8" fill="#2d1b5c"/>
<circle cx="343.92" cy="319.49" r="0.8" fill="#2d1b5c"/>
<circle cx="344.64" cy="319.87" r="0.8" fill="#2d1b5c"/>
<circle cx="345.37" cy="319.15" r="0.8" fill="#2d1b5c"/>
<circle cx="346.10" cy="319.63" r="0.8" fill="#2d1b5c"/>
<circle cx="346.82" cy="319.39" r="0.8" fill="#2d1b5c"/>
<circle cx="347.55" cy="319.56" r="0.8" fill="#2d1b5c"/>
<circle cx="348.28" cy="319.80" r="0.8" fill="#2d1b5c"/>
<circle cx="349.00" cy="319.22" r="0.8" fill="#2d1b5c"/>
<circle cx="349.73" cy="319.17" r="0.8" fill="#2d1b5c"/>
<circle cx="350.46" cy="319.25" r="0.8" fill="#2d1b5c"/>
<circle cx="351.18" cy="319.56" r="0.8" fill="#2d1b5c"/>
<circle cx="351.91" cy="319.03" r="0.8" fill="#2d1b5c"/>
<circle cx="352.64" cy="319.52" r="0.8" fill="#2d1b5c"/>
<circle cx="353.36" cy="319.18" r="0.8" fill="#2d1b5c"/>
<circle cx="354.09" cy="319.21" r="0.8" fill="#2d1b5c"/>
<circle cx="354.82" cy="319.41" r="0.8" fill="#2d1b5c"/>
<circle cx="355.54" cy="319.60" r="0.8" fill="#2d1b5c"/>
<circle cx="356.27" cy="319.34" r="0.8" fill="#2d1b5c"/>
<circle cx="357.00" cy="319.38" r="0.8" fill="#2d1b5c"/>
<circle cx="357.72" cy="319.49" r="0.8" fill="#2d1b5c"/>
<circle cx="358.45" cy="319.43" r="0.8" fill="#2d1b5c"/>
<circle cx="359.18" cy="318.83" r="0.8" fill="#2d1b5c"/>
<circle cx="359.90" cy="319.39" r="0.8" fill="#2d1b5c"/>
<circle cx="360.63" cy="319.52" r="0.8" fill="#2d1b5c"/>
<circle cx="361.36" cy="319.77" r="0.8" fill="#2d1b5c"/>
<circle cx="362.08" cy="320.01" r="0.8" fill="#2d1b5c"/>
<circle cx="362.81" cy="319.67" r="0.8" fill="#2d1b5c"/>
<circle cx="363.54" cy="319.52" r="0.8" fill="#2d1b5c"/>
<circle cx="364.26" cy="319.26" r="0.8" fill="#2d1b5c"/>
<circle cx="364.99" cy="319.52" r="0.8" fill="#2d1b5c"/>
<circle cx="365.72" cy="319.69" r="0.8" fill="#2d1b5c"/>
<circle cx="366.45" cy="319.82" r="0.8" fill="#2d1b5c"/>
<circle cx="367.17" cy="319.28" r="0.8" fill="#2d1b5c"/>
<circle cx="367.90" cy="319.56" r="0.8" fill="#2d1b5c"/>
<circle cx="368.63" cy="319.70" r="0.8" fill="#2d1b5c"/>
<circle cx="369.35" cy="319.97" r="0.8" fill="#2d1b5c"/>
<circle cx="370.08" cy="319.56" r="0.8" fill="#2d1b5c"/>
<circle cx="370.81" cy="319.36" r="0.8" fill="#2d1b5c"/>
<circle cx="371.53" cy="319.33" r="0.8" fill="#2d1b5c"/>
<circle cx="372.26" cy="319.41" r="0.8" fill="#2d1b5c"/>
<circle cx="372.99" cy="319.34" r="0.8" fill="#2d1b5c"/>
<circle cx="373.71" cy="319.71" r="0.8" fill="#2d1b5c"/>
<circle cx="374.44" cy="319.77" r="0.8" fill="#2d1b5c"/>
<circle cx="375.17" cy="319.68" r="0.8" fill="#2d1b5c"/>
<circle cx="375.89" cy="319.80" r="0.8" fill="#2d1b5c"/>
<circle cx="376.62" cy="319.39" r="0.8" fill="#2d1b5c"/>
<circle cx="377.35" cy="319.60" r="0.8" fill="#2d1b5c"/>
<circle cx="378.07" cy="319.40" r="0.8" fill="#2d1b5c"/>
<circle cx="378.80" cy="319.51" r="0.8" fill="#2d1b5c"/>
<circle cx="379.20" cy="316.50" r="0.75" fill="#2d1b5c"/>
<circle cx="379.60" cy="310.00" r="0.75" fill="#2d1b5c"/>
<circle cx="380.00" cy="303.00" r="0.75" fill="#2d1b5c"/>
<circle cx="380.40" cy="297.00" r="0.75" fill="#2d1b5c"/>
<circle cx="380.90" cy="292.00" r="0.75" fill="#2d1b5c"/>
<circle cx="381.50" cy="291.31" r="0.85" fill="#2d1b5c"/>
<circle cx="382.10" cy="290.39" r="0.85" fill="#2d1b5c"/>
<circle cx="382.71" cy="289.32" r="0.85" fill="#2d1b5c"/>
<circle cx="383.31" cy="289.38" r="0.85" fill="#2d1b5c"/>
<circle cx="383.92" cy="289.17" r="0.85" fill="#2d1b5c"/>
<circle cx="384.52" cy="288.87" r="0.85" fill="#2d1b5c"/>
<circle cx="385.13" cy="288.95" r="0.85" fill="#2d1b5c"/>
<circle cx="385.73" cy="289.28" r="0.85" fill="#2d1b5c"/>
<circle cx="386.34" cy="289.41" r="0.85" fill="#2d1b5c"/>
<circle cx="386.94" cy="288.85" r="0.85" fill="#2d1b5c"/>
<circle cx="387.55" cy="289.21" r="0.85" fill="#2d1b5c"/>
<circle cx="388.15" cy="289.24" r="0.85" fill="#2d1b5c"/>
<circle cx="388.76" cy="288.64" r="0.85" fill="#2d1b5c"/>
<circle cx="389.36" cy="288.91" r="0.85" fill="#2d1b5c"/>
<circle cx="389.97" cy="288.89" r="0.85" fill="#2d1b5c"/>
<circle cx="390.57" cy="288.93" r="0.85" fill="#2d1b5c"/>
<circle cx="391.18" cy="288.48" r="0.85" fill="#2d1b5c"/>
<circle cx="391.78" cy="288.77" r="0.85" fill="#2d1b5c"/>
<circle cx="392.39" cy="289.11" r="0.85" fill="#2d1b5c"/>
<circle cx="392.99" cy="289.15" r="0.85" fill="#2d1b5c"/>
<circle cx="393.60" cy="289.27" r="0.85" fill="#2d1b5c"/>
<circle cx="394.20" cy="288.72" r="0.85" fill="#2d1b5c"/>
<line x1="330.20" y1="326.10" x2="330.20" y2="331.00" stroke="#111" stroke-width="1.1"/>
<path d="M328.30,327.10 L330.20,323.60 L332.10,327.10 Z" fill="#111"/>
<line x1="378.50" y1="326.10" x2="378.50" y2="331.00" stroke="#111" stroke-width="1.1"/>
<path d="M376.60,327.10 L378.50,323.60 L380.40,327.10 Z" fill="#111"/>
<text x="323.40" y="338.90" text-anchor="start" style="font-size:6.73px;" fill="#111" stroke="#111" stroke-width="0.22" textLength="32.80" lengthAdjust="spacingAndGlyphs">1×-<tspan font-style="italic">MEM</tspan> AA</text>
<text x="364.90" y="338.90" text-anchor="start" style="font-size:6.71px;" fill="#111" stroke="#111" stroke-width="0.22" textLength="57.80" lengthAdjust="spacingAndGlyphs">100 μM Isoproterenol</text>
<line x1="392.00" y1="322.30" x2="399.10" y2="322.30" stroke="#111" stroke-width="0.9"/>
<text x="387.10" y="329.20" text-anchor="start" style="font-size:6.75px;" fill="#111" stroke="#111" stroke-width="0.22" textLength="15.00" lengthAdjust="spacingAndGlyphs">2 min</text>
<text x="0.00" y="0.00" text-anchor="middle" style="font-size:6.47px;" fill="#111" stroke="#111" stroke-width="0.22" transform="translate(429.30 297.60) scale(0.95 1) rotate(-90)" textLength="58.60" lengthAdjust="spacingAndGlyphs">Nuclear PKA Activity</text>
<text x="0.00" y="0.00" text-anchor="middle" style="font-size:6.22px;" fill="#111" stroke="#111" stroke-width="0.22" transform="translate(436.00 297.30) scale(0.95 1) rotate(-90)" textLength="86.40" lengthAdjust="spacingAndGlyphs"><tspan font-style="italic">AKAR4nls</tspan> Fluorescence (R/R<tspan dy="1.74" font-size="4.35">0</tspan><tspan dy="-1.74">&#8203;</tspan>)</text>
<line x1="453.30" y1="269.00" x2="453.30" y2="326.20" stroke="#3a3a3a" stroke-width="1.0"/>
<line x1="451.10" y1="270.30" x2="453.30" y2="270.30" stroke="#3a3a3a" stroke-width="1.0"/>
<text x="450.40" y="272.49" text-anchor="end" style="font-size:5.38px;font-weight:bold;" fill="#111" stroke="#111" stroke-width="0.22" textLength="6.92" lengthAdjust="spacingAndGlyphs">1.5</text>
<line x1="451.10" y1="280.50" x2="453.30" y2="280.50" stroke="#3a3a3a" stroke-width="1.0"/>
<text x="450.40" y="282.69" text-anchor="end" style="font-size:5.38px;font-weight:bold;" fill="#111" stroke="#111" stroke-width="0.22" textLength="6.92" lengthAdjust="spacingAndGlyphs">1.4</text>
<line x1="451.10" y1="290.60" x2="453.30" y2="290.60" stroke="#3a3a3a" stroke-width="1.0"/>
<text x="450.40" y="292.79" text-anchor="end" style="font-size:5.38px;font-weight:bold;" fill="#111" stroke="#111" stroke-width="0.22" textLength="6.92" lengthAdjust="spacingAndGlyphs">1.3</text>
<line x1="451.10" y1="300.70" x2="453.30" y2="300.70" stroke="#3a3a3a" stroke-width="1.0"/>
<text x="450.40" y="302.89" text-anchor="end" style="font-size:5.38px;font-weight:bold;" fill="#111" stroke="#111" stroke-width="0.22" textLength="6.92" lengthAdjust="spacingAndGlyphs">1.2</text>
<line x1="451.10" y1="311.30" x2="453.30" y2="311.30" stroke="#3a3a3a" stroke-width="1.0"/>
<text x="450.40" y="313.49" text-anchor="end" style="font-size:5.38px;font-weight:bold;" fill="#111" stroke="#111" stroke-width="0.22" textLength="6.92" lengthAdjust="spacingAndGlyphs">1.1</text>
<line x1="451.10" y1="321.90" x2="453.30" y2="321.90" stroke="#3a3a3a" stroke-width="1.0"/>
<text x="450.40" y="324.09" text-anchor="end" style="font-size:5.38px;font-weight:bold;" fill="#111" stroke="#111" stroke-width="0.22" textLength="6.92" lengthAdjust="spacingAndGlyphs">1.0</text>
<text x="455.00" y="268.30" text-anchor="start" style="font-size:6.48px;font-style:italic;" fill="#111" stroke="#111" stroke-width="0.22" textLength="22.60" lengthAdjust="spacingAndGlyphs">Beas-2B</text>
<line x1="453.70" y1="321.47" x2="453.70" y2="324.47" stroke="#cfc4f2" stroke-width="0.45"/>
<line x1="454.31" y1="319.64" x2="454.31" y2="322.64" stroke="#cfc4f2" stroke-width="0.45"/>
<line x1="454.92" y1="319.46" x2="454.92" y2="322.46" stroke="#cfc4f2" stroke-width="0.45"/>
<line x1="455.53" y1="317.51" x2="455.53" y2="320.51" stroke="#cfc4f2" stroke-width="0.45"/>
<line x1="456.15" y1="319.89" x2="456.15" y2="322.89" stroke="#cfc4f2" stroke-width="0.45"/>
<line x1="456.76" y1="319.61" x2="456.76" y2="322.61" stroke="#cfc4f2" stroke-width="0.45"/>
<line x1="457.37" y1="319.42" x2="457.37" y2="322.42" stroke="#cfc4f2" stroke-width="0.45"/>
<line x1="457.98" y1="320.18" x2="457.98" y2="323.18" stroke="#cfc4f2" stroke-width="0.45"/>
<line x1="458.59" y1="320.28" x2="458.59" y2="323.28" stroke="#cfc4f2" stroke-width="0.45"/>
<line x1="459.20" y1="318.94" x2="459.20" y2="321.94" stroke="#cfc4f2" stroke-width="0.45"/>
<line x1="459.81" y1="319.10" x2="459.81" y2="322.10" stroke="#cfc4f2" stroke-width="0.45"/>
<line x1="460.43" y1="319.47" x2="460.43" y2="322.47" stroke="#cfc4f2" stroke-width="0.45"/>
<line x1="461.04" y1="320.52" x2="461.04" y2="323.52" stroke="#cfc4f2" stroke-width="0.45"/>
<line x1="461.65" y1="320.41" x2="461.65" y2="323.41" stroke="#cfc4f2" stroke-width="0.45"/>
<line x1="462.26" y1="318.73" x2="462.26" y2="321.73" stroke="#cfc4f2" stroke-width="0.45"/>
<line x1="462.87" y1="318.89" x2="462.87" y2="321.89" stroke="#cfc4f2" stroke-width="0.45"/>
<line x1="463.48" y1="320.56" x2="463.48" y2="323.56" stroke="#cfc4f2" stroke-width="0.45"/>
<line x1="464.10" y1="321.32" x2="464.10" y2="324.32" stroke="#cfc4f2" stroke-width="0.45"/>
<line x1="464.71" y1="319.87" x2="464.71" y2="322.87" stroke="#cfc4f2" stroke-width="0.45"/>
<line x1="465.32" y1="319.28" x2="465.32" y2="322.28" stroke="#cfc4f2" stroke-width="0.45"/>
<line x1="465.93" y1="320.89" x2="465.93" y2="323.89" stroke="#cfc4f2" stroke-width="0.45"/>
<line x1="466.54" y1="319.62" x2="466.54" y2="322.62" stroke="#cfc4f2" stroke-width="0.45"/>
<line x1="467.15" y1="320.55" x2="467.15" y2="323.55" stroke="#cfc4f2" stroke-width="0.45"/>
<line x1="467.76" y1="321.29" x2="467.76" y2="324.29" stroke="#cfc4f2" stroke-width="0.45"/>
<line x1="468.38" y1="320.47" x2="468.38" y2="323.47" stroke="#cfc4f2" stroke-width="0.45"/>
<line x1="468.99" y1="319.97" x2="468.99" y2="322.97" stroke="#cfc4f2" stroke-width="0.45"/>
<line x1="469.60" y1="320.56" x2="469.60" y2="323.56" stroke="#cfc4f2" stroke-width="0.45"/>
<line x1="470.21" y1="319.32" x2="470.21" y2="322.32" stroke="#cfc4f2" stroke-width="0.45"/>
<line x1="470.82" y1="319.74" x2="470.82" y2="322.74" stroke="#cfc4f2" stroke-width="0.45"/>
<line x1="471.43" y1="319.38" x2="471.43" y2="322.38" stroke="#cfc4f2" stroke-width="0.45"/>
<line x1="472.04" y1="319.72" x2="472.04" y2="322.72" stroke="#cfc4f2" stroke-width="0.45"/>
<line x1="472.66" y1="319.46" x2="472.66" y2="322.46" stroke="#cfc4f2" stroke-width="0.45"/>
<line x1="473.27" y1="319.73" x2="473.27" y2="322.73" stroke="#cfc4f2" stroke-width="0.45"/>
<line x1="473.88" y1="319.56" x2="473.88" y2="322.56" stroke="#cfc4f2" stroke-width="0.45"/>
<line x1="474.49" y1="319.98" x2="474.49" y2="322.98" stroke="#cfc4f2" stroke-width="0.45"/>
<line x1="475.10" y1="319.96" x2="475.10" y2="322.96" stroke="#cfc4f2" stroke-width="0.45"/>
<line x1="475.71" y1="320.17" x2="475.71" y2="323.17" stroke="#cfc4f2" stroke-width="0.45"/>
<line x1="476.32" y1="321.16" x2="476.32" y2="324.16" stroke="#cfc4f2" stroke-width="0.45"/>
<line x1="476.94" y1="318.51" x2="476.94" y2="321.51" stroke="#cfc4f2" stroke-width="0.45"/>
<line x1="477.55" y1="321.07" x2="477.55" y2="324.07" stroke="#cfc4f2" stroke-width="0.45"/>
<line x1="478.16" y1="319.69" x2="478.16" y2="322.69" stroke="#cfc4f2" stroke-width="0.45"/>
<line x1="478.77" y1="318.79" x2="478.77" y2="321.79" stroke="#cfc4f2" stroke-width="0.45"/>
<line x1="479.38" y1="319.74" x2="479.38" y2="322.74" stroke="#cfc4f2" stroke-width="0.45"/>
<line x1="479.99" y1="319.98" x2="479.99" y2="322.98" stroke="#cfc4f2" stroke-width="0.45"/>
<line x1="480.60" y1="320.86" x2="480.60" y2="323.86" stroke="#cfc4f2" stroke-width="0.45"/>
<line x1="481.22" y1="318.94" x2="481.22" y2="321.94" stroke="#cfc4f2" stroke-width="0.45"/>
<line x1="481.83" y1="320.10" x2="481.83" y2="323.10" stroke="#cfc4f2" stroke-width="0.45"/>
<line x1="482.44" y1="320.01" x2="482.44" y2="323.01" stroke="#cfc4f2" stroke-width="0.45"/>
<line x1="483.05" y1="318.38" x2="483.05" y2="321.38" stroke="#cfc4f2" stroke-width="0.45"/>
<line x1="483.66" y1="318.83" x2="483.66" y2="321.83" stroke="#cfc4f2" stroke-width="0.45"/>
<line x1="484.27" y1="320.44" x2="484.27" y2="323.44" stroke="#cfc4f2" stroke-width="0.45"/>
<line x1="484.89" y1="320.53" x2="484.89" y2="323.53" stroke="#cfc4f2" stroke-width="0.45"/>
<line x1="485.50" y1="320.88" x2="485.50" y2="323.88" stroke="#cfc4f2" stroke-width="0.45"/>
<line x1="486.11" y1="320.38" x2="486.11" y2="323.38" stroke="#cfc4f2" stroke-width="0.45"/>
<line x1="486.72" y1="320.26" x2="486.72" y2="323.26" stroke="#cfc4f2" stroke-width="0.45"/>
<line x1="487.33" y1="320.01" x2="487.33" y2="323.01" stroke="#cfc4f2" stroke-width="0.45"/>
<line x1="487.94" y1="320.99" x2="487.94" y2="323.99" stroke="#cfc4f2" stroke-width="0.45"/>
<line x1="488.55" y1="319.14" x2="488.55" y2="322.14" stroke="#cfc4f2" stroke-width="0.45"/>
<line x1="489.17" y1="319.77" x2="489.17" y2="322.77" stroke="#cfc4f2" stroke-width="0.45"/>
<line x1="489.78" y1="320.25" x2="489.78" y2="323.25" stroke="#cfc4f2" stroke-width="0.45"/>
<line x1="490.39" y1="318.48" x2="490.39" y2="321.48" stroke="#cfc4f2" stroke-width="0.45"/>
<line x1="491.00" y1="321.08" x2="491.00" y2="324.08" stroke="#cfc4f2" stroke-width="0.45"/>
<circle cx="453.70" cy="322.97" r="0.95" fill="#2d1b5c"/>
<circle cx="454.31" cy="321.14" r="0.95" fill="#2d1b5c"/>
<circle cx="454.92" cy="320.96" r="0.95" fill="#2d1b5c"/>
<circle cx="455.53" cy="319.01" r="0.95" fill="#2d1b5c"/>
<circle cx="456.15" cy="321.39" r="0.95" fill="#2d1b5c"/>
<circle cx="456.76" cy="321.11" r="0.95" fill="#2d1b5c"/>
<circle cx="457.37" cy="320.92" r="0.95" fill="#2d1b5c"/>
<circle cx="457.98" cy="321.68" r="0.95" fill="#2d1b5c"/>
<circle cx="458.59" cy="321.78" r="0.95" fill="#2d1b5c"/>
<circle cx="459.20" cy="320.44" r="0.95" fill="#2d1b5c"/>
<circle cx="459.81" cy="320.60" r="0.95" fill="#2d1b5c"/>
<circle cx="460.43" cy="320.97" r="0.95" fill="#2d1b5c"/>
<circle cx="461.04" cy="322.02" r="0.95" fill="#2d1b5c"/>
<circle cx="461.65" cy="321.91" r="0.95" fill="#2d1b5c"/>
<circle cx="462.26" cy="320.23" r="0.95" fill="#2d1b5c"/>
<circle cx="462.87" cy="320.39" r="0.95" fill="#2d1b5c"/>
<circle cx="463.48" cy="322.06" r="0.95" fill="#2d1b5c"/>
<circle cx="464.10" cy="322.82" r="0.95" fill="#2d1b5c"/>
<circle cx="464.71" cy="321.37" r="0.95" fill="#2d1b5c"/>
<circle cx="465.32" cy="320.78" r="0.95" fill="#2d1b5c"/>
<circle cx="465.93" cy="322.39" r="0.95" fill="#2d1b5c"/>
<circle cx="466.54" cy="321.12" r="0.95" fill="#2d1b5c"/>
<circle cx="467.15" cy="322.05" r="0.95" fill="#2d1b5c"/>
<circle cx="467.76" cy="322.79" r="0.95" fill="#2d1b5c"/>
<circle cx="468.38" cy="321.97" r="0.95" fill="#2d1b5c"/>
<circle cx="468.99" cy="321.47" r="0.95" fill="#2d1b5c"/>
<circle cx="469.60" cy="322.06" r="0.95" fill="#2d1b5c"/>
<circle cx="470.21" cy="320.82" r="0.95" fill="#2d1b5c"/>
<circle cx="470.82" cy="321.24" r="0.95" fill="#2d1b5c"/>
<circle cx="471.43" cy="320.88" r="0.95" fill="#2d1b5c"/>
<circle cx="472.04" cy="321.22" r="0.95" fill="#2d1b5c"/>
<circle cx="472.66" cy="320.96" r="0.95" fill="#2d1b5c"/>
<circle cx="473.27" cy="321.23" r="0.95" fill="#2d1b5c"/>
<circle cx="473.88" cy="321.06" r="0.95" fill="#2d1b5c"/>
<circle cx="474.49" cy="321.48" r="0.95" fill="#2d1b5c"/>
<circle cx="475.10" cy="321.46" r="0.95" fill="#2d1b5c"/>
<circle cx="475.71" cy="321.67" r="0.95" fill="#2d1b5c"/>
<circle cx="476.32" cy="322.66" r="0.95" fill="#2d1b5c"/>
<circle cx="476.94" cy="320.01" r="0.95" fill="#2d1b5c"/>
<circle cx="477.55" cy="322.57" r="0.95" fill="#2d1b5c"/>
<circle cx="478.16" cy="321.19" r="0.95" fill="#2d1b5c"/>
<circle cx="478.77" cy="320.29" r="0.95" fill="#2d1b5c"/>
<circle cx="479.38" cy="321.24" r="0.95" fill="#2d1b5c"/>
<circle cx="479.99" cy="321.48" r="0.95" fill="#2d1b5c"/>
<circle cx="480.60" cy="322.36" r="0.95" fill="#2d1b5c"/>
<circle cx="481.22" cy="320.44" r="0.95" fill="#2d1b5c"/>
<circle cx="481.83" cy="321.60" r="0.95" fill="#2d1b5c"/>
<circle cx="482.44" cy="321.51" r="0.95" fill="#2d1b5c"/>
<circle cx="483.05" cy="319.88" r="0.95" fill="#2d1b5c"/>
<circle cx="483.66" cy="320.33" r="0.95" fill="#2d1b5c"/>
<circle cx="484.27" cy="321.94" r="0.95" fill="#2d1b5c"/>
<circle cx="484.89" cy="322.03" r="0.95" fill="#2d1b5c"/>
<circle cx="485.50" cy="322.38" r="0.95" fill="#2d1b5c"/>
<circle cx="486.11" cy="321.88" r="0.95" fill="#2d1b5c"/>
<circle cx="486.72" cy="321.76" r="0.95" fill="#2d1b5c"/>
<circle cx="487.33" cy="321.51" r="0.95" fill="#2d1b5c"/>
<circle cx="487.94" cy="322.49" r="0.95" fill="#2d1b5c"/>
<circle cx="488.55" cy="320.64" r="0.95" fill="#2d1b5c"/>
<circle cx="489.17" cy="321.27" r="0.95" fill="#2d1b5c"/>
<circle cx="489.78" cy="321.75" r="0.95" fill="#2d1b5c"/>
<circle cx="490.39" cy="319.98" r="0.95" fill="#2d1b5c"/>
<circle cx="491.00" cy="322.58" r="0.95" fill="#2d1b5c"/>
<line x1="491.40" y1="317.12" x2="491.40" y2="320.27" stroke="#c8bbf2" stroke-width="0.5"/>
<line x1="491.90" y1="316.66" x2="491.90" y2="319.68" stroke="#c8bbf2" stroke-width="0.5"/>
<line x1="492.40" y1="316.91" x2="492.40" y2="320.26" stroke="#c8bbf2" stroke-width="0.5"/>
<line x1="492.90" y1="309.96" x2="492.90" y2="314.21" stroke="#c8bbf2" stroke-width="0.5"/>
<line x1="493.40" y1="309.10" x2="493.40" y2="313.39" stroke="#c8bbf2" stroke-width="0.5"/>
<line x1="493.90" y1="310.47" x2="493.90" y2="315.19" stroke="#c8bbf2" stroke-width="0.5"/>
<line x1="494.40" y1="307.30" x2="494.40" y2="311.84" stroke="#c8bbf2" stroke-width="0.5"/>
<line x1="494.90" y1="308.75" x2="494.90" y2="312.17" stroke="#c8bbf2" stroke-width="0.5"/>
<line x1="495.40" y1="308.62" x2="495.40" y2="313.10" stroke="#c8bbf2" stroke-width="0.5"/>
<line x1="495.90" y1="308.39" x2="495.90" y2="313.96" stroke="#c8bbf2" stroke-width="0.5"/>
<line x1="496.40" y1="308.72" x2="496.40" y2="312.89" stroke="#c8bbf2" stroke-width="0.5"/>
<line x1="496.90" y1="308.15" x2="496.90" y2="312.91" stroke="#c8bbf2" stroke-width="0.5"/>
<line x1="497.40" y1="308.62" x2="497.40" y2="313.69" stroke="#c8bbf2" stroke-width="0.5"/>
<line x1="497.90" y1="309.08" x2="497.90" y2="313.58" stroke="#c8bbf2" stroke-width="0.5"/>
<line x1="498.40" y1="307.88" x2="498.40" y2="312.42" stroke="#c8bbf2" stroke-width="0.5"/>
<line x1="498.90" y1="306.26" x2="498.90" y2="311.51" stroke="#c8bbf2" stroke-width="0.5"/>
<line x1="499.40" y1="305.77" x2="499.40" y2="310.23" stroke="#c8bbf2" stroke-width="0.5"/>
<line x1="499.90" y1="304.09" x2="499.90" y2="309.18" stroke="#c8bbf2" stroke-width="0.5"/>
<line x1="500.40" y1="307.02" x2="500.40" y2="311.55" stroke="#c8bbf2" stroke-width="0.5"/>
<line x1="500.90" y1="303.86" x2="500.90" y2="309.88" stroke="#c8bbf2" stroke-width="0.5"/>
<line x1="501.40" y1="305.92" x2="501.40" y2="313.19" stroke="#c8bbf2" stroke-width="0.5"/>
<line x1="501.90" y1="307.15" x2="501.90" y2="313.33" stroke="#c8bbf2" stroke-width="0.5"/>
<line x1="502.40" y1="302.67" x2="502.40" y2="309.06" stroke="#c8bbf2" stroke-width="0.5"/>
<line x1="502.90" y1="303.56" x2="502.90" y2="309.94" stroke="#c8bbf2" stroke-width="0.5"/>
<line x1="503.40" y1="303.85" x2="503.40" y2="309.35" stroke="#c8bbf2" stroke-width="0.5"/>
<line x1="503.90" y1="305.58" x2="503.90" y2="311.76" stroke="#c8bbf2" stroke-width="0.5"/>
<line x1="504.40" y1="303.05" x2="504.40" y2="308.61" stroke="#c8bbf2" stroke-width="0.5"/>
<line x1="504.90" y1="303.63" x2="504.90" y2="309.38" stroke="#c8bbf2" stroke-width="0.5"/>
<line x1="505.40" y1="301.74" x2="505.40" y2="309.11" stroke="#c8bbf2" stroke-width="0.5"/>
<line x1="505.90" y1="303.61" x2="505.90" y2="309.73" stroke="#c8bbf2" stroke-width="0.5"/>
<line x1="506.40" y1="304.46" x2="506.40" y2="311.85" stroke="#c8bbf2" stroke-width="0.5"/>
<line x1="506.90" y1="300.89" x2="506.90" y2="307.31" stroke="#c8bbf2" stroke-width="0.5"/>
<line x1="507.40" y1="301.30" x2="507.40" y2="308.30" stroke="#c8bbf2" stroke-width="0.5"/>
<line x1="507.90" y1="302.60" x2="507.90" y2="309.12" stroke="#c8bbf2" stroke-width="0.5"/>
<line x1="508.40" y1="301.80" x2="508.40" y2="308.92" stroke="#c8bbf2" stroke-width="0.5"/>
<line x1="508.90" y1="299.53" x2="508.90" y2="306.50" stroke="#c8bbf2" stroke-width="0.5"/>
<line x1="509.40" y1="302.03" x2="509.40" y2="308.89" stroke="#c8bbf2" stroke-width="0.5"/>
<line x1="509.90" y1="300.49" x2="509.90" y2="308.76" stroke="#c8bbf2" stroke-width="0.5"/>
<line x1="510.40" y1="301.47" x2="510.40" y2="308.81" stroke="#c8bbf2" stroke-width="0.5"/>
<line x1="510.90" y1="300.43" x2="510.90" y2="308.66" stroke="#c8bbf2" stroke-width="0.5"/>
<line x1="511.40" y1="295.63" x2="511.40" y2="303.88" stroke="#c8bbf2" stroke-width="0.5"/>
<line x1="511.90" y1="298.94" x2="511.90" y2="306.54" stroke="#c8bbf2" stroke-width="0.5"/>
<line x1="512.40" y1="299.54" x2="512.40" y2="309.13" stroke="#c8bbf2" stroke-width="0.5"/>
<line x1="512.90" y1="299.20" x2="512.90" y2="306.01" stroke="#c8bbf2" stroke-width="0.5"/>
<line x1="513.40" y1="299.39" x2="513.40" y2="306.11" stroke="#c8bbf2" stroke-width="0.5"/>
<line x1="513.90" y1="300.81" x2="513.90" y2="310.36" stroke="#c8bbf2" stroke-width="0.5"/>
<line x1="514.40" y1="302.71" x2="514.40" y2="308.69" stroke="#c8bbf2" stroke-width="0.5"/>
<line x1="514.90" y1="296.88" x2="514.90" y2="306.35" stroke="#c8bbf2" stroke-width="0.5"/>
<line x1="515.40" y1="301.47" x2="515.40" y2="307.88" stroke="#c8bbf2" stroke-width="0.5"/>
<line x1="515.90" y1="294.70" x2="515.90" y2="302.51" stroke="#c8bbf2" stroke-width="0.5"/>
<line x1="516.40" y1="293.53" x2="516.40" y2="300.98" stroke="#c8bbf2" stroke-width="0.5"/>
<line x1="516.90" y1="297.17" x2="516.90" y2="305.50" stroke="#c8bbf2" stroke-width="0.5"/>
<line x1="517.40" y1="295.25" x2="517.40" y2="303.20" stroke="#c8bbf2" stroke-width="0.5"/>
<line x1="517.90" y1="297.87" x2="517.90" y2="306.24" stroke="#c8bbf2" stroke-width="0.5"/>
<line x1="518.40" y1="295.22" x2="518.40" y2="305.29" stroke="#c8bbf2" stroke-width="0.5"/>
<line x1="518.90" y1="295.02" x2="518.90" y2="304.73" stroke="#c8bbf2" stroke-width="0.5"/>
<line x1="519.40" y1="297.16" x2="519.40" y2="304.61" stroke="#c8bbf2" stroke-width="0.5"/>
<line x1="519.90" y1="293.25" x2="519.90" y2="305.58" stroke="#c8bbf2" stroke-width="0.5"/>
<line x1="520.40" y1="292.61" x2="520.40" y2="299.22" stroke="#c8bbf2" stroke-width="0.5"/>
<line x1="520.90" y1="293.23" x2="520.90" y2="303.76" stroke="#c8bbf2" stroke-width="0.5"/>
<line x1="521.40" y1="292.91" x2="521.40" y2="304.17" stroke="#c8bbf2" stroke-width="0.5"/>
<line x1="521.90" y1="296.84" x2="521.90" y2="307.39" stroke="#c8bbf2" stroke-width="0.5"/>
<line x1="522.40" y1="290.40" x2="522.40" y2="299.25" stroke="#c8bbf2" stroke-width="0.5"/>
<line x1="522.90" y1="292.84" x2="522.90" y2="304.26" stroke="#c8bbf2" stroke-width="0.5"/>
<line x1="523.40" y1="290.66" x2="523.40" y2="302.50" stroke="#c8bbf2" stroke-width="0.5"/>
<line x1="523.90" y1="291.55" x2="523.90" y2="303.52" stroke="#c8bbf2" stroke-width="0.5"/>
<line x1="524.40" y1="296.04" x2="524.40" y2="305.49" stroke="#c8bbf2" stroke-width="0.5"/>
<line x1="524.90" y1="292.10" x2="524.90" y2="304.36" stroke="#c8bbf2" stroke-width="0.5"/>
<line x1="525.40" y1="291.30" x2="525.40" y2="300.24" stroke="#c8bbf2" stroke-width="0.5"/>
<line x1="525.90" y1="292.53" x2="525.90" y2="302.35" stroke="#c8bbf2" stroke-width="0.5"/>
<line x1="526.40" y1="290.48" x2="526.40" y2="300.46" stroke="#c8bbf2" stroke-width="0.5"/>
<line x1="526.90" y1="287.47" x2="526.90" y2="299.43" stroke="#c8bbf2" stroke-width="0.5"/>
<line x1="527.40" y1="288.53" x2="527.40" y2="301.11" stroke="#c8bbf2" stroke-width="0.5"/>
<line x1="527.90" y1="293.65" x2="527.90" y2="306.87" stroke="#c8bbf2" stroke-width="0.5"/>
<line x1="528.40" y1="291.36" x2="528.40" y2="303.57" stroke="#c8bbf2" stroke-width="0.5"/>
<line x1="528.90" y1="289.07" x2="528.90" y2="301.45" stroke="#c8bbf2" stroke-width="0.5"/>
<line x1="529.40" y1="288.05" x2="529.40" y2="299.44" stroke="#c8bbf2" stroke-width="0.5"/>
<line x1="529.90" y1="291.02" x2="529.90" y2="301.46" stroke="#c8bbf2" stroke-width="0.5"/>
<line x1="530.40" y1="286.02" x2="530.40" y2="297.77" stroke="#c8bbf2" stroke-width="0.5"/>
<line x1="530.90" y1="292.80" x2="530.90" y2="304.93" stroke="#c8bbf2" stroke-width="0.5"/>
<line x1="531.40" y1="291.29" x2="531.40" y2="303.63" stroke="#c8bbf2" stroke-width="0.5"/>
<line x1="531.90" y1="289.78" x2="531.90" y2="300.29" stroke="#c8bbf2" stroke-width="0.5"/>
<line x1="532.40" y1="283.81" x2="532.40" y2="299.72" stroke="#c8bbf2" stroke-width="0.5"/>
<line x1="532.90" y1="284.00" x2="532.90" y2="299.04" stroke="#c8bbf2" stroke-width="0.5"/>
<line x1="533.40" y1="290.48" x2="533.40" y2="303.06" stroke="#c8bbf2" stroke-width="0.5"/>
<line x1="533.90" y1="287.80" x2="533.90" y2="300.00" stroke="#c8bbf2" stroke-width="0.5"/>
<line x1="534.40" y1="285.91" x2="534.40" y2="297.33" stroke="#c8bbf2" stroke-width="0.5"/>
<line x1="534.90" y1="287.10" x2="534.90" y2="301.71" stroke="#c8bbf2" stroke-width="0.5"/>
<line x1="535.40" y1="290.77" x2="535.40" y2="300.75" stroke="#c8bbf2" stroke-width="0.5"/>
<line x1="535.90" y1="285.98" x2="535.90" y2="297.94" stroke="#c8bbf2" stroke-width="0.5"/>
<line x1="536.40" y1="286.30" x2="536.40" y2="297.33" stroke="#c8bbf2" stroke-width="0.5"/>
<line x1="536.90" y1="283.82" x2="536.90" y2="295.68" stroke="#c8bbf2" stroke-width="0.5"/>
<line x1="537.40" y1="281.23" x2="537.40" y2="295.43" stroke="#c8bbf2" stroke-width="0.5"/>
<line x1="537.90" y1="287.85" x2="537.90" y2="301.16" stroke="#c8bbf2" stroke-width="0.5"/>
<line x1="538.40" y1="279.79" x2="538.40" y2="293.51" stroke="#c8bbf2" stroke-width="0.5"/>
<circle cx="491.40" cy="318.71" r="1.0" fill="#2d1b5c"/>
<circle cx="491.90" cy="317.93" r="1.0" fill="#2d1b5c"/>
<circle cx="492.40" cy="318.26" r="1.0" fill="#2d1b5c"/>
<circle cx="492.90" cy="312.17" r="1.0" fill="#2d1b5c"/>
<circle cx="493.40" cy="311.25" r="1.0" fill="#2d1b5c"/>
<circle cx="493.90" cy="313.09" r="1.0" fill="#2d1b5c"/>
<circle cx="494.40" cy="309.93" r="1.0" fill="#2d1b5c"/>
<circle cx="494.90" cy="310.40" r="1.0" fill="#2d1b5c"/>
<circle cx="495.40" cy="311.28" r="1.0" fill="#2d1b5c"/>
<circle cx="495.90" cy="311.08" r="1.0" fill="#2d1b5c"/>
<circle cx="496.40" cy="311.11" r="1.0" fill="#2d1b5c"/>
<circle cx="496.90" cy="310.72" r="1.0" fill="#2d1b5c"/>
<circle cx="497.40" cy="311.71" r="1.0" fill="#2d1b5c"/>
<circle cx="497.90" cy="311.12" r="1.0" fill="#2d1b5c"/>
<circle cx="498.40" cy="310.41" r="1.0" fill="#2d1b5c"/>
<circle cx="498.90" cy="308.63" r="1.0" fill="#2d1b5c"/>
<circle cx="499.40" cy="308.36" r="1.0" fill="#2d1b5c"/>
<circle cx="499.90" cy="306.63" r="1.0" fill="#2d1b5c"/>
<circle cx="500.40" cy="309.67" r="1.0" fill="#2d1b5c"/>
<circle cx="500.90" cy="306.24" r="1.0" fill="#2d1b5c"/>
<circle cx="501.40" cy="309.50" r="1.0" fill="#2d1b5c"/>
<circle cx="501.90" cy="310.56" r="1.0" fill="#2d1b5c"/>
<circle cx="502.40" cy="306.50" r="1.0" fill="#2d1b5c"/>
<circle cx="502.90" cy="306.76" r="1.0" fill="#2d1b5c"/>
<circle cx="503.40" cy="306.80" r="1.0" fill="#2d1b5c"/>
<circle cx="503.90" cy="308.34" r="1.0" fill="#2d1b5c"/>
<circle cx="504.40" cy="305.77" r="1.0" fill="#2d1b5c"/>
<circle cx="504.90" cy="306.54" r="1.0" fill="#2d1b5c"/>
<circle cx="505.40" cy="305.73" r="1.0" fill="#2d1b5c"/>
<circle cx="505.90" cy="305.87" r="1.0" fill="#2d1b5c"/>
<circle cx="506.40" cy="307.84" r="1.0" fill="#2d1b5c"/>
<circle cx="506.90" cy="304.31" r="1.0" fill="#2d1b5c"/>
<circle cx="507.40" cy="305.57" r="1.0" fill="#2d1b5c"/>
<circle cx="507.90" cy="305.62" r="1.0" fill="#2d1b5c"/>
<circle cx="508.40" cy="306.25" r="1.0" fill="#2d1b5c"/>
<circle cx="508.90" cy="302.78" r="1.0" fill="#2d1b5c"/>
<circle cx="509.40" cy="306.16" r="1.0" fill="#2d1b5c"/>
<circle cx="509.90" cy="304.87" r="1.0" fill="#2d1b5c"/>
<circle cx="510.40" cy="305.32" r="1.0" fill="#2d1b5c"/>
<circle cx="510.90" cy="303.81" r="1.0" fill="#2d1b5c"/>
<circle cx="511.40" cy="300.82" r="1.0" fill="#2d1b5c"/>
<circle cx="511.90" cy="302.14" r="1.0" fill="#2d1b5c"/>
<circle cx="512.40" cy="304.26" r="1.0" fill="#2d1b5c"/>
<circle cx="512.90" cy="302.73" r="1.0" fill="#2d1b5c"/>
<circle cx="513.40" cy="302.34" r="1.0" fill="#2d1b5c"/>
<circle cx="513.90" cy="305.15" r="1.0" fill="#2d1b5c"/>
<circle cx="514.40" cy="305.62" r="1.0" fill="#2d1b5c"/>
<circle cx="514.90" cy="301.59" r="1.0" fill="#2d1b5c"/>
<circle cx="515.40" cy="304.72" r="1.0" fill="#2d1b5c"/>
<circle cx="515.90" cy="297.70" r="1.0" fill="#2d1b5c"/>
<circle cx="516.40" cy="297.31" r="1.0" fill="#2d1b5c"/>
<circle cx="516.90" cy="302.15" r="1.0" fill="#2d1b5c"/>
<circle cx="517.40" cy="299.90" r="1.0" fill="#2d1b5c"/>
<circle cx="517.90" cy="301.13" r="1.0" fill="#2d1b5c"/>
<circle cx="518.40" cy="300.76" r="1.0" fill="#2d1b5c"/>
<circle cx="518.90" cy="299.41" r="1.0" fill="#2d1b5c"/>
<circle cx="519.40" cy="300.57" r="1.0" fill="#2d1b5c"/>
<circle cx="519.90" cy="299.34" r="1.0" fill="#2d1b5c"/>
<circle cx="520.40" cy="295.97" r="1.0" fill="#2d1b5c"/>
<circle cx="520.90" cy="299.01" r="1.0" fill="#2d1b5c"/>
<circle cx="521.40" cy="298.73" r="1.0" fill="#2d1b5c"/>
<circle cx="521.90" cy="301.68" r="1.0" fill="#2d1b5c"/>
<circle cx="522.40" cy="295.82" r="1.0" fill="#2d1b5c"/>
<circle cx="522.90" cy="297.84" r="1.0" fill="#2d1b5c"/>
<circle cx="523.40" cy="296.80" r="1.0" fill="#2d1b5c"/>
<circle cx="523.90" cy="297.20" r="1.0" fill="#2d1b5c"/>
<circle cx="524.40" cy="300.59" r="1.0" fill="#2d1b5c"/>
<circle cx="524.90" cy="297.89" r="1.0" fill="#2d1b5c"/>
<circle cx="525.40" cy="296.04" r="1.0" fill="#2d1b5c"/>
<circle cx="525.90" cy="297.14" r="1.0" fill="#2d1b5c"/>
<circle cx="526.40" cy="294.50" r="1.0" fill="#2d1b5c"/>
<circle cx="526.90" cy="294.48" r="1.0" fill="#2d1b5c"/>
<circle cx="527.40" cy="295.82" r="1.0" fill="#2d1b5c"/>
<circle cx="527.90" cy="299.43" r="1.0" fill="#2d1b5c"/>
<circle cx="528.40" cy="297.85" r="1.0" fill="#2d1b5c"/>
<circle cx="528.90" cy="295.80" r="1.0" fill="#2d1b5c"/>
<circle cx="529.40" cy="294.71" r="1.0" fill="#2d1b5c"/>
<circle cx="529.90" cy="295.22" r="1.0" fill="#2d1b5c"/>
<circle cx="530.40" cy="292.02" r="1.0" fill="#2d1b5c"/>
<circle cx="530.90" cy="297.24" r="1.0" fill="#2d1b5c"/>
<circle cx="531.40" cy="295.74" r="1.0" fill="#2d1b5c"/>
<circle cx="531.90" cy="295.11" r="1.0" fill="#2d1b5c"/>
<circle cx="532.40" cy="291.72" r="1.0" fill="#2d1b5c"/>
<circle cx="532.90" cy="291.00" r="1.0" fill="#2d1b5c"/>
<circle cx="533.40" cy="295.36" r="1.0" fill="#2d1b5c"/>
<circle cx="533.90" cy="294.58" r="1.0" fill="#2d1b5c"/>
<circle cx="534.40" cy="292.65" r="1.0" fill="#2d1b5c"/>
<circle cx="534.90" cy="294.73" r="1.0" fill="#2d1b5c"/>
<circle cx="535.40" cy="295.52" r="1.0" fill="#2d1b5c"/>
<circle cx="535.90" cy="291.56" r="1.0" fill="#2d1b5c"/>
<circle cx="536.40" cy="291.67" r="1.0" fill="#2d1b5c"/>
<circle cx="536.90" cy="290.64" r="1.0" fill="#2d1b5c"/>
<circle cx="537.40" cy="289.00" r="1.0" fill="#2d1b5c"/>
<circle cx="537.90" cy="294.13" r="1.0" fill="#2d1b5c"/>
<circle cx="538.40" cy="285.00" r="1.0" fill="#2d1b5c"/>
<line x1="458.30" y1="329.40" x2="458.30" y2="334.50" stroke="#111" stroke-width="1.1"/>
<path d="M456.40,330.40 L458.30,326.90 L460.20,330.40 Z" fill="#111"/>
<line x1="489.70" y1="329.40" x2="489.70" y2="334.50" stroke="#111" stroke-width="1.1"/>
<path d="M487.80,330.40 L489.70,326.90 L491.60,330.40 Z" fill="#111"/>
<text x="447.50" y="341.20" text-anchor="start" style="font-size:6.67px;" fill="#111" stroke="#111" stroke-width="0.22" textLength="32.50" lengthAdjust="spacingAndGlyphs">1×-<tspan font-style="italic">MEM</tspan> AA</text>
<text x="484.80" y="341.20" text-anchor="start" style="font-size:6.75px;" fill="#111" stroke="#111" stroke-width="0.22" textLength="58.10" lengthAdjust="spacingAndGlyphs">100 μM Isoproterenol</text>
<line x1="529.00" y1="326.30" x2="536.90" y2="326.30" stroke="#111" stroke-width="0.9"/>
<text x="525.70" y="332.80" text-anchor="start" style="font-size:6.88px;" fill="#111" stroke="#111" stroke-width="0.22" textLength="15.30" lengthAdjust="spacingAndGlyphs">2 min</text>
</svg></body></html>
